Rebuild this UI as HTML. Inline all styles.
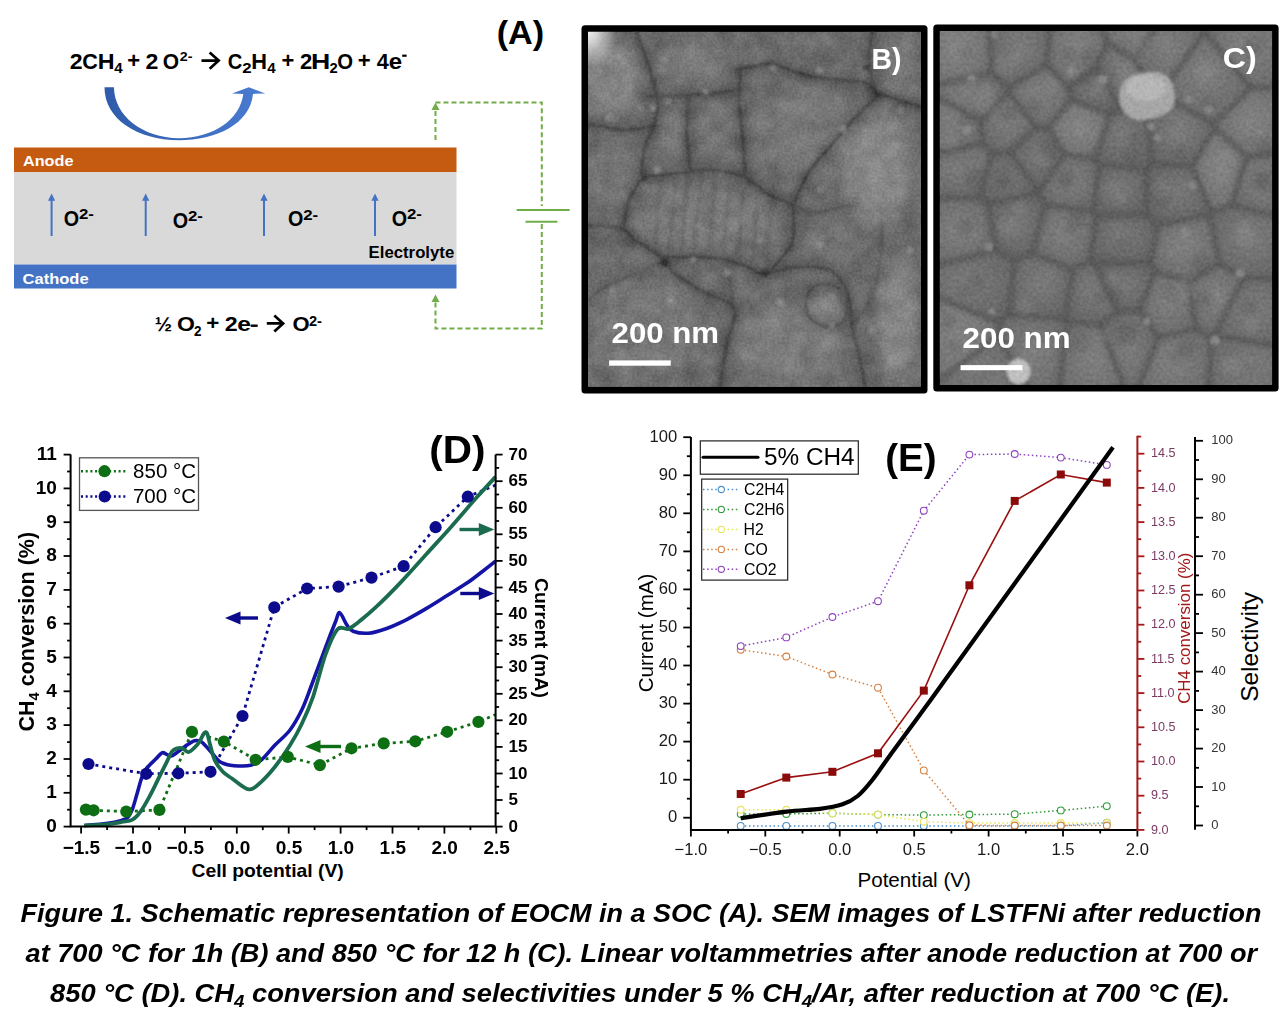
<!DOCTYPE html>
<html><head><meta charset="utf-8"><style>
html,body{margin:0;padding:0;background:#fff;}
body{width:1287px;height:1028px;overflow:hidden;}
svg{display:block;}
text{font-family:"Liberation Sans", sans-serif;}
.b{font-weight:bold;}
.r{font-weight:normal;}
.bi{font-weight:bold;font-style:italic;}
</style></head><body>
<svg width="1287" height="1028" viewBox="0 0 1287 1028" fill="#000">
<rect width="1287" height="1028" fill="#fff"/>
<rect x="14" y="147.5" width="442.5" height="24.5" fill="#C55A11"/>
<rect x="14" y="172" width="442.5" height="92.5" fill="#D9D9D9"/>
<rect x="14" y="264.5" width="442.5" height="24" fill="#4472C4"/>
<text transform="translate(22.89,166.1) scale(1.0507,1)" class="b" font-size="15.5" fill="#fff" >Anode</text>
<text transform="translate(22.62,283.8) scale(1.0652,1)" class="b" font-size="15.5" fill="#fff" >Cathode</text>
<text transform="translate(368.58,258.2) scale(1.0474,1)" class="b" font-size="16" fill="#000" >Electrolyte</text>
<line x1="51.6" y1="236" x2="51.6" y2="199" stroke="#4472C4" stroke-width="2"/>
<polygon points="48.0,200.8 51.6,193.4 55.2,200.8" fill="#4472C4"/>
<line x1="145.7" y1="236" x2="145.7" y2="199" stroke="#4472C4" stroke-width="2"/>
<polygon points="142.1,200.8 145.7,193.4 149.29999999999998,200.8" fill="#4472C4"/>
<line x1="264.0" y1="236" x2="264.0" y2="199" stroke="#4472C4" stroke-width="2"/>
<polygon points="260.4,200.8 264.0,193.4 267.6,200.8" fill="#4472C4"/>
<line x1="375.0" y1="236" x2="375.0" y2="199" stroke="#4472C4" stroke-width="2"/>
<polygon points="371.4,200.8 375.0,193.4 378.6,200.8" fill="#4472C4"/>
<text transform="translate(63.79,225.8) scale(0.8962,1)" class="b" font-size="22" fill="#000" >O</text>
<text transform="translate(78.92,219.2) scale(1.0852,1)" class="b" font-size="15.5" fill="#000" >2-</text>
<text transform="translate(172.79,227.60000000000002) scale(0.8962,1)" class="b" font-size="22" fill="#000" >O</text>
<text transform="translate(187.92,221.0) scale(1.0852,1)" class="b" font-size="15.5" fill="#000" >2-</text>
<text transform="translate(288.09,226.3) scale(0.8962,1)" class="b" font-size="22" fill="#000" >O</text>
<text transform="translate(303.22,219.7) scale(1.0852,1)" class="b" font-size="15.5" fill="#000" >2-</text>
<text transform="translate(391.79,225.8) scale(0.8962,1)" class="b" font-size="22" fill="#000" >O</text>
<text transform="translate(406.92,219.2) scale(1.0852,1)" class="b" font-size="15.5" fill="#000" >2-</text>
<text transform="translate(69.80,68.7) scale(1.0480,1)" class="b" font-size="22" fill="#000" >2</text>
<text transform="translate(82.32,68.7) scale(0.9803,1)" class="b" font-size="22" fill="#000" >C</text>
<text transform="translate(97.74,68.7) scale(1.0593,1)" class="b" font-size="22" fill="#000" >H</text>
<text transform="translate(114.27,72.8) scale(0.9819,1)" class="b" font-size="15.4" fill="#000" >4</text>
<text transform="translate(127.17,67.5) scale(1.0061,1)" class="b" font-size="22" fill="#000" >+</text>
<text transform="translate(145.50,68.7) scale(1.0480,1)" class="b" font-size="22" fill="#000" >2</text>
<text transform="translate(162.64,68.7) scale(0.9551,1)" class="b" font-size="22" fill="#000" >O</text>
<text transform="translate(179.71,61.2) scale(1.1127,1)" class="b" font-size="12.8" fill="#000" >2-</text>
<text transform="translate(227.67,68.7) scale(0.9177,1)" class="b" font-size="22" fill="#000" >C</text>
<text transform="translate(242.22,72.8) scale(1.0925,1)" class="b" font-size="15.4" fill="#000" >2</text>
<text transform="translate(251.34,68.7) scale(0.9897,1)" class="b" font-size="22" fill="#000" >H</text>
<text transform="translate(267.17,72.8) scale(0.9819,1)" class="b" font-size="15.4" fill="#000" >4</text>
<text transform="translate(281.38,67.5) scale(0.9971,1)" class="b" font-size="22" fill="#000" >+</text>
<text transform="translate(299.94,68.7) scale(1.0008,1)" class="b" font-size="22" fill="#000" >2</text>
<text transform="translate(311.01,68.7) scale(1.2139,1)" class="b" font-size="22" fill="#000" >H</text>
<text transform="translate(329.49,72.8) scale(0.9576,1)" class="b" font-size="15.4" fill="#000" >2</text>
<text transform="translate(337.27,68.7) scale(0.9224,1)" class="b" font-size="22" fill="#000" >O</text>
<text transform="translate(357.87,67.5) scale(1.0061,1)" class="b" font-size="22" fill="#000" >+</text>
<text transform="translate(376.67,68.7) scale(0.9844,1)" class="b" font-size="22" fill="#000" >4</text>
<text transform="translate(388.66,68.7) scale(1.0919,1)" class="b" font-size="22" fill="#000" >e</text>
<rect x="402.2" y="54.6" width="4.4" height="2.2" fill="#000"/>
<path d="M201.5,60.6 H218.70000000000002 M209.65,52.400000000000006 L218.70000000000002,60.6 L209.65,68.8" stroke="#000" stroke-width="2.7" fill="none" stroke-linecap="butt" stroke-linejoin="miter" stroke-miterlimit="10"/>
<text transform="translate(154.65,331.3) scale(0.9894,1)" class="b" font-size="21" fill="#000" >½</text>
<text transform="translate(177.06,331.3) scale(1.0965,1)" class="b" font-size="21" fill="#000" >O</text>
<text transform="translate(194.03,335.7) scale(0.9311,1)" class="b" font-size="14.5" fill="#000" >2</text>
<text transform="translate(206.36,330.1) scale(1.0636,1)" class="b" font-size="21" fill="#000" >+</text>
<text transform="translate(224.69,331.3) scale(1.1078,1)" class="b" font-size="21" fill="#000" >2</text>
<text transform="translate(237.14,331.3) scale(1.1734,1)" class="b" font-size="21" fill="#000" >e</text>
<rect x="250.7" y="324.5" width="7" height="2.4" fill="#000"/>
<path d="M266.8,323.4 H283.1 M274.3,315.4 L283.1,323.4 L274.3,331.4" stroke="#000" stroke-width="2.7" fill="none" stroke-linecap="butt" stroke-linejoin="miter" stroke-miterlimit="10"/>
<text transform="translate(292.50,331.3) scale(1.0486,1)" class="b" font-size="21" fill="#000" >O</text>
<text transform="translate(308.89,326.2) scale(1.0077,1)" class="b" font-size="14.5" fill="#000" >2-</text>
<text transform="translate(496.70,43.7) scale(1.0066,1)" class="b" font-size="34" fill="#000" >(A)</text>
<defs><linearGradient id="ga" x1="0" x2="1" y1="0" y2="0"><stop offset="0" stop-color="#2F5BAA"/><stop offset="1" stop-color="#4A7CD2"/></linearGradient></defs>
<path d="M104.5,87.3 L113.9,87.3 C114.5,116 142,137.6 179,138.3 C213,137.6 240,120 243.3,93.9 L232,93.5 L248.8,87.3 L265.3,93.5 L253,93.9 C250,124 216,140.2 179,140.2 C137,140.2 104.5,119 104.5,87.3 Z" fill="url(#ga)"/>
<path d="M435.5,140 V106 M435.5,102.6 H541.8 V206 M541.8,224 V328.6 H435.5 V297" stroke="#70AD47" stroke-width="2" stroke-dasharray="5,3" fill="none"/>
<polygon points="431.5,110 435.5,102.5 439.5,110" fill="#70AD47"/>
<polygon points="431.5,302 435.5,294.6 439.5,302" fill="#70AD47"/>
<line x1="516.6" y1="210" x2="569.7" y2="210" stroke="#70AD47" stroke-width="2"/>
<line x1="525.5" y1="221.7" x2="557.4" y2="221.7" stroke="#70AD47" stroke-width="2"/>
<defs><clipPath id="clip1"><rect x="588.0" y="31.7" width="333" height="355.2"/></clipPath></defs>
<rect x="581.5" y="25.2" width="346" height="368.2" rx="3.5" fill="#000"/>
<g clip-path="url(#clip1)">
<defs><filter id="fb1" color-interpolation-filters="sRGB" x="-20%" y="-20%" width="140%" height="140%"><feGaussianBlur stdDeviation="7"/></filter><filter id="fb2" color-interpolation-filters="sRGB" x="-20%" y="-20%" width="140%" height="140%"><feGaussianBlur stdDeviation="4"/></filter><filter id="fb3" color-interpolation-filters="sRGB" x="-20%" y="-20%" width="140%" height="140%"><feGaussianBlur stdDeviation="1.0"/></filter><filter id="fb4" color-interpolation-filters="sRGB" x="-50%" y="-50%" width="200%" height="200%"><feGaussianBlur stdDeviation="1.4"/></filter><filter id="fb2s" color-interpolation-filters="sRGB" x="-20%" y="-20%" width="140%" height="140%"><feGaussianBlur stdDeviation="1.8"/></filter><filter id="noise1b" color-interpolation-filters="sRGB" x="0" y="0" width="100%" height="100%"><feTurbulence type="fractalNoise" baseFrequency="0.06" numOctaves="2" seed="11"/><feColorMatrix type="matrix" values="1 0 0 0 0  1 0 0 0 0  1 0 0 0 0  0 0 0 0 1"/></filter><filter id="noise1" color-interpolation-filters="sRGB" x="0" y="0" width="100%" height="100%"><feTurbulence type="fractalNoise" baseFrequency="0.4" numOctaves="2" seed="3"/><feColorMatrix type="matrix" values="1 0 0 0 0  1 0 0 0 0  1 0 0 0 0  0 0 0 0 1"/></filter></defs>
<rect x="588.0" y="31.7" width="333" height="355.2" fill="rgb(100,100,100)"/>
<g filter="url(#fb1)">
<ellipse cx="612" cy="78" rx="28" ry="38" fill="rgb(138,138,138)" opacity="0.9"/>
<ellipse cx="612" cy="178" rx="24" ry="36" fill="rgb(118,118,118)" opacity="0.8"/>
<ellipse cx="668" cy="135" rx="14" ry="30" fill="rgb(118,118,118)" opacity="0.8"/>
<ellipse cx="715" cy="133" rx="20" ry="32" fill="rgb(114,114,114)" opacity="0.8"/>
<ellipse cx="695" cy="62" rx="36" ry="22" fill="rgb(126,126,126)" opacity="0.8"/>
<ellipse cx="805" cy="130" rx="48" ry="45" fill="rgb(122,122,122)" opacity="0.8"/>
<ellipse cx="898" cy="62" rx="16" ry="26" fill="rgb(128,128,128)" opacity="0.8"/>
<ellipse cx="878" cy="170" rx="34" ry="55" fill="rgb(142,142,142)" opacity="0.9"/>
<ellipse cx="705" cy="220" rx="70" ry="32" fill="rgb(124,124,124)" opacity="0.85"/>
<ellipse cx="830" cy="240" rx="26" ry="22" fill="rgb(116,116,116)" opacity="0.8"/>
<ellipse cx="645" cy="330" rx="55" ry="50" fill="rgb(120,120,120)" opacity="0.8"/>
<ellipse cx="700" cy="282" rx="22" ry="14" fill="rgb(110,110,110)" opacity="0.7"/>
<ellipse cx="790" cy="345" rx="55" ry="40" fill="rgb(128,128,128)" opacity="0.8"/>
<ellipse cx="827" cy="305" rx="17" ry="17" fill="rgb(132,132,132)" opacity="0.8"/>
<ellipse cx="897" cy="320" rx="20" ry="60" fill="rgb(140,140,140)" opacity="0.9"/>
</g>
<g filter="url(#fb2)" fill="none" stroke="rgb(45,45,45)" stroke-linecap="round" stroke-linejoin="round">
<path d="M636.6,31.0 C637.2,32.8 638.0,36.2 640.0,42.0 C642.0,47.8 645.9,56.0 648.8,65.7 C651.7,75.4 656.5,90.6 657.4,100.4 C658.3,110.2 656.0,117.3 654.0,124.8 C652.0,132.3 647.3,138.1 645.3,145.6 C643.3,153.1 642.1,164.7 641.8,169.9 C641.5,175.1 643.3,175.7 643.6,176.8" stroke-width="10" opacity="0.50"/>
<path d="M588.0,124.8 C590.8,125.2 599.2,126.1 605.0,127.0 C610.8,127.9 614.5,130.1 622.7,130.0 C630.9,129.9 648.8,127.1 654.0,126.5" stroke-width="10" opacity="0.45"/>
<path d="M688.7,97.0 C688.4,103.4 686.7,123.0 687.0,135.2 C687.3,147.3 689.8,164.1 690.4,169.9" stroke-width="10" opacity="0.40"/>
<path d="M647.0,97.0 C649.2,96.8 653.0,96.3 660.0,96.0 C667.0,95.7 679.5,95.7 688.7,95.2 C697.9,94.7 706.3,93.9 715.0,93.0 C723.7,92.1 736.5,90.5 740.8,90.0" stroke-width="10" opacity="0.40"/>
<path d="M740.8,69.2 C740.5,74.4 738.7,89.4 739.0,100.4 C739.3,111.4 741.3,122.5 742.5,135.2 C743.7,147.9 744.5,168.7 746.0,176.8 C747.5,184.9 750.3,182.6 751.2,183.8" stroke-width="10" opacity="0.45"/>
<path d="M737.3,69.2 C740.2,68.7 749.2,66.9 755.0,66.0 C760.8,65.1 766.2,63.3 772.0,64.0 C777.8,64.7 783.6,68.0 790.0,70.0 C796.4,72.0 801.9,74.4 810.2,76.1 C818.5,77.8 830.7,78.8 840.0,80.0 C849.3,81.2 859.8,80.8 865.8,83.0 C871.8,85.2 874.5,91.8 876.2,93.5" stroke-width="10" opacity="0.50"/>
<path d="M872.7,31.0 C872.1,34.2 869.9,44.2 869.3,50.0 C868.7,55.8 868.1,58.5 869.3,65.7 C870.4,73.0 875.1,88.9 876.2,93.5" stroke-width="10" opacity="0.40"/>
<path d="M876.2,93.5 C880.2,94.7 892.9,98.1 900.5,100.4 C908.1,102.7 918.4,106.2 922.0,107.4" stroke-width="10" opacity="0.50"/>
<path d="M876.2,97.0 C872.2,101.0 859.4,113.2 851.9,121.3 C844.4,129.4 838.0,137.5 831.0,145.6 C824.0,153.7 816.0,161.2 810.2,169.9 C804.4,178.6 799.2,191.9 796.3,197.7 C793.4,203.5 793.5,203.4 792.9,204.6" stroke-width="10" opacity="0.50"/>
<path d="M643.6,176.8 C646.3,176.5 654.8,175.6 660.0,175.0 C665.2,174.4 666.5,174.2 674.8,173.4 C683.0,172.6 697.9,169.3 709.5,169.9 C721.1,170.5 734.4,172.8 744.3,176.8 C754.1,180.9 760.5,189.6 768.6,194.2 C776.7,198.8 788.9,202.9 792.9,204.6" stroke-width="10" opacity="0.45"/>
<path d="M643.6,176.8 C641.3,180.3 632.9,189.6 629.7,197.7 C626.5,205.8 623.9,218.5 624.5,225.4 C625.1,232.3 631.7,237.0 633.1,239.3" stroke-width="10" opacity="0.45"/>
<path d="M633.1,239.3 C635.6,240.8 642.8,245.1 648.0,248.0 C653.2,250.9 655.9,255.2 664.4,256.7 C672.9,258.1 688.7,256.1 699.1,256.7 C709.5,257.3 719.2,258.6 726.9,260.2 C734.5,261.8 738.6,263.7 745.0,266.0 C751.4,268.3 758.9,275.7 765.1,274.1 C771.3,272.6 777.8,262.5 782.4,256.7 C787.0,250.9 791.1,248.0 792.9,239.3 C794.6,230.6 792.9,210.4 792.9,204.6" stroke-width="10" opacity="0.50"/>
<path d="M588.0,225.4 C590.8,225.5 599.2,225.4 605.0,226.0 C610.8,226.6 618.0,226.7 622.7,228.9 C627.4,231.1 631.4,237.6 633.1,239.3" stroke-width="10" opacity="0.40"/>
<path d="M664.4,260.2 C666.1,262.5 668.4,268.9 674.8,274.1 C681.2,279.3 692.8,285.6 702.6,291.4 C712.4,297.2 729.8,300.1 733.8,308.8 C737.8,317.5 729.2,330.3 726.9,343.5 C724.6,356.7 721.1,380.6 719.9,388.0" stroke-width="10" opacity="0.45"/>
<path d="M726.9,260.2 L733.8,308.8" stroke-width="10" opacity="0.25"/>
<path d="M765.1,274.1 C770.3,272.9 785.3,267.7 796.3,267.1 C807.3,266.5 822.3,266.0 831.0,270.6 C839.7,275.2 844.9,285.6 848.4,294.9 C851.9,304.1 850.3,316.9 851.9,326.1 C853.5,335.3 855.7,339.7 858.0,350.0 C860.3,360.3 864.5,381.7 865.8,388.0" stroke-width="10" opacity="0.45"/>
<path d="M848.0,300.0 C847.5,303.0 847.2,313.7 845.0,318.0 C842.8,322.3 839.2,324.8 835.0,326.0 C830.8,327.2 824.5,326.8 820.0,325.0 C815.5,323.2 810.3,319.2 808.0,315.0 C805.7,310.8 805.3,304.5 806.0,300.0 C806.7,295.5 808.8,290.7 812.0,288.0 C815.2,285.3 820.3,284.0 825.0,284.0 C829.7,284.0 837.5,287.3 840.0,288.0" stroke-width="10" opacity="0.30"/>
<path d="M792.9,204.6 C795.8,205.8 803.8,211.1 810.0,212.0 C816.2,212.9 823.3,211.2 830.0,210.0 C836.7,208.8 846.7,205.8 850.0,205.0" stroke-width="10" opacity="0.20"/>
<path d="M851.9,326.1 C854.9,321.8 865.3,311.0 870.0,300.0 C874.7,289.0 878.0,273.3 880.0,260.0 C882.0,246.7 881.7,226.7 882.0,220.0" stroke-width="10" opacity="0.17"/>
<path d="M588.0,300.0 C590.0,298.3 594.7,293.3 600.0,290.0 C605.3,286.7 613.3,283.0 620.0,280.0 C626.7,277.0 632.6,275.3 640.0,272.0 C647.4,268.7 660.3,262.2 664.4,260.2" stroke-width="10" opacity="0.15"/>
</g>
<g filter="url(#fb3)" fill="none" stroke="rgb(38,38,38)" stroke-linecap="round" stroke-linejoin="round">
<path d="M636.6,31.0 C637.2,32.8 638.0,36.2 640.0,42.0 C642.0,47.8 645.9,56.0 648.8,65.7 C651.7,75.4 656.5,90.6 657.4,100.4 C658.3,110.2 656.0,117.3 654.0,124.8 C652.0,132.3 647.3,138.1 645.3,145.6 C643.3,153.1 642.1,164.7 641.8,169.9 C641.5,175.1 643.3,175.7 643.6,176.8" stroke-width="2.3" opacity="0.90"/>
<path d="M588.0,124.8 C590.8,125.2 599.2,126.1 605.0,127.0 C610.8,127.9 614.5,130.1 622.7,130.0 C630.9,129.9 648.8,127.1 654.0,126.5" stroke-width="2.3" opacity="0.81"/>
<path d="M688.7,97.0 C688.4,103.4 686.7,123.0 687.0,135.2 C687.3,147.3 689.8,164.1 690.4,169.9" stroke-width="2.3" opacity="0.72"/>
<path d="M647.0,97.0 C649.2,96.8 653.0,96.3 660.0,96.0 C667.0,95.7 679.5,95.7 688.7,95.2 C697.9,94.7 706.3,93.9 715.0,93.0 C723.7,92.1 736.5,90.5 740.8,90.0" stroke-width="2.3" opacity="0.72"/>
<path d="M740.8,69.2 C740.5,74.4 738.7,89.4 739.0,100.4 C739.3,111.4 741.3,122.5 742.5,135.2 C743.7,147.9 744.5,168.7 746.0,176.8 C747.5,184.9 750.3,182.6 751.2,183.8" stroke-width="2.3" opacity="0.81"/>
<path d="M737.3,69.2 C740.2,68.7 749.2,66.9 755.0,66.0 C760.8,65.1 766.2,63.3 772.0,64.0 C777.8,64.7 783.6,68.0 790.0,70.0 C796.4,72.0 801.9,74.4 810.2,76.1 C818.5,77.8 830.7,78.8 840.0,80.0 C849.3,81.2 859.8,80.8 865.8,83.0 C871.8,85.2 874.5,91.8 876.2,93.5" stroke-width="2.3" opacity="0.90"/>
<path d="M872.7,31.0 C872.1,34.2 869.9,44.2 869.3,50.0 C868.7,55.8 868.1,58.5 869.3,65.7 C870.4,73.0 875.1,88.9 876.2,93.5" stroke-width="2.3" opacity="0.72"/>
<path d="M876.2,93.5 C880.2,94.7 892.9,98.1 900.5,100.4 C908.1,102.7 918.4,106.2 922.0,107.4" stroke-width="2.3" opacity="0.90"/>
<path d="M876.2,97.0 C872.2,101.0 859.4,113.2 851.9,121.3 C844.4,129.4 838.0,137.5 831.0,145.6 C824.0,153.7 816.0,161.2 810.2,169.9 C804.4,178.6 799.2,191.9 796.3,197.7 C793.4,203.5 793.5,203.4 792.9,204.6" stroke-width="2.3" opacity="0.90"/>
<path d="M643.6,176.8 C646.3,176.5 654.8,175.6 660.0,175.0 C665.2,174.4 666.5,174.2 674.8,173.4 C683.0,172.6 697.9,169.3 709.5,169.9 C721.1,170.5 734.4,172.8 744.3,176.8 C754.1,180.9 760.5,189.6 768.6,194.2 C776.7,198.8 788.9,202.9 792.9,204.6" stroke-width="2.3" opacity="0.81"/>
<path d="M643.6,176.8 C641.3,180.3 632.9,189.6 629.7,197.7 C626.5,205.8 623.9,218.5 624.5,225.4 C625.1,232.3 631.7,237.0 633.1,239.3" stroke-width="2.3" opacity="0.81"/>
<path d="M633.1,239.3 C635.6,240.8 642.8,245.1 648.0,248.0 C653.2,250.9 655.9,255.2 664.4,256.7 C672.9,258.1 688.7,256.1 699.1,256.7 C709.5,257.3 719.2,258.6 726.9,260.2 C734.5,261.8 738.6,263.7 745.0,266.0 C751.4,268.3 758.9,275.7 765.1,274.1 C771.3,272.6 777.8,262.5 782.4,256.7 C787.0,250.9 791.1,248.0 792.9,239.3 C794.6,230.6 792.9,210.4 792.9,204.6" stroke-width="2.3" opacity="0.90"/>
<path d="M588.0,225.4 C590.8,225.5 599.2,225.4 605.0,226.0 C610.8,226.6 618.0,226.7 622.7,228.9 C627.4,231.1 631.4,237.6 633.1,239.3" stroke-width="2.3" opacity="0.72"/>
<path d="M664.4,260.2 C666.1,262.5 668.4,268.9 674.8,274.1 C681.2,279.3 692.8,285.6 702.6,291.4 C712.4,297.2 729.8,300.1 733.8,308.8 C737.8,317.5 729.2,330.3 726.9,343.5 C724.6,356.7 721.1,380.6 719.9,388.0" stroke-width="2.3" opacity="0.81"/>
<path d="M726.9,260.2 L733.8,308.8" stroke-width="2.3" opacity="0.45"/>
<path d="M765.1,274.1 C770.3,272.9 785.3,267.7 796.3,267.1 C807.3,266.5 822.3,266.0 831.0,270.6 C839.7,275.2 844.9,285.6 848.4,294.9 C851.9,304.1 850.3,316.9 851.9,326.1 C853.5,335.3 855.7,339.7 858.0,350.0 C860.3,360.3 864.5,381.7 865.8,388.0" stroke-width="2.3" opacity="0.81"/>
<path d="M848.0,300.0 C847.5,303.0 847.2,313.7 845.0,318.0 C842.8,322.3 839.2,324.8 835.0,326.0 C830.8,327.2 824.5,326.8 820.0,325.0 C815.5,323.2 810.3,319.2 808.0,315.0 C805.7,310.8 805.3,304.5 806.0,300.0 C806.7,295.5 808.8,290.7 812.0,288.0 C815.2,285.3 820.3,284.0 825.0,284.0 C829.7,284.0 837.5,287.3 840.0,288.0" stroke-width="2.3" opacity="0.54"/>
<path d="M792.9,204.6 C795.8,205.8 803.8,211.1 810.0,212.0 C816.2,212.9 823.3,211.2 830.0,210.0 C836.7,208.8 846.7,205.8 850.0,205.0" stroke-width="2.3" opacity="0.36"/>
<path d="M851.9,326.1 C854.9,321.8 865.3,311.0 870.0,300.0 C874.7,289.0 878.0,273.3 880.0,260.0 C882.0,246.7 881.7,226.7 882.0,220.0" stroke-width="2.3" opacity="0.32"/>
<path d="M588.0,300.0 C590.0,298.3 594.7,293.3 600.0,290.0 C605.3,286.7 613.3,283.0 620.0,280.0 C626.7,277.0 632.6,275.3 640.0,272.0 C647.4,268.7 660.3,262.2 664.4,260.2" stroke-width="2.3" opacity="0.27"/>
</g>
<g filter="url(#fb4)" fill="rgb(25,25,25)">
<circle cx="664.5" cy="262" r="4.5"/>
<circle cx="764.5" cy="273" r="4"/>
<circle cx="878" cy="94" r="2.5"/>
<circle cx="644" cy="178" r="2.5"/>
<circle cx="865.8" cy="67.8" r="2.5"/>
</g>
<filter id="fbc" color-interpolation-filters="sRGB" x="-100%" y="-100%" width="300%" height="300%"><feGaussianBlur stdDeviation="5"/></filter>
<clipPath id="clipD"><path d="M643.6,176.8 L674.8,173.4 L709.5,169.9 L744.3,176.8 L768.6,194.2 L792.9,204.6 L792.9,239.3 L782.4,256.7 L765.1,274.1 L726.9,260.2 L699.1,256.7 L664.4,256.7 L633.1,239.3 L624.5,225.4 L629.7,197.7 Z"/></clipPath>
<g clip-path="url(#clipD)"><g filter="url(#fb2s)" stroke="rgb(60,60,60)" stroke-width="3.5" opacity="0.3">
<line x1="653" y1="265" x2="661" y2="172"/>
<line x1="668" y1="265" x2="676" y2="172"/>
<line x1="680" y1="265" x2="688" y2="172"/>
<line x1="693" y1="265" x2="701" y2="172"/>
<line x1="708" y1="265" x2="716" y2="172"/>
<line x1="722" y1="265" x2="730" y2="172"/>
<line x1="737" y1="265" x2="745" y2="172"/>
<line x1="752" y1="265" x2="760" y2="172"/>
<line x1="766" y1="265" x2="774" y2="172"/>
</g></g>
<g filter="url(#fb4)" fill="rgb(150,150,150)">
<circle cx="665" cy="59.5" r="3.4" opacity="0.7"/>
<circle cx="620" cy="56" r="3.4" opacity="0.7"/>
<circle cx="629" cy="88" r="3.4" opacity="0.7"/>
<circle cx="653" cy="108" r="3.4" opacity="0.7"/>
<circle cx="668" cy="102" r="3.4" opacity="0.7"/>
<circle cx="706" cy="92" r="3.4" opacity="0.7"/>
<circle cx="773" cy="68" r="3.4" opacity="0.7"/>
<circle cx="820" cy="70" r="3.4" opacity="0.7"/>
<circle cx="843" cy="129" r="3.4" opacity="0.7"/>
<circle cx="880" cy="165" r="3.4" opacity="0.7"/>
<circle cx="897" cy="145" r="3.4" opacity="0.7"/>
<circle cx="865" cy="130" r="3.4" opacity="0.7"/>
<circle cx="857" cy="152" r="3.4" opacity="0.7"/>
<circle cx="900" cy="110" r="3.4" opacity="0.7"/>
<circle cx="608" cy="117" r="3.4" opacity="0.7"/>
<circle cx="657" cy="170" r="3.4" opacity="0.7"/>
<circle cx="640" cy="107" r="3.4" opacity="0.7"/>
<circle cx="699" cy="226" r="3.4" opacity="0.7"/>
<circle cx="693" cy="260" r="3.4" opacity="0.7"/>
<circle cx="728" cy="273" r="3.4" opacity="0.7"/>
<circle cx="832" cy="296" r="3.4" opacity="0.7"/>
<circle cx="832" cy="326" r="3.4" opacity="0.7"/>
<circle cx="910" cy="250" r="3.4" opacity="0.7"/>
<circle cx="890" cy="360" r="3.4" opacity="0.7"/>
<circle cx="872" cy="330" r="3.4" opacity="0.7"/>
<circle cx="780" cy="302" r="3.4" opacity="0.7"/>
<circle cx="640" cy="330" r="3.4" opacity="0.7"/>
<circle cx="670" cy="300" r="3.4" opacity="0.7"/>
<circle cx="612" cy="290" r="3.4" opacity="0.7"/>
<circle cx="760" cy="240" r="3.4" opacity="0.7"/>
<circle cx="820" cy="245" r="3.4" opacity="0.7"/>
<circle cx="600" cy="72" r="3.4" opacity="0.7"/>
<circle cx="850" cy="175" r="3.4" opacity="0.7"/>
<circle cx="820" cy="190" r="3.4" opacity="0.7"/>
</g>
<rect x="588.0" y="31.7" width="333" height="355.2" filter="url(#noise1)" opacity="0.16"/>
<rect x="588.0" y="31.7" width="333" height="355.2" filter="url(#noise1b)" opacity="0.14"/>
<radialGradient id="glowB" cx="0.5" cy="0.5" r="0.5"><stop offset="0" stop-color="#fff" stop-opacity="1"/><stop offset="0.35" stop-color="#fff" stop-opacity="0.75"/><stop offset="1" stop-color="#fff" stop-opacity="0"/></radialGradient>
<ellipse cx="588" cy="33" rx="28" ry="34" fill="url(#glowB)" opacity="0.9"/>
</g>
<text transform="translate(871.60,68.7) scale(0.9774,1)" class="b" font-size="29" fill="#fff" >B)</text>
<text transform="translate(611.52,342.5) scale(1.0479,1)" class="b" font-size="29.8" fill="#fff" >200 nm</text>
<rect x="609.1" y="360.4" width="61.6" height="5.3" fill="#fff"/>
<defs><clipPath id="clip2"><rect x="939.8" y="30.9" width="332.3" height="354"/></clipPath></defs>
<rect x="933.3" y="24.4" width="345.3" height="367" rx="3.5" fill="#000"/>
<g clip-path="url(#clip2)">
<defs><radialGradient id="cg2" cx="0.5" cy="0.45" r="0.62"><stop offset="0" stop-color="#fff" stop-opacity="0.16"/><stop offset="1" stop-color="#fff" stop-opacity="0"/></radialGradient><filter id="fc1" color-interpolation-filters="sRGB" x="-30%" y="-30%" width="160%" height="160%"><feGaussianBlur stdDeviation="2.4"/></filter><filter id="fc2" color-interpolation-filters="sRGB" x="-50%" y="-50%" width="200%" height="200%"><feGaussianBlur stdDeviation="1.4"/></filter><filter id="noise2" color-interpolation-filters="sRGB" x="0" y="0" width="100%" height="100%"><feTurbulence type="fractalNoise" baseFrequency="0.3" numOctaves="2" seed="7"/><feColorMatrix type="matrix" values="1 0 0 0 0  1 0 0 0 0  1 0 0 0 0  0 0 0 0 1"/></filter></defs>
<rect x="939.8" y="30.9" width="332.3" height="354" fill="rgb(80,80,80)"/>
<g filter="url(#fc1)">
<path d="M923.4,13.1 L923.3,13.1 L923.1,13.1 L923.0,13.2 L922.9,13.2 L922.7,13.3 L922.6,13.3 L922.5,13.4 L922.4,13.5 L922.3,13.6 L922.2,13.7 L922.2,13.8 L922.1,14.0 L922.1,14.1 L922.0,14.2 L922.0,14.4 L922.0,14.5 L922.0,83.9 L922.0,84.0 L922.0,84.2 L922.1,84.3 L922.1,84.5 L922.2,84.6 L922.2,84.7 L922.3,84.8 L922.4,84.9 L922.5,85.0 L922.6,85.1 L922.8,85.2 L922.9,85.2 L923.0,85.3 L923.2,85.3 L923.3,85.3 L923.4,85.3 L923.6,85.3 L923.7,85.3 L987.8,70.9 L987.9,70.8 L988.0,70.8 L988.1,70.7 L988.3,70.6 L988.4,70.6 L988.5,70.5 L988.6,70.3 L988.6,70.2 L988.7,70.1 L988.8,70.0 L988.8,69.9 L988.8,69.7 L988.8,69.6 L988.8,69.4 L986.6,14.4 L986.6,14.3 L986.6,14.2 L986.5,14.0 L986.5,13.9 L986.4,13.8 L986.3,13.7 L986.3,13.6 L986.2,13.5 L986.1,13.4 L986.0,13.3 L985.8,13.3 L985.7,13.2 L985.6,13.2 L985.5,13.1 L985.3,13.1 L985.2,13.1 L923.4,13.1 Z" fill="rgb(110,110,110)"/>
<path d="M923.4,13.1 L923.3,13.1 L923.1,13.1 L923.0,13.2 L922.9,13.2 L922.7,13.3 L922.6,13.3 L922.5,13.4 L922.4,13.5 L922.3,13.6 L922.2,13.7 L922.2,13.8 L922.1,14.0 L922.1,14.1 L922.0,14.2 L922.0,14.4 L922.0,14.5 L922.0,83.9 L922.0,84.0 L922.0,84.2 L922.1,84.3 L922.1,84.5 L922.2,84.6 L922.2,84.7 L922.3,84.8 L922.4,84.9 L922.5,85.0 L922.6,85.1 L922.8,85.2 L922.9,85.2 L923.0,85.3 L923.2,85.3 L923.3,85.3 L923.4,85.3 L923.6,85.3 L923.7,85.3 L987.8,70.9 L987.9,70.8 L988.0,70.8 L988.1,70.7 L988.3,70.6 L988.4,70.6 L988.5,70.5 L988.6,70.3 L988.6,70.2 L988.7,70.1 L988.8,70.0 L988.8,69.9 L988.8,69.7 L988.8,69.6 L988.8,69.4 L986.6,14.4 L986.6,14.3 L986.6,14.2 L986.5,14.0 L986.5,13.9 L986.4,13.8 L986.3,13.7 L986.3,13.6 L986.2,13.5 L986.1,13.4 L986.0,13.3 L985.8,13.3 L985.7,13.2 L985.6,13.2 L985.5,13.1 L985.3,13.1 L985.2,13.1 L923.4,13.1 Z" fill="url(#cg2)"/>
<path d="M993.3,70.8 L993.3,70.9 L993.3,71.1 L993.4,71.2 L993.4,71.3 L993.5,71.4 L993.6,71.6 L993.6,71.7 L993.7,71.8 L1007.5,84.9 L1007.6,85.0 L1007.7,85.0 L1007.9,85.1 L1008.0,85.2 L1008.1,85.2 L1008.3,85.2 L1008.4,85.3 L1008.5,85.3 L1008.7,85.2 L1008.8,85.2 L1009.0,85.2 L1009.1,85.1 L1009.2,85.0 L1044.2,63.4 L1044.4,63.3 L1044.5,63.2 L1044.6,63.1 L1044.7,63.0 L1044.7,62.8 L1044.8,62.7 L1044.8,62.6 L1044.9,62.4 L1044.9,62.3 L1049.3,14.6 L1049.3,14.5 L1049.3,14.4 L1049.3,14.2 L1049.2,14.1 L1049.2,14.0 L1049.1,13.8 L1049.1,13.7 L1049.0,13.6 L1048.9,13.5 L1048.8,13.4 L1048.7,13.3 L1048.6,13.3 L1048.4,13.2 L1048.3,13.2 L1048.2,13.1 L1048.0,13.1 L1047.9,13.1 L992.4,13.1 L992.3,13.1 L992.1,13.1 L992.0,13.2 L991.9,13.2 L991.7,13.3 L991.6,13.3 L991.5,13.4 L991.4,13.5 L991.3,13.6 L991.2,13.8 L991.2,13.9 L991.1,14.0 L991.1,14.1 L991.0,14.3 L991.0,14.4 L991.0,14.6 L993.3,70.8 Z" fill="rgb(99,99,99)"/>
<path d="M993.3,70.8 L993.3,70.9 L993.3,71.1 L993.4,71.2 L993.4,71.3 L993.5,71.4 L993.6,71.6 L993.6,71.7 L993.7,71.8 L1007.5,84.9 L1007.6,85.0 L1007.7,85.0 L1007.9,85.1 L1008.0,85.2 L1008.1,85.2 L1008.3,85.2 L1008.4,85.3 L1008.5,85.3 L1008.7,85.2 L1008.8,85.2 L1009.0,85.2 L1009.1,85.1 L1009.2,85.0 L1044.2,63.4 L1044.4,63.3 L1044.5,63.2 L1044.6,63.1 L1044.7,63.0 L1044.7,62.8 L1044.8,62.7 L1044.8,62.6 L1044.9,62.4 L1044.9,62.3 L1049.3,14.6 L1049.3,14.5 L1049.3,14.4 L1049.3,14.2 L1049.2,14.1 L1049.2,14.0 L1049.1,13.8 L1049.1,13.7 L1049.0,13.6 L1048.9,13.5 L1048.8,13.4 L1048.7,13.3 L1048.6,13.3 L1048.4,13.2 L1048.3,13.2 L1048.2,13.1 L1048.0,13.1 L1047.9,13.1 L992.4,13.1 L992.3,13.1 L992.1,13.1 L992.0,13.2 L991.9,13.2 L991.7,13.3 L991.6,13.3 L991.5,13.4 L991.4,13.5 L991.3,13.6 L991.2,13.8 L991.2,13.9 L991.1,14.0 L991.1,14.1 L991.0,14.3 L991.0,14.4 L991.0,14.6 L993.3,70.8 Z" fill="url(#cg2)"/>
<path d="M1055.1,13.1 L1055.0,13.1 L1054.9,13.1 L1054.7,13.2 L1054.6,13.2 L1054.5,13.3 L1054.4,13.3 L1054.2,13.4 L1054.1,13.5 L1054.0,13.6 L1054.0,13.7 L1053.9,13.8 L1053.8,14.0 L1053.8,14.1 L1053.8,14.2 L1053.7,14.4 L1049.3,62.9 L1049.3,63.0 L1049.3,63.2 L1049.3,63.3 L1049.3,63.4 L1049.3,63.5 L1049.4,63.7 L1049.5,63.8 L1049.5,63.9 L1049.6,64.0 L1067.7,83.6 L1067.8,83.7 L1067.9,83.8 L1068.0,83.8 L1068.2,83.9 L1068.3,83.9 L1068.4,84.0 L1068.5,84.0 L1068.7,84.0 L1068.8,84.0 L1069.0,84.0 L1069.1,84.0 L1069.2,83.9 L1069.3,83.9 L1069.5,83.8 L1069.6,83.8 L1094.6,65.3 L1094.7,65.2 L1094.8,65.1 L1094.9,64.9 L1095.0,64.8 L1095.0,64.7 L1104.7,42.5 L1104.8,42.4 L1104.8,42.3 L1104.9,42.1 L1104.9,42.0 L1104.9,41.8 L1104.8,41.7 L1104.8,41.5 L1104.7,41.4 L1092.8,13.9 L1092.8,13.8 L1092.7,13.7 L1092.6,13.6 L1092.5,13.5 L1092.4,13.4 L1092.3,13.3 L1092.2,13.3 L1092.1,13.2 L1092.0,13.2 L1091.8,13.1 L1091.7,13.1 L1091.6,13.1 L1055.1,13.1 Z" fill="rgb(106,106,106)"/>
<path d="M1055.1,13.1 L1055.0,13.1 L1054.9,13.1 L1054.7,13.2 L1054.6,13.2 L1054.5,13.3 L1054.4,13.3 L1054.2,13.4 L1054.1,13.5 L1054.0,13.6 L1054.0,13.7 L1053.9,13.8 L1053.8,14.0 L1053.8,14.1 L1053.8,14.2 L1053.7,14.4 L1049.3,62.9 L1049.3,63.0 L1049.3,63.2 L1049.3,63.3 L1049.3,63.4 L1049.3,63.5 L1049.4,63.7 L1049.5,63.8 L1049.5,63.9 L1049.6,64.0 L1067.7,83.6 L1067.8,83.7 L1067.9,83.8 L1068.0,83.8 L1068.2,83.9 L1068.3,83.9 L1068.4,84.0 L1068.5,84.0 L1068.7,84.0 L1068.8,84.0 L1069.0,84.0 L1069.1,84.0 L1069.2,83.9 L1069.3,83.9 L1069.5,83.8 L1069.6,83.8 L1094.6,65.3 L1094.7,65.2 L1094.8,65.1 L1094.9,64.9 L1095.0,64.8 L1095.0,64.7 L1104.7,42.5 L1104.8,42.4 L1104.8,42.3 L1104.9,42.1 L1104.9,42.0 L1104.9,41.8 L1104.8,41.7 L1104.8,41.5 L1104.7,41.4 L1092.8,13.9 L1092.8,13.8 L1092.7,13.7 L1092.6,13.6 L1092.5,13.5 L1092.4,13.4 L1092.3,13.3 L1092.2,13.3 L1092.1,13.2 L1092.0,13.2 L1091.8,13.1 L1091.7,13.1 L1091.6,13.1 L1055.1,13.1 Z" fill="url(#cg2)"/>
<path d="M1005.8,89.9 L1005.8,89.8 L1005.8,89.6 L1005.7,89.5 L1005.7,89.4 L1005.6,89.2 L1005.5,89.1 L1005.5,89.0 L1005.4,88.9 L991.0,75.3 L990.9,75.2 L990.8,75.1 L990.7,75.0 L990.6,75.0 L990.5,74.9 L990.3,74.9 L990.2,74.9 L990.0,74.9 L989.9,74.9 L989.8,74.9 L931.2,88.1 L931.1,88.1 L930.9,88.2 L930.8,88.2 L930.7,88.3 L930.6,88.4 L930.5,88.5 L930.4,88.6 L930.3,88.7 L930.3,88.8 L930.2,88.9 L930.2,89.1 L930.1,89.2 L930.1,89.3 L930.1,89.5 L930.1,89.6 L930.1,89.7 L930.2,89.9 L930.2,90.0 L930.3,90.1 L930.3,90.2 L930.4,90.3 L930.5,90.4 L930.6,90.5 L930.7,90.6 L930.8,90.7 L979.6,118.1 L979.7,118.2 L979.9,118.2 L980.0,118.3 L980.1,118.3 L980.3,118.3 L980.4,118.3 L980.5,118.3 L980.7,118.3 L980.8,118.2 L980.9,118.2 L981.0,118.1 L981.1,118.0 L981.2,118.0 L981.3,117.9 L1005.4,91.2 L1005.5,91.1 L1005.6,90.9 L1005.7,90.8 L1005.7,90.7 L1005.8,90.5 L1005.8,90.4 L1005.8,90.2 L1005.8,89.9 Z" fill="rgb(101,101,101)"/>
<path d="M1005.8,89.9 L1005.8,89.8 L1005.8,89.6 L1005.7,89.5 L1005.7,89.4 L1005.6,89.2 L1005.5,89.1 L1005.5,89.0 L1005.4,88.9 L991.0,75.3 L990.9,75.2 L990.8,75.1 L990.7,75.0 L990.6,75.0 L990.5,74.9 L990.3,74.9 L990.2,74.9 L990.0,74.9 L989.9,74.9 L989.8,74.9 L931.2,88.1 L931.1,88.1 L930.9,88.2 L930.8,88.2 L930.7,88.3 L930.6,88.4 L930.5,88.5 L930.4,88.6 L930.3,88.7 L930.3,88.8 L930.2,88.9 L930.2,89.1 L930.1,89.2 L930.1,89.3 L930.1,89.5 L930.1,89.6 L930.1,89.7 L930.2,89.9 L930.2,90.0 L930.3,90.1 L930.3,90.2 L930.4,90.3 L930.5,90.4 L930.6,90.5 L930.7,90.6 L930.8,90.7 L979.6,118.1 L979.7,118.2 L979.9,118.2 L980.0,118.3 L980.1,118.3 L980.3,118.3 L980.4,118.3 L980.5,118.3 L980.7,118.3 L980.8,118.2 L980.9,118.2 L981.0,118.1 L981.1,118.0 L981.2,118.0 L981.3,117.9 L1005.4,91.2 L1005.5,91.1 L1005.6,90.9 L1005.7,90.8 L1005.7,90.7 L1005.8,90.5 L1005.8,90.4 L1005.8,90.2 L1005.8,89.9 Z" fill="url(#cg2)"/>
<path d="M1010.9,89.2 L1010.8,89.3 L1010.7,89.4 L1010.6,89.5 L1010.5,89.6 L1010.4,89.7 L1010.3,89.8 L1010.3,89.9 L1010.2,90.1 L1010.2,90.2 L1010.2,90.3 L1010.2,90.5 L1010.2,90.6 L1010.3,90.8 L1010.3,90.9 L1010.4,91.0 L1010.4,91.1 L1010.5,91.3 L1036.9,124.2 L1037.0,124.3 L1037.1,124.4 L1037.2,124.5 L1037.3,124.6 L1037.5,124.6 L1037.6,124.7 L1037.7,124.7 L1037.9,124.7 L1046.6,125.5 L1046.8,125.5 L1046.9,125.5 L1047.0,125.4 L1047.2,125.4 L1047.3,125.4 L1047.4,125.3 L1047.5,125.2 L1047.6,125.2 L1047.7,125.1 L1047.8,125.0 L1068.4,99.9 L1068.5,99.8 L1068.5,99.7 L1068.6,99.6 L1068.6,99.4 L1068.7,99.3 L1068.7,99.2 L1068.7,99.0 L1068.7,98.9 L1068.7,98.7 L1066.4,88.9 L1066.3,88.7 L1066.3,88.6 L1066.2,88.5 L1066.1,88.3 L1066.0,88.2 L1047.3,68.0 L1047.2,67.9 L1047.1,67.8 L1047.0,67.7 L1046.9,67.6 L1046.7,67.6 L1046.6,67.6 L1046.5,67.5 L1046.3,67.5 L1046.2,67.5 L1046.1,67.5 L1045.9,67.6 L1045.8,67.6 L1045.7,67.7 L1045.6,67.7 L1010.9,89.2 Z" fill="rgb(103,103,103)"/>
<path d="M1010.9,89.2 L1010.8,89.3 L1010.7,89.4 L1010.6,89.5 L1010.5,89.6 L1010.4,89.7 L1010.3,89.8 L1010.3,89.9 L1010.2,90.1 L1010.2,90.2 L1010.2,90.3 L1010.2,90.5 L1010.2,90.6 L1010.3,90.8 L1010.3,90.9 L1010.4,91.0 L1010.4,91.1 L1010.5,91.3 L1036.9,124.2 L1037.0,124.3 L1037.1,124.4 L1037.2,124.5 L1037.3,124.6 L1037.5,124.6 L1037.6,124.7 L1037.7,124.7 L1037.9,124.7 L1046.6,125.5 L1046.8,125.5 L1046.9,125.5 L1047.0,125.4 L1047.2,125.4 L1047.3,125.4 L1047.4,125.3 L1047.5,125.2 L1047.6,125.2 L1047.7,125.1 L1047.8,125.0 L1068.4,99.9 L1068.5,99.8 L1068.5,99.7 L1068.6,99.6 L1068.6,99.4 L1068.7,99.3 L1068.7,99.2 L1068.7,99.0 L1068.7,98.9 L1068.7,98.7 L1066.4,88.9 L1066.3,88.7 L1066.3,88.6 L1066.2,88.5 L1066.1,88.3 L1066.0,88.2 L1047.3,68.0 L1047.2,67.9 L1047.1,67.8 L1047.0,67.7 L1046.9,67.6 L1046.7,67.6 L1046.6,67.6 L1046.5,67.5 L1046.3,67.5 L1046.2,67.5 L1046.1,67.5 L1045.9,67.6 L1045.8,67.6 L1045.7,67.7 L1045.6,67.7 L1010.9,89.2 Z" fill="url(#cg2)"/>
<path d="M1117.7,108.9 L1117.9,108.8 L1118.0,108.8 L1118.1,108.7 L1118.2,108.6 L1118.3,108.5 L1118.4,108.4 L1118.4,108.2 L1118.5,108.1 L1118.5,108.0 L1118.6,107.8 L1118.6,107.7 L1118.6,107.6 L1118.6,107.4 L1118.5,107.3 L1118.5,107.1 L1118.4,107.0 L1118.4,106.9 L1096.8,71.0 L1096.8,70.9 L1096.7,70.8 L1096.6,70.7 L1096.5,70.6 L1096.3,70.5 L1096.2,70.4 L1096.1,70.4 L1096.0,70.4 L1095.8,70.3 L1095.7,70.3 L1095.6,70.3 L1095.4,70.3 L1095.3,70.4 L1095.2,70.4 L1095.0,70.4 L1094.9,70.5 L1094.8,70.6 L1071.5,87.8 L1071.4,87.9 L1071.3,88.0 L1071.2,88.1 L1071.1,88.2 L1071.1,88.3 L1071.0,88.4 L1071.0,88.6 L1070.9,88.7 L1070.9,88.8 L1070.9,89.0 L1070.9,89.1 L1071.0,89.2 L1072.9,97.6 L1072.9,97.7 L1073.0,97.9 L1073.1,98.0 L1073.1,98.1 L1073.2,98.2 L1073.3,98.3 L1073.4,98.4 L1073.5,98.5 L1073.6,98.5 L1073.8,98.6 L1109.5,112.1 L1109.6,112.1 L1109.8,112.2 L1109.9,112.2 L1110.1,112.2 L1110.2,112.2 L1110.3,112.1 L1110.5,112.1 L1110.6,112.1 L1117.7,108.9 Z" fill="rgb(93,93,93)"/>
<path d="M1117.7,108.9 L1117.9,108.8 L1118.0,108.8 L1118.1,108.7 L1118.2,108.6 L1118.3,108.5 L1118.4,108.4 L1118.4,108.2 L1118.5,108.1 L1118.5,108.0 L1118.6,107.8 L1118.6,107.7 L1118.6,107.6 L1118.6,107.4 L1118.5,107.3 L1118.5,107.1 L1118.4,107.0 L1118.4,106.9 L1096.8,71.0 L1096.8,70.9 L1096.7,70.8 L1096.6,70.7 L1096.5,70.6 L1096.3,70.5 L1096.2,70.4 L1096.1,70.4 L1096.0,70.4 L1095.8,70.3 L1095.7,70.3 L1095.6,70.3 L1095.4,70.3 L1095.3,70.4 L1095.2,70.4 L1095.0,70.4 L1094.9,70.5 L1094.8,70.6 L1071.5,87.8 L1071.4,87.9 L1071.3,88.0 L1071.2,88.1 L1071.1,88.2 L1071.1,88.3 L1071.0,88.4 L1071.0,88.6 L1070.9,88.7 L1070.9,88.8 L1070.9,89.0 L1070.9,89.1 L1071.0,89.2 L1072.9,97.6 L1072.9,97.7 L1073.0,97.9 L1073.1,98.0 L1073.1,98.1 L1073.2,98.2 L1073.3,98.3 L1073.4,98.4 L1073.5,98.5 L1073.6,98.5 L1073.8,98.6 L1109.5,112.1 L1109.6,112.1 L1109.8,112.2 L1109.9,112.2 L1110.1,112.2 L1110.2,112.2 L1110.3,112.1 L1110.5,112.1 L1110.6,112.1 L1117.7,108.9 Z" fill="url(#cg2)"/>
<path d="M924.1,91.9 L924.0,91.9 L923.8,91.8 L923.7,91.8 L923.6,91.8 L923.4,91.8 L923.3,91.8 L923.1,91.8 L923.0,91.8 L922.9,91.9 L922.8,91.9 L922.6,92.0 L922.5,92.1 L922.4,92.2 L922.3,92.3 L922.2,92.4 L922.2,92.5 L922.1,92.6 L922.1,92.8 L922.0,92.9 L922.0,93.0 L922.0,93.2 L922.0,153.6 L922.0,153.7 L922.0,153.9 L922.1,154.0 L922.1,154.1 L922.2,154.3 L922.2,154.4 L922.3,154.5 L922.4,154.6 L922.5,154.7 L922.6,154.8 L922.8,154.8 L922.9,154.9 L923.0,154.9 L923.2,155.0 L923.3,155.0 L923.4,155.0 L923.6,155.0 L923.7,155.0 L979.3,142.1 L979.5,142.1 L979.6,142.0 L979.7,142.0 L979.8,141.9 L979.9,141.8 L980.0,141.7 L980.1,141.6 L980.2,141.5 L980.2,141.4 L980.3,141.3 L980.3,141.2 L980.4,141.0 L980.4,140.9 L980.4,140.8 L980.4,140.7 L979.0,123.6 L979.0,123.4 L979.0,123.3 L978.9,123.2 L978.9,123.0 L978.8,122.9 L978.7,122.8 L978.6,122.7 L978.5,122.6 L978.4,122.5 L978.3,122.4 L924.1,91.9 Z" fill="rgb(102,102,102)"/>
<path d="M924.1,91.9 L924.0,91.9 L923.8,91.8 L923.7,91.8 L923.6,91.8 L923.4,91.8 L923.3,91.8 L923.1,91.8 L923.0,91.8 L922.9,91.9 L922.8,91.9 L922.6,92.0 L922.5,92.1 L922.4,92.2 L922.3,92.3 L922.2,92.4 L922.2,92.5 L922.1,92.6 L922.1,92.8 L922.0,92.9 L922.0,93.0 L922.0,93.2 L922.0,153.6 L922.0,153.7 L922.0,153.9 L922.1,154.0 L922.1,154.1 L922.2,154.3 L922.2,154.4 L922.3,154.5 L922.4,154.6 L922.5,154.7 L922.6,154.8 L922.8,154.8 L922.9,154.9 L923.0,154.9 L923.2,155.0 L923.3,155.0 L923.4,155.0 L923.6,155.0 L923.7,155.0 L979.3,142.1 L979.5,142.1 L979.6,142.0 L979.7,142.0 L979.8,141.9 L979.9,141.8 L980.0,141.7 L980.1,141.6 L980.2,141.5 L980.2,141.4 L980.3,141.3 L980.3,141.2 L980.4,141.0 L980.4,140.9 L980.4,140.8 L980.4,140.7 L979.0,123.6 L979.0,123.4 L979.0,123.3 L978.9,123.2 L978.9,123.0 L978.8,122.9 L978.7,122.8 L978.6,122.7 L978.5,122.6 L978.4,122.5 L978.3,122.4 L924.1,91.9 Z" fill="url(#cg2)"/>
<path d="M1008.9,96.3 L1008.8,96.2 L1008.7,96.1 L1008.6,96.0 L1008.5,96.0 L1008.4,95.9 L1008.3,95.9 L1008.1,95.8 L1008.0,95.8 L1007.9,95.8 L1007.7,95.8 L1007.6,95.8 L1007.5,95.8 L1007.3,95.9 L1007.2,95.9 L1007.1,96.0 L1007.0,96.1 L1006.9,96.1 L1006.8,96.2 L983.7,121.8 L983.6,121.9 L983.6,122.0 L983.5,122.1 L983.4,122.3 L983.4,122.4 L983.4,122.6 L983.4,122.7 L983.4,122.8 L984.9,142.0 L984.9,142.1 L985.0,142.3 L985.0,142.4 L985.1,142.5 L985.1,142.6 L985.2,142.7 L985.3,142.8 L985.4,142.9 L992.9,149.9 L993.0,150.0 L993.1,150.1 L993.2,150.1 L993.4,150.2 L993.5,150.2 L993.6,150.3 L993.7,150.3 L993.9,150.3 L1007.3,150.3 L1007.4,150.3 L1007.6,150.3 L1007.7,150.2 L1007.8,150.2 L1007.9,150.1 L1008.1,150.1 L1008.2,150.0 L1008.3,149.9 L1032.2,127.5 L1032.3,127.4 L1032.4,127.3 L1032.5,127.1 L1032.5,127.0 L1032.6,126.9 L1032.6,126.8 L1032.6,126.6 L1032.7,126.5 L1032.6,126.3 L1032.6,126.2 L1032.6,126.1 L1032.6,125.9 L1032.5,125.8 L1032.4,125.7 L1032.3,125.6 L1008.9,96.3 Z" fill="rgb(102,102,102)"/>
<path d="M1008.9,96.3 L1008.8,96.2 L1008.7,96.1 L1008.6,96.0 L1008.5,96.0 L1008.4,95.9 L1008.3,95.9 L1008.1,95.8 L1008.0,95.8 L1007.9,95.8 L1007.7,95.8 L1007.6,95.8 L1007.5,95.8 L1007.3,95.9 L1007.2,95.9 L1007.1,96.0 L1007.0,96.1 L1006.9,96.1 L1006.8,96.2 L983.7,121.8 L983.6,121.9 L983.6,122.0 L983.5,122.1 L983.4,122.3 L983.4,122.4 L983.4,122.6 L983.4,122.7 L983.4,122.8 L984.9,142.0 L984.9,142.1 L985.0,142.3 L985.0,142.4 L985.1,142.5 L985.1,142.6 L985.2,142.7 L985.3,142.8 L985.4,142.9 L992.9,149.9 L993.0,150.0 L993.1,150.1 L993.2,150.1 L993.4,150.2 L993.5,150.2 L993.6,150.3 L993.7,150.3 L993.9,150.3 L1007.3,150.3 L1007.4,150.3 L1007.6,150.3 L1007.7,150.2 L1007.8,150.2 L1007.9,150.1 L1008.1,150.1 L1008.2,150.0 L1008.3,149.9 L1032.2,127.5 L1032.3,127.4 L1032.4,127.3 L1032.5,127.1 L1032.5,127.0 L1032.6,126.9 L1032.6,126.8 L1032.6,126.6 L1032.7,126.5 L1032.6,126.3 L1032.6,126.2 L1032.6,126.1 L1032.6,125.9 L1032.5,125.8 L1032.4,125.7 L1032.3,125.6 L1008.9,96.3 Z" fill="url(#cg2)"/>
<path d="M1066.3,152.0 L1066.4,152.1 L1066.5,152.2 L1066.6,152.3 L1066.7,152.3 L1066.8,152.4 L1066.9,152.5 L1067.0,152.5 L1067.2,152.6 L1067.3,152.6 L1091.7,155.7 L1091.8,155.8 L1091.9,155.8 L1092.1,155.7 L1092.2,155.7 L1092.3,155.7 L1092.5,155.6 L1092.6,155.6 L1092.7,155.5 L1092.8,155.4 L1092.9,155.3 L1093.0,155.2 L1093.1,155.1 L1093.1,155.0 L1093.2,154.8 L1106.8,117.3 L1106.9,117.1 L1106.9,117.0 L1106.9,116.9 L1106.9,116.7 L1106.9,116.6 L1106.9,116.5 L1106.8,116.3 L1106.8,116.2 L1106.7,116.1 L1106.7,116.0 L1106.6,115.9 L1106.5,115.8 L1106.4,115.7 L1106.3,115.6 L1106.1,115.5 L1106.0,115.5 L1072.8,102.9 L1072.7,102.9 L1072.6,102.9 L1072.4,102.8 L1072.3,102.8 L1072.2,102.9 L1072.0,102.9 L1071.9,102.9 L1071.8,103.0 L1071.7,103.0 L1071.6,103.1 L1071.4,103.2 L1071.3,103.3 L1071.3,103.4 L1051.7,127.2 L1051.6,127.3 L1051.5,127.4 L1051.5,127.5 L1051.4,127.7 L1051.4,127.8 L1051.4,127.9 L1051.4,128.1 L1051.4,128.2 L1051.4,128.3 L1051.4,128.5 L1051.5,128.6 L1051.5,128.7 L1051.6,128.8 L1066.3,152.0 Z" fill="rgb(111,111,111)"/>
<path d="M1066.3,152.0 L1066.4,152.1 L1066.5,152.2 L1066.6,152.3 L1066.7,152.3 L1066.8,152.4 L1066.9,152.5 L1067.0,152.5 L1067.2,152.6 L1067.3,152.6 L1091.7,155.7 L1091.8,155.8 L1091.9,155.8 L1092.1,155.7 L1092.2,155.7 L1092.3,155.7 L1092.5,155.6 L1092.6,155.6 L1092.7,155.5 L1092.8,155.4 L1092.9,155.3 L1093.0,155.2 L1093.1,155.1 L1093.1,155.0 L1093.2,154.8 L1106.8,117.3 L1106.9,117.1 L1106.9,117.0 L1106.9,116.9 L1106.9,116.7 L1106.9,116.6 L1106.9,116.5 L1106.8,116.3 L1106.8,116.2 L1106.7,116.1 L1106.7,116.0 L1106.6,115.9 L1106.5,115.8 L1106.4,115.7 L1106.3,115.6 L1106.1,115.5 L1106.0,115.5 L1072.8,102.9 L1072.7,102.9 L1072.6,102.9 L1072.4,102.8 L1072.3,102.8 L1072.2,102.9 L1072.0,102.9 L1071.9,102.9 L1071.8,103.0 L1071.7,103.0 L1071.6,103.1 L1071.4,103.2 L1071.3,103.3 L1071.3,103.4 L1051.7,127.2 L1051.6,127.3 L1051.5,127.4 L1051.5,127.5 L1051.4,127.7 L1051.4,127.8 L1051.4,127.9 L1051.4,128.1 L1051.4,128.2 L1051.4,128.3 L1051.4,128.5 L1051.5,128.6 L1051.5,128.7 L1051.6,128.8 L1066.3,152.0 Z" fill="url(#cg2)"/>
<path d="M1037.6,129.1 L1037.4,129.1 L1037.3,129.1 L1037.2,129.2 L1037.0,129.2 L1036.9,129.2 L1036.8,129.3 L1036.7,129.3 L1036.6,129.4 L1036.5,129.5 L1012.6,151.9 L1012.5,152.0 L1012.4,152.1 L1012.4,152.2 L1012.3,152.3 L1012.2,152.4 L1012.2,152.6 L1012.2,152.7 L1012.2,152.9 L1012.2,153.0 L1012.2,153.1 L1012.2,153.3 L1012.3,153.4 L1012.3,153.5 L1012.4,153.6 L1012.5,153.7 L1037.8,186.8 L1037.9,186.9 L1038.0,187.0 L1038.1,187.1 L1038.2,187.1 L1038.3,187.2 L1038.5,187.3 L1038.6,187.3 L1038.7,187.3 L1038.9,187.3 L1039.0,187.3 L1039.1,187.3 L1039.3,187.3 L1039.4,187.2 L1039.5,187.2 L1039.7,187.1 L1039.8,187.0 L1039.9,186.9 L1040.0,186.8 L1040.0,186.7 L1062.2,155.3 L1062.2,155.1 L1062.3,155.0 L1062.4,154.9 L1062.4,154.8 L1062.4,154.6 L1062.4,154.5 L1062.4,154.4 L1062.4,154.2 L1062.4,154.1 L1062.3,153.9 L1062.3,153.8 L1062.2,153.7 L1047.4,130.5 L1047.4,130.4 L1047.3,130.3 L1047.2,130.2 L1047.0,130.1 L1046.9,130.0 L1046.8,130.0 L1046.7,129.9 L1046.5,129.9 L1046.4,129.9 L1037.6,129.1 Z" fill="rgb(93,93,93)"/>
<path d="M1037.6,129.1 L1037.4,129.1 L1037.3,129.1 L1037.2,129.2 L1037.0,129.2 L1036.9,129.2 L1036.8,129.3 L1036.7,129.3 L1036.6,129.4 L1036.5,129.5 L1012.6,151.9 L1012.5,152.0 L1012.4,152.1 L1012.4,152.2 L1012.3,152.3 L1012.2,152.4 L1012.2,152.6 L1012.2,152.7 L1012.2,152.9 L1012.2,153.0 L1012.2,153.1 L1012.2,153.3 L1012.3,153.4 L1012.3,153.5 L1012.4,153.6 L1012.5,153.7 L1037.8,186.8 L1037.9,186.9 L1038.0,187.0 L1038.1,187.1 L1038.2,187.1 L1038.3,187.2 L1038.5,187.3 L1038.6,187.3 L1038.7,187.3 L1038.9,187.3 L1039.0,187.3 L1039.1,187.3 L1039.3,187.3 L1039.4,187.2 L1039.5,187.2 L1039.7,187.1 L1039.8,187.0 L1039.9,186.9 L1040.0,186.8 L1040.0,186.7 L1062.2,155.3 L1062.2,155.1 L1062.3,155.0 L1062.4,154.9 L1062.4,154.8 L1062.4,154.6 L1062.4,154.5 L1062.4,154.4 L1062.4,154.2 L1062.4,154.1 L1062.3,153.9 L1062.3,153.8 L1062.2,153.7 L1047.4,130.5 L1047.4,130.4 L1047.3,130.3 L1047.2,130.2 L1047.0,130.1 L1046.9,130.0 L1046.8,130.0 L1046.7,129.9 L1046.5,129.9 L1046.4,129.9 L1037.6,129.1 Z" fill="url(#cg2)"/>
<path d="M922.0,195.1 L922.0,195.3 L922.0,195.4 L922.1,195.5 L922.1,195.7 L922.2,195.8 L922.2,195.9 L922.3,196.0 L922.4,196.1 L922.5,196.2 L922.6,196.3 L922.8,196.4 L922.9,196.4 L923.0,196.5 L923.1,196.5 L923.3,196.5 L923.4,196.5 L976.2,195.6 L976.3,195.6 L976.5,195.6 L976.6,195.6 L976.7,195.5 L976.8,195.5 L977.0,195.4 L977.1,195.3 L977.2,195.2 L977.3,195.1 L977.3,195.0 L977.4,194.9 L977.5,194.8 L977.5,194.6 L989.7,154.0 L989.7,153.9 L989.8,153.7 L989.8,153.6 L989.7,153.5 L989.7,153.3 L989.7,153.2 L989.6,153.0 L989.6,152.9 L989.5,152.8 L989.4,152.7 L989.3,152.6 L982.8,146.5 L982.6,146.4 L982.5,146.3 L982.4,146.3 L982.3,146.2 L982.2,146.2 L982.0,146.1 L981.9,146.1 L981.8,146.1 L981.6,146.1 L981.5,146.1 L923.1,159.6 L923.0,159.7 L922.8,159.7 L922.7,159.8 L922.6,159.8 L922.5,159.9 L922.4,160.0 L922.3,160.1 L922.2,160.2 L922.2,160.3 L922.1,160.5 L922.1,160.6 L922.0,160.7 L922.0,160.9 L922.0,161.0 L922.0,195.1 Z" fill="rgb(99,99,99)"/>
<path d="M922.0,195.1 L922.0,195.3 L922.0,195.4 L922.1,195.5 L922.1,195.7 L922.2,195.8 L922.2,195.9 L922.3,196.0 L922.4,196.1 L922.5,196.2 L922.6,196.3 L922.8,196.4 L922.9,196.4 L923.0,196.5 L923.1,196.5 L923.3,196.5 L923.4,196.5 L976.2,195.6 L976.3,195.6 L976.5,195.6 L976.6,195.6 L976.7,195.5 L976.8,195.5 L977.0,195.4 L977.1,195.3 L977.2,195.2 L977.3,195.1 L977.3,195.0 L977.4,194.9 L977.5,194.8 L977.5,194.6 L989.7,154.0 L989.7,153.9 L989.8,153.7 L989.8,153.6 L989.7,153.5 L989.7,153.3 L989.7,153.2 L989.6,153.0 L989.6,152.9 L989.5,152.8 L989.4,152.7 L989.3,152.6 L982.8,146.5 L982.6,146.4 L982.5,146.3 L982.4,146.3 L982.3,146.2 L982.2,146.2 L982.0,146.1 L981.9,146.1 L981.8,146.1 L981.6,146.1 L981.5,146.1 L923.1,159.6 L923.0,159.7 L922.8,159.7 L922.7,159.8 L922.6,159.8 L922.5,159.9 L922.4,160.0 L922.3,160.1 L922.2,160.2 L922.2,160.3 L922.1,160.5 L922.1,160.6 L922.0,160.7 L922.0,160.9 L922.0,161.0 L922.0,195.1 Z" fill="url(#cg2)"/>
<path d="M1008.1,155.2 L1008.0,155.1 L1007.9,155.0 L1007.8,155.0 L1007.6,154.9 L1007.5,154.8 L1007.4,154.8 L1007.2,154.7 L1007.1,154.7 L1007.0,154.7 L995.1,154.7 L995.0,154.7 L994.9,154.7 L994.7,154.8 L994.6,154.8 L994.5,154.9 L994.3,154.9 L994.2,155.0 L994.1,155.1 L994.0,155.2 L994.0,155.3 L993.9,155.4 L993.8,155.6 L993.8,155.7 L981.7,196.1 L981.6,196.3 L981.6,196.4 L981.6,196.5 L981.6,196.7 L981.6,196.8 L981.7,196.9 L981.7,197.1 L981.8,197.2 L981.8,197.3 L981.9,197.4 L982.0,197.5 L982.1,197.6 L987.5,202.0 L987.6,202.1 L987.8,202.1 L987.9,202.2 L988.0,202.3 L988.2,202.3 L988.3,202.3 L988.4,202.3 L988.6,202.3 L988.7,202.3 L1033.7,191.9 L1033.8,191.9 L1033.9,191.8 L1034.1,191.7 L1034.2,191.7 L1034.3,191.6 L1034.4,191.5 L1034.5,191.4 L1034.6,191.3 L1034.6,191.1 L1034.7,191.0 L1034.7,190.9 L1034.7,190.7 L1034.8,190.6 L1034.8,190.5 L1034.7,190.3 L1034.7,190.2 L1034.7,190.0 L1034.6,189.9 L1034.5,189.8 L1034.5,189.7 L1008.1,155.2 Z" fill="rgb(94,94,94)"/>
<path d="M1008.1,155.2 L1008.0,155.1 L1007.9,155.0 L1007.8,155.0 L1007.6,154.9 L1007.5,154.8 L1007.4,154.8 L1007.2,154.7 L1007.1,154.7 L1007.0,154.7 L995.1,154.7 L995.0,154.7 L994.9,154.7 L994.7,154.8 L994.6,154.8 L994.5,154.9 L994.3,154.9 L994.2,155.0 L994.1,155.1 L994.0,155.2 L994.0,155.3 L993.9,155.4 L993.8,155.6 L993.8,155.7 L981.7,196.1 L981.6,196.3 L981.6,196.4 L981.6,196.5 L981.6,196.7 L981.6,196.8 L981.7,196.9 L981.7,197.1 L981.8,197.2 L981.8,197.3 L981.9,197.4 L982.0,197.5 L982.1,197.6 L987.5,202.0 L987.6,202.1 L987.8,202.1 L987.9,202.2 L988.0,202.3 L988.2,202.3 L988.3,202.3 L988.4,202.3 L988.6,202.3 L988.7,202.3 L1033.7,191.9 L1033.8,191.9 L1033.9,191.8 L1034.1,191.7 L1034.2,191.7 L1034.3,191.6 L1034.4,191.5 L1034.5,191.4 L1034.6,191.3 L1034.6,191.1 L1034.7,191.0 L1034.7,190.9 L1034.7,190.7 L1034.8,190.6 L1034.8,190.5 L1034.7,190.3 L1034.7,190.2 L1034.7,190.0 L1034.6,189.9 L1034.5,189.8 L1034.5,189.7 L1008.1,155.2 Z" fill="url(#cg2)"/>
<path d="M1041.9,191.8 L1041.8,191.9 L1041.7,192.0 L1041.7,192.2 L1041.7,192.3 L1041.6,192.4 L1041.6,192.6 L1041.6,192.7 L1041.6,192.8 L1041.7,193.0 L1041.7,193.1 L1041.8,193.2 L1041.8,193.3 L1047.1,201.8 L1047.1,201.9 L1047.2,202.0 L1047.3,202.1 L1047.4,202.2 L1047.5,202.2 L1047.7,202.3 L1047.8,202.4 L1047.9,202.4 L1048.0,202.4 L1089.9,209.1 L1090.0,209.1 L1090.2,209.1 L1090.3,209.1 L1090.4,209.1 L1090.6,209.0 L1090.7,209.0 L1090.8,208.9 L1090.9,208.9 L1091.0,208.8 L1091.1,208.7 L1091.2,208.6 L1091.3,208.4 L1091.4,208.3 L1091.4,208.2 L1091.5,208.0 L1091.5,207.9 L1096.8,166.1 L1096.8,166.0 L1096.8,165.8 L1096.8,165.7 L1096.8,165.6 L1096.7,165.4 L1096.7,165.3 L1096.6,165.2 L1096.6,165.1 L1093.4,160.8 L1093.3,160.7 L1093.2,160.6 L1093.1,160.5 L1093.0,160.5 L1092.9,160.4 L1092.7,160.4 L1092.6,160.3 L1092.5,160.3 L1067.2,157.0 L1067.1,157.0 L1067.0,157.0 L1066.8,157.0 L1066.7,157.1 L1066.5,157.1 L1066.4,157.2 L1066.3,157.2 L1066.2,157.3 L1066.1,157.4 L1066.0,157.5 L1065.9,157.6 L1041.9,191.8 Z" fill="rgb(102,102,102)"/>
<path d="M1041.9,191.8 L1041.8,191.9 L1041.7,192.0 L1041.7,192.2 L1041.7,192.3 L1041.6,192.4 L1041.6,192.6 L1041.6,192.7 L1041.6,192.8 L1041.7,193.0 L1041.7,193.1 L1041.8,193.2 L1041.8,193.3 L1047.1,201.8 L1047.1,201.9 L1047.2,202.0 L1047.3,202.1 L1047.4,202.2 L1047.5,202.2 L1047.7,202.3 L1047.8,202.4 L1047.9,202.4 L1048.0,202.4 L1089.9,209.1 L1090.0,209.1 L1090.2,209.1 L1090.3,209.1 L1090.4,209.1 L1090.6,209.0 L1090.7,209.0 L1090.8,208.9 L1090.9,208.9 L1091.0,208.8 L1091.1,208.7 L1091.2,208.6 L1091.3,208.4 L1091.4,208.3 L1091.4,208.2 L1091.5,208.0 L1091.5,207.9 L1096.8,166.1 L1096.8,166.0 L1096.8,165.8 L1096.8,165.7 L1096.8,165.6 L1096.7,165.4 L1096.7,165.3 L1096.6,165.2 L1096.6,165.1 L1093.4,160.8 L1093.3,160.7 L1093.2,160.6 L1093.1,160.5 L1093.0,160.5 L1092.9,160.4 L1092.7,160.4 L1092.6,160.3 L1092.5,160.3 L1067.2,157.0 L1067.1,157.0 L1067.0,157.0 L1066.8,157.0 L1066.7,157.1 L1066.5,157.1 L1066.4,157.2 L1066.3,157.2 L1066.2,157.3 L1066.1,157.4 L1066.0,157.5 L1065.9,157.6 L1041.9,191.8 Z" fill="url(#cg2)"/>
<path d="M1145.6,103.0 L1145.7,103.0 L1145.9,103.0 L1146.0,102.9 L1146.1,102.8 L1146.2,102.8 L1146.3,102.7 L1154.0,95.3 L1154.1,95.2 L1154.2,95.0 L1154.2,94.9 L1154.3,94.8 L1154.3,94.7 L1154.4,94.5 L1154.4,94.4 L1154.4,94.2 L1154.4,94.1 L1154.4,94.0 L1154.3,93.8 L1154.3,93.7 L1154.2,93.6 L1154.2,93.5 L1132.4,62.3 L1132.3,62.2 L1132.2,62.1 L1132.2,62.0 L1132.1,61.9 L1109.7,46.3 L1109.6,46.2 L1109.5,46.2 L1109.4,46.1 L1109.2,46.1 L1109.1,46.1 L1109.0,46.0 L1108.8,46.0 L1108.7,46.1 L1108.5,46.1 L1108.4,46.1 L1108.3,46.2 L1108.2,46.3 L1108.1,46.3 L1108.0,46.4 L1107.9,46.5 L1107.8,46.6 L1107.7,46.8 L1107.6,46.9 L1099.4,65.6 L1099.4,65.8 L1099.4,65.9 L1099.3,66.0 L1099.3,66.2 L1099.3,66.3 L1099.3,66.4 L1099.4,66.6 L1099.4,66.7 L1099.5,66.8 L1099.5,66.9 L1123.0,106.0 L1123.0,106.1 L1123.1,106.2 L1123.2,106.3 L1123.3,106.4 L1123.5,106.5 L1123.6,106.6 L1123.7,106.6 L1123.9,106.7 L1124.0,106.7 L1124.1,106.7 L1124.3,106.7 L1124.4,106.7 L1145.6,103.0 Z" fill="rgb(104,104,104)"/>
<path d="M1145.6,103.0 L1145.7,103.0 L1145.9,103.0 L1146.0,102.9 L1146.1,102.8 L1146.2,102.8 L1146.3,102.7 L1154.0,95.3 L1154.1,95.2 L1154.2,95.0 L1154.2,94.9 L1154.3,94.8 L1154.3,94.7 L1154.4,94.5 L1154.4,94.4 L1154.4,94.2 L1154.4,94.1 L1154.4,94.0 L1154.3,93.8 L1154.3,93.7 L1154.2,93.6 L1154.2,93.5 L1132.4,62.3 L1132.3,62.2 L1132.2,62.1 L1132.2,62.0 L1132.1,61.9 L1109.7,46.3 L1109.6,46.2 L1109.5,46.2 L1109.4,46.1 L1109.2,46.1 L1109.1,46.1 L1109.0,46.0 L1108.8,46.0 L1108.7,46.1 L1108.5,46.1 L1108.4,46.1 L1108.3,46.2 L1108.2,46.3 L1108.1,46.3 L1108.0,46.4 L1107.9,46.5 L1107.8,46.6 L1107.7,46.8 L1107.6,46.9 L1099.4,65.6 L1099.4,65.8 L1099.4,65.9 L1099.3,66.0 L1099.3,66.2 L1099.3,66.3 L1099.3,66.4 L1099.4,66.6 L1099.4,66.7 L1099.5,66.8 L1099.5,66.9 L1123.0,106.0 L1123.0,106.1 L1123.1,106.2 L1123.2,106.3 L1123.3,106.4 L1123.5,106.5 L1123.6,106.6 L1123.7,106.6 L1123.9,106.7 L1124.0,106.7 L1124.1,106.7 L1124.3,106.7 L1124.4,106.7 L1145.6,103.0 Z" fill="url(#cg2)"/>
<path d="M1206.3,36.3 L1206.2,36.2 L1206.1,36.1 L1206.0,36.0 L1205.8,35.9 L1205.7,35.9 L1205.6,35.8 L1205.5,35.8 L1205.3,35.8 L1205.2,35.8 L1205.1,35.8 L1204.9,35.8 L1204.8,35.8 L1204.7,35.9 L1204.5,35.9 L1204.4,36.0 L1204.3,36.1 L1204.2,36.1 L1204.1,36.2 L1204.0,36.3 L1164.0,92.2 L1163.9,92.3 L1163.8,92.5 L1163.8,92.6 L1163.7,92.7 L1163.7,92.9 L1163.7,93.0 L1163.7,93.2 L1163.7,93.3 L1163.8,93.4 L1163.8,93.6 L1163.9,93.7 L1163.9,93.8 L1164.0,93.9 L1164.1,94.0 L1164.2,94.1 L1164.3,94.2 L1164.4,94.3 L1212.7,120.9 L1212.8,121.0 L1213.0,121.0 L1213.1,121.1 L1213.2,121.1 L1213.4,121.1 L1213.5,121.1 L1213.6,121.1 L1213.8,121.0 L1213.9,121.0 L1214.0,120.9 L1214.2,120.9 L1214.3,120.8 L1214.4,120.7 L1247.0,88.7 L1247.1,88.6 L1247.2,88.5 L1247.3,88.4 L1247.3,88.3 L1247.4,88.1 L1247.4,88.0 L1247.4,87.9 L1247.4,87.7 L1247.4,87.6 L1247.4,87.5 L1247.4,87.3 L1247.3,87.2 L1247.3,87.1 L1247.2,86.9 L1247.1,86.8 L1206.3,36.3 Z" fill="rgb(102,102,102)"/>
<path d="M1206.3,36.3 L1206.2,36.2 L1206.1,36.1 L1206.0,36.0 L1205.8,35.9 L1205.7,35.9 L1205.6,35.8 L1205.5,35.8 L1205.3,35.8 L1205.2,35.8 L1205.1,35.8 L1204.9,35.8 L1204.8,35.8 L1204.7,35.9 L1204.5,35.9 L1204.4,36.0 L1204.3,36.1 L1204.2,36.1 L1204.1,36.2 L1204.0,36.3 L1164.0,92.2 L1163.9,92.3 L1163.8,92.5 L1163.8,92.6 L1163.7,92.7 L1163.7,92.9 L1163.7,93.0 L1163.7,93.2 L1163.7,93.3 L1163.8,93.4 L1163.8,93.6 L1163.9,93.7 L1163.9,93.8 L1164.0,93.9 L1164.1,94.0 L1164.2,94.1 L1164.3,94.2 L1164.4,94.3 L1212.7,120.9 L1212.8,121.0 L1213.0,121.0 L1213.1,121.1 L1213.2,121.1 L1213.4,121.1 L1213.5,121.1 L1213.6,121.1 L1213.8,121.0 L1213.9,121.0 L1214.0,120.9 L1214.2,120.9 L1214.3,120.8 L1214.4,120.7 L1247.0,88.7 L1247.1,88.6 L1247.2,88.5 L1247.3,88.4 L1247.3,88.3 L1247.4,88.1 L1247.4,88.0 L1247.4,87.9 L1247.4,87.7 L1247.4,87.6 L1247.4,87.5 L1247.4,87.3 L1247.3,87.2 L1247.3,87.1 L1247.2,86.9 L1247.1,86.8 L1206.3,36.3 Z" fill="url(#cg2)"/>
<path d="M1137.0,59.7 L1137.0,59.8 L1136.9,59.9 L1136.9,60.0 L1136.8,60.2 L1136.8,60.3 L1136.8,60.5 L1136.8,60.6 L1136.8,60.7 L1136.9,60.9 L1136.9,61.0 L1137.0,61.1 L1137.1,61.2 L1157.5,90.5 L1157.6,90.6 L1157.7,90.7 L1157.8,90.8 L1157.9,90.9 L1158.0,91.0 L1158.1,91.0 L1158.3,91.1 L1158.4,91.1 L1158.5,91.1 L1158.7,91.1 L1158.8,91.1 L1159.0,91.1 L1159.1,91.0 L1159.2,91.0 L1159.4,90.9 L1159.5,90.8 L1159.6,90.8 L1159.7,90.6 L1159.8,90.5 L1202.5,30.9 L1202.6,30.8 L1202.7,30.6 L1202.7,30.5 L1202.8,30.4 L1202.8,30.2 L1202.8,30.1 L1202.8,14.5 L1202.8,14.4 L1202.8,14.2 L1202.7,14.1 L1202.7,14.0 L1202.6,13.8 L1202.6,13.7 L1202.5,13.6 L1202.4,13.5 L1202.3,13.4 L1202.2,13.3 L1202.1,13.3 L1201.9,13.2 L1201.8,13.2 L1201.7,13.1 L1201.5,13.1 L1201.4,13.1 L1168.8,13.1 L1168.7,13.1 L1168.6,13.1 L1168.4,13.2 L1168.3,13.2 L1168.2,13.3 L1168.0,13.3 L1167.9,13.4 L1167.8,13.5 L1167.7,13.6 L1167.7,13.7 L1137.0,59.7 Z" fill="rgb(101,101,101)"/>
<path d="M1137.0,59.7 L1137.0,59.8 L1136.9,59.9 L1136.9,60.0 L1136.8,60.2 L1136.8,60.3 L1136.8,60.5 L1136.8,60.6 L1136.8,60.7 L1136.9,60.9 L1136.9,61.0 L1137.0,61.1 L1137.1,61.2 L1157.5,90.5 L1157.6,90.6 L1157.7,90.7 L1157.8,90.8 L1157.9,90.9 L1158.0,91.0 L1158.1,91.0 L1158.3,91.1 L1158.4,91.1 L1158.5,91.1 L1158.7,91.1 L1158.8,91.1 L1159.0,91.1 L1159.1,91.0 L1159.2,91.0 L1159.4,90.9 L1159.5,90.8 L1159.6,90.8 L1159.7,90.6 L1159.8,90.5 L1202.5,30.9 L1202.6,30.8 L1202.7,30.6 L1202.7,30.5 L1202.8,30.4 L1202.8,30.2 L1202.8,30.1 L1202.8,14.5 L1202.8,14.4 L1202.8,14.2 L1202.7,14.1 L1202.7,14.0 L1202.6,13.8 L1202.6,13.7 L1202.5,13.6 L1202.4,13.5 L1202.3,13.4 L1202.2,13.3 L1202.1,13.3 L1201.9,13.2 L1201.8,13.2 L1201.7,13.1 L1201.5,13.1 L1201.4,13.1 L1168.8,13.1 L1168.7,13.1 L1168.6,13.1 L1168.4,13.2 L1168.3,13.2 L1168.2,13.3 L1168.0,13.3 L1167.9,13.4 L1167.8,13.5 L1167.7,13.6 L1167.7,13.7 L1137.0,59.7 Z" fill="url(#cg2)"/>
<path d="M1216.8,124.5 L1216.7,124.6 L1216.6,124.7 L1216.6,124.8 L1216.5,124.9 L1216.5,125.1 L1216.4,125.2 L1216.4,125.3 L1216.4,125.5 L1216.4,125.6 L1216.5,126.5 L1216.5,126.6 L1216.6,126.8 L1216.6,126.9 L1216.7,127.0 L1216.8,127.1 L1216.9,127.2 L1217.0,127.3 L1246.8,153.9 L1246.9,154.0 L1247.0,154.1 L1247.1,154.2 L1247.3,154.2 L1247.4,154.3 L1247.6,154.3 L1247.7,154.3 L1247.8,154.3 L1288.6,150.1 L1288.8,150.1 L1288.9,150.1 L1289.0,150.0 L1289.2,150.0 L1289.3,149.9 L1289.4,149.8 L1289.5,149.7 L1289.6,149.6 L1289.7,149.5 L1289.7,149.4 L1289.8,149.3 L1289.8,149.1 L1289.9,149.0 L1289.9,148.9 L1289.9,148.7 L1289.9,91.6 L1289.9,91.5 L1289.9,91.3 L1289.8,91.2 L1289.8,91.1 L1289.7,90.9 L1289.7,90.8 L1289.6,90.7 L1289.5,90.6 L1289.4,90.5 L1289.3,90.4 L1289.2,90.4 L1289.0,90.3 L1288.9,90.3 L1288.8,90.2 L1288.6,90.2 L1288.5,90.2 L1252.4,90.2 L1252.2,90.2 L1252.1,90.2 L1252.0,90.3 L1251.8,90.3 L1251.7,90.4 L1251.6,90.4 L1251.5,90.5 L1251.4,90.6 L1216.8,124.5 Z" fill="rgb(107,107,107)"/>
<path d="M1216.8,124.5 L1216.7,124.6 L1216.6,124.7 L1216.6,124.8 L1216.5,124.9 L1216.5,125.1 L1216.4,125.2 L1216.4,125.3 L1216.4,125.5 L1216.4,125.6 L1216.5,126.5 L1216.5,126.6 L1216.6,126.8 L1216.6,126.9 L1216.7,127.0 L1216.8,127.1 L1216.9,127.2 L1217.0,127.3 L1246.8,153.9 L1246.9,154.0 L1247.0,154.1 L1247.1,154.2 L1247.3,154.2 L1247.4,154.3 L1247.6,154.3 L1247.7,154.3 L1247.8,154.3 L1288.6,150.1 L1288.8,150.1 L1288.9,150.1 L1289.0,150.0 L1289.2,150.0 L1289.3,149.9 L1289.4,149.8 L1289.5,149.7 L1289.6,149.6 L1289.7,149.5 L1289.7,149.4 L1289.8,149.3 L1289.8,149.1 L1289.9,149.0 L1289.9,148.9 L1289.9,148.7 L1289.9,91.6 L1289.9,91.5 L1289.9,91.3 L1289.8,91.2 L1289.8,91.1 L1289.7,90.9 L1289.7,90.8 L1289.6,90.7 L1289.5,90.6 L1289.4,90.5 L1289.3,90.4 L1289.2,90.4 L1289.0,90.3 L1288.9,90.3 L1288.8,90.2 L1288.6,90.2 L1288.5,90.2 L1252.4,90.2 L1252.2,90.2 L1252.1,90.2 L1252.0,90.3 L1251.8,90.3 L1251.7,90.4 L1251.6,90.4 L1251.5,90.5 L1251.4,90.6 L1216.8,124.5 Z" fill="url(#cg2)"/>
<path d="M1153.5,160.3 L1153.6,160.4 L1153.6,160.5 L1153.6,160.7 L1153.7,160.8 L1153.7,160.9 L1153.8,161.0 L1153.9,161.1 L1154.0,161.2 L1154.1,161.3 L1154.2,161.4 L1154.3,161.4 L1154.5,161.5 L1154.6,161.5 L1154.7,161.6 L1154.8,161.6 L1190.1,163.8 L1190.3,163.8 L1190.4,163.8 L1190.5,163.7 L1190.7,163.7 L1190.8,163.6 L1190.9,163.6 L1191.0,163.5 L1191.1,163.4 L1191.2,163.3 L1191.3,163.2 L1191.4,163.1 L1212.0,128.0 L1212.0,127.9 L1212.1,127.8 L1212.1,127.7 L1212.2,127.5 L1212.2,127.4 L1212.2,127.3 L1212.2,127.2 L1212.0,126.2 L1212.0,126.1 L1212.0,126.0 L1211.9,125.8 L1211.9,125.7 L1211.8,125.6 L1211.7,125.5 L1211.6,125.4 L1211.6,125.3 L1211.4,125.2 L1211.3,125.2 L1160.0,96.9 L1159.9,96.8 L1159.8,96.8 L1159.7,96.7 L1159.5,96.7 L1159.4,96.7 L1159.3,96.7 L1159.1,96.7 L1159.0,96.8 L1158.9,96.8 L1158.7,96.9 L1158.6,96.9 L1158.5,97.0 L1158.4,97.1 L1149.8,105.4 L1149.7,105.5 L1149.6,105.6 L1149.6,105.7 L1149.5,105.9 L1149.5,106.0 L1149.4,106.1 L1149.4,106.3 L1149.4,106.4 L1149.4,106.5 L1153.5,160.3 Z" fill="rgb(98,98,98)"/>
<path d="M1153.5,160.3 L1153.6,160.4 L1153.6,160.5 L1153.6,160.7 L1153.7,160.8 L1153.7,160.9 L1153.8,161.0 L1153.9,161.1 L1154.0,161.2 L1154.1,161.3 L1154.2,161.4 L1154.3,161.4 L1154.5,161.5 L1154.6,161.5 L1154.7,161.6 L1154.8,161.6 L1190.1,163.8 L1190.3,163.8 L1190.4,163.8 L1190.5,163.7 L1190.7,163.7 L1190.8,163.6 L1190.9,163.6 L1191.0,163.5 L1191.1,163.4 L1191.2,163.3 L1191.3,163.2 L1191.4,163.1 L1212.0,128.0 L1212.0,127.9 L1212.1,127.8 L1212.1,127.7 L1212.2,127.5 L1212.2,127.4 L1212.2,127.3 L1212.2,127.2 L1212.0,126.2 L1212.0,126.1 L1212.0,126.0 L1211.9,125.8 L1211.9,125.7 L1211.8,125.6 L1211.7,125.5 L1211.6,125.4 L1211.6,125.3 L1211.4,125.2 L1211.3,125.2 L1160.0,96.9 L1159.9,96.8 L1159.8,96.8 L1159.7,96.7 L1159.5,96.7 L1159.4,96.7 L1159.3,96.7 L1159.1,96.7 L1159.0,96.8 L1158.9,96.8 L1158.7,96.9 L1158.6,96.9 L1158.5,97.0 L1158.4,97.1 L1149.8,105.4 L1149.7,105.5 L1149.6,105.6 L1149.6,105.7 L1149.5,105.9 L1149.5,106.0 L1149.4,106.1 L1149.4,106.3 L1149.4,106.4 L1149.4,106.5 L1153.5,160.3 Z" fill="url(#cg2)"/>
<path d="M1228.7,203.7 L1228.8,203.7 L1228.9,203.6 L1229.0,203.5 L1229.2,203.5 L1229.3,203.4 L1229.3,203.3 L1229.4,203.2 L1229.5,203.0 L1229.6,202.9 L1229.6,202.8 L1243.7,158.2 L1243.7,158.1 L1243.7,157.9 L1243.8,157.8 L1243.7,157.7 L1243.7,157.5 L1243.7,157.4 L1243.7,157.3 L1243.6,157.1 L1243.5,157.0 L1243.5,156.9 L1243.4,156.8 L1243.3,156.7 L1216.3,132.7 L1216.2,132.6 L1216.1,132.5 L1216.0,132.4 L1215.8,132.4 L1215.7,132.3 L1215.6,132.3 L1215.4,132.3 L1215.3,132.3 L1215.2,132.3 L1215.0,132.3 L1214.9,132.4 L1214.8,132.4 L1214.7,132.5 L1214.5,132.6 L1214.4,132.7 L1214.3,132.8 L1214.2,132.9 L1214.2,133.0 L1195.0,165.7 L1194.9,165.8 L1194.9,165.9 L1194.9,166.0 L1194.8,166.1 L1194.8,166.3 L1194.8,166.4 L1194.8,166.5 L1194.8,166.7 L1194.9,166.8 L1194.9,166.9 L1212.3,207.5 L1212.4,207.7 L1212.5,207.8 L1212.6,207.9 L1212.6,208.0 L1212.8,208.1 L1212.9,208.2 L1213.0,208.2 L1213.1,208.3 L1213.2,208.3 L1213.4,208.4 L1213.5,208.4 L1213.6,208.4 L1213.8,208.4 L1213.9,208.4 L1214.0,208.3 L1228.7,203.7 Z" fill="rgb(110,110,110)"/>
<path d="M1228.7,203.7 L1228.8,203.7 L1228.9,203.6 L1229.0,203.5 L1229.2,203.5 L1229.3,203.4 L1229.3,203.3 L1229.4,203.2 L1229.5,203.0 L1229.6,202.9 L1229.6,202.8 L1243.7,158.2 L1243.7,158.1 L1243.7,157.9 L1243.8,157.8 L1243.7,157.7 L1243.7,157.5 L1243.7,157.4 L1243.7,157.3 L1243.6,157.1 L1243.5,157.0 L1243.5,156.9 L1243.4,156.8 L1243.3,156.7 L1216.3,132.7 L1216.2,132.6 L1216.1,132.5 L1216.0,132.4 L1215.8,132.4 L1215.7,132.3 L1215.6,132.3 L1215.4,132.3 L1215.3,132.3 L1215.2,132.3 L1215.0,132.3 L1214.9,132.4 L1214.8,132.4 L1214.7,132.5 L1214.5,132.6 L1214.4,132.7 L1214.3,132.8 L1214.2,132.9 L1214.2,133.0 L1195.0,165.7 L1194.9,165.8 L1194.9,165.9 L1194.9,166.0 L1194.8,166.1 L1194.8,166.3 L1194.8,166.4 L1194.8,166.5 L1194.8,166.7 L1194.9,166.8 L1194.9,166.9 L1212.3,207.5 L1212.4,207.7 L1212.5,207.8 L1212.6,207.9 L1212.6,208.0 L1212.8,208.1 L1212.9,208.2 L1213.0,208.2 L1213.1,208.3 L1213.2,208.3 L1213.4,208.4 L1213.5,208.4 L1213.6,208.4 L1213.8,208.4 L1213.9,208.4 L1214.0,208.3 L1228.7,203.7 Z" fill="url(#cg2)"/>
<path d="M1144.9,166.9 L1145.0,166.9 L1145.2,166.9 L1145.3,166.8 L1145.5,166.8 L1145.6,166.8 L1145.7,166.7 L1145.9,166.6 L1146.0,166.5 L1146.1,166.4 L1148.9,163.2 L1149.0,163.1 L1149.1,163.0 L1149.1,162.9 L1149.2,162.8 L1149.2,162.6 L1149.3,162.5 L1149.3,162.3 L1149.3,162.2 L1145.2,109.1 L1145.2,109.0 L1145.1,108.9 L1145.1,108.7 L1145.0,108.6 L1145.0,108.5 L1144.9,108.4 L1144.8,108.3 L1144.7,108.2 L1144.6,108.1 L1144.5,108.0 L1144.4,108.0 L1144.2,107.9 L1144.1,107.9 L1144.0,107.8 L1143.8,107.8 L1143.7,107.8 L1143.6,107.9 L1123.2,111.3 L1123.1,111.4 L1122.9,111.4 L1122.8,111.4 L1112.4,116.1 L1112.3,116.1 L1112.2,116.2 L1112.1,116.3 L1112.0,116.4 L1111.9,116.5 L1111.8,116.6 L1111.7,116.7 L1111.7,116.9 L1097.0,157.2 L1096.9,157.4 L1096.9,157.5 L1096.9,157.6 L1096.9,157.8 L1096.9,157.9 L1096.9,158.0 L1097.0,158.2 L1097.0,158.3 L1097.1,158.4 L1097.2,158.5 L1100.0,162.3 L1100.1,162.4 L1100.2,162.5 L1100.3,162.6 L1100.4,162.7 L1100.5,162.7 L1100.6,162.8 L1100.7,162.8 L1100.9,162.9 L1101.0,162.9 L1144.9,166.9 Z" fill="rgb(96,96,96)"/>
<path d="M1144.9,166.9 L1145.0,166.9 L1145.2,166.9 L1145.3,166.8 L1145.5,166.8 L1145.6,166.8 L1145.7,166.7 L1145.9,166.6 L1146.0,166.5 L1146.1,166.4 L1148.9,163.2 L1149.0,163.1 L1149.1,163.0 L1149.1,162.9 L1149.2,162.8 L1149.2,162.6 L1149.3,162.5 L1149.3,162.3 L1149.3,162.2 L1145.2,109.1 L1145.2,109.0 L1145.1,108.9 L1145.1,108.7 L1145.0,108.6 L1145.0,108.5 L1144.9,108.4 L1144.8,108.3 L1144.7,108.2 L1144.6,108.1 L1144.5,108.0 L1144.4,108.0 L1144.2,107.9 L1144.1,107.9 L1144.0,107.8 L1143.8,107.8 L1143.7,107.8 L1143.6,107.9 L1123.2,111.3 L1123.1,111.4 L1122.9,111.4 L1122.8,111.4 L1112.4,116.1 L1112.3,116.1 L1112.2,116.2 L1112.1,116.3 L1112.0,116.4 L1111.9,116.5 L1111.8,116.6 L1111.7,116.7 L1111.7,116.9 L1097.0,157.2 L1096.9,157.4 L1096.9,157.5 L1096.9,157.6 L1096.9,157.8 L1096.9,157.9 L1096.9,158.0 L1097.0,158.2 L1097.0,158.3 L1097.1,158.4 L1097.2,158.5 L1100.0,162.3 L1100.1,162.4 L1100.2,162.5 L1100.3,162.6 L1100.4,162.7 L1100.5,162.7 L1100.6,162.8 L1100.7,162.8 L1100.9,162.9 L1101.0,162.9 L1144.9,166.9 Z" fill="url(#cg2)"/>
<path d="M1207.5,212.7 L1207.6,212.7 L1207.8,212.6 L1207.9,212.6 L1208.0,212.5 L1208.1,212.4 L1208.2,212.3 L1208.3,212.2 L1208.6,211.8 L1208.7,211.6 L1208.8,211.5 L1208.8,211.4 L1208.9,211.2 L1208.9,211.1 L1208.9,211.0 L1208.9,210.8 L1208.9,210.7 L1208.8,210.5 L1208.8,210.4 L1191.0,169.0 L1191.0,168.9 L1190.9,168.8 L1190.8,168.7 L1190.7,168.5 L1190.6,168.5 L1190.5,168.4 L1190.4,168.3 L1190.2,168.3 L1190.1,168.2 L1190.0,168.2 L1189.8,168.2 L1153.2,165.9 L1153.0,165.9 L1152.9,165.9 L1152.8,165.9 L1152.6,165.9 L1152.5,166.0 L1152.4,166.1 L1152.3,166.1 L1152.2,166.2 L1152.1,166.3 L1149.1,169.7 L1149.0,169.8 L1148.9,169.9 L1148.8,170.0 L1148.8,170.2 L1148.7,170.3 L1148.7,170.5 L1148.7,170.6 L1148.7,213.0 L1148.7,213.1 L1148.7,213.3 L1148.8,213.4 L1148.8,213.5 L1148.9,213.7 L1148.9,213.8 L1149.0,213.9 L1149.1,214.0 L1158.0,222.9 L1158.1,223.0 L1158.2,223.1 L1158.3,223.1 L1158.5,223.2 L1158.6,223.3 L1158.7,223.3 L1158.9,223.3 L1159.0,223.3 L1159.2,223.3 L1159.3,223.3 L1207.5,212.7 Z" fill="rgb(95,95,95)"/>
<path d="M1207.5,212.7 L1207.6,212.7 L1207.8,212.6 L1207.9,212.6 L1208.0,212.5 L1208.1,212.4 L1208.2,212.3 L1208.3,212.2 L1208.6,211.8 L1208.7,211.6 L1208.8,211.5 L1208.8,211.4 L1208.9,211.2 L1208.9,211.1 L1208.9,211.0 L1208.9,210.8 L1208.9,210.7 L1208.8,210.5 L1208.8,210.4 L1191.0,169.0 L1191.0,168.9 L1190.9,168.8 L1190.8,168.7 L1190.7,168.5 L1190.6,168.5 L1190.5,168.4 L1190.4,168.3 L1190.2,168.3 L1190.1,168.2 L1190.0,168.2 L1189.8,168.2 L1153.2,165.9 L1153.0,165.9 L1152.9,165.9 L1152.8,165.9 L1152.6,165.9 L1152.5,166.0 L1152.4,166.1 L1152.3,166.1 L1152.2,166.2 L1152.1,166.3 L1149.1,169.7 L1149.0,169.8 L1148.9,169.9 L1148.8,170.0 L1148.8,170.2 L1148.7,170.3 L1148.7,170.5 L1148.7,170.6 L1148.7,213.0 L1148.7,213.1 L1148.7,213.3 L1148.8,213.4 L1148.8,213.5 L1148.9,213.7 L1148.9,213.8 L1149.0,213.9 L1149.1,214.0 L1158.0,222.9 L1158.1,223.0 L1158.2,223.1 L1158.3,223.1 L1158.5,223.2 L1158.6,223.3 L1158.7,223.3 L1158.9,223.3 L1159.0,223.3 L1159.2,223.3 L1159.3,223.3 L1207.5,212.7 Z" fill="url(#cg2)"/>
<path d="M1096.7,212.7 L1096.8,212.8 L1096.9,212.9 L1097.0,213.0 L1097.1,213.1 L1097.3,213.1 L1097.4,213.2 L1097.5,213.2 L1097.7,213.2 L1097.8,213.2 L1142.9,212.4 L1143.1,212.4 L1143.2,212.3 L1143.3,212.3 L1143.5,212.3 L1143.6,212.2 L1143.7,212.1 L1143.8,212.0 L1143.9,211.9 L1144.0,211.8 L1144.1,211.7 L1144.1,211.6 L1144.2,211.5 L1144.2,211.4 L1144.3,211.2 L1144.3,211.1 L1144.3,211.0 L1144.3,172.5 L1144.3,172.4 L1144.3,172.2 L1144.2,172.1 L1144.2,172.0 L1144.1,171.9 L1144.1,171.7 L1144.0,171.6 L1143.9,171.5 L1143.8,171.4 L1143.7,171.3 L1143.6,171.3 L1143.4,171.2 L1143.3,171.2 L1143.2,171.1 L1143.0,171.1 L1102.4,167.4 L1102.3,167.4 L1102.2,167.4 L1102.0,167.5 L1101.9,167.5 L1101.8,167.5 L1101.7,167.6 L1101.6,167.7 L1101.4,167.7 L1101.3,167.8 L1101.3,167.9 L1101.2,168.0 L1101.1,168.1 L1101.0,168.3 L1101.0,168.4 L1101.0,168.5 L1100.9,168.6 L1095.6,210.6 L1095.6,210.8 L1095.6,210.9 L1095.6,211.1 L1095.6,211.2 L1095.7,211.3 L1095.7,211.5 L1095.8,211.6 L1095.9,211.7 L1096.7,212.7 Z" fill="rgb(96,96,96)"/>
<path d="M1096.7,212.7 L1096.8,212.8 L1096.9,212.9 L1097.0,213.0 L1097.1,213.1 L1097.3,213.1 L1097.4,213.2 L1097.5,213.2 L1097.7,213.2 L1097.8,213.2 L1142.9,212.4 L1143.1,212.4 L1143.2,212.3 L1143.3,212.3 L1143.5,212.3 L1143.6,212.2 L1143.7,212.1 L1143.8,212.0 L1143.9,211.9 L1144.0,211.8 L1144.1,211.7 L1144.1,211.6 L1144.2,211.5 L1144.2,211.4 L1144.3,211.2 L1144.3,211.1 L1144.3,211.0 L1144.3,172.5 L1144.3,172.4 L1144.3,172.2 L1144.2,172.1 L1144.2,172.0 L1144.1,171.9 L1144.1,171.7 L1144.0,171.6 L1143.9,171.5 L1143.8,171.4 L1143.7,171.3 L1143.6,171.3 L1143.4,171.2 L1143.3,171.2 L1143.2,171.1 L1143.0,171.1 L1102.4,167.4 L1102.3,167.4 L1102.2,167.4 L1102.0,167.5 L1101.9,167.5 L1101.8,167.5 L1101.7,167.6 L1101.6,167.7 L1101.4,167.7 L1101.3,167.8 L1101.3,167.9 L1101.2,168.0 L1101.1,168.1 L1101.0,168.3 L1101.0,168.4 L1101.0,168.5 L1100.9,168.6 L1095.6,210.6 L1095.6,210.8 L1095.6,210.9 L1095.6,211.1 L1095.6,211.2 L1095.7,211.3 L1095.7,211.5 L1095.8,211.6 L1095.9,211.7 L1096.7,212.7 Z" fill="url(#cg2)"/>
<path d="M1288.2,217.0 L1288.3,217.0 L1288.4,217.0 L1288.6,217.0 L1288.7,217.0 L1288.9,217.0 L1289.0,217.0 L1289.1,216.9 L1289.2,216.8 L1289.4,216.7 L1289.5,216.7 L1289.6,216.6 L1289.7,216.4 L1289.7,216.3 L1289.8,216.2 L1289.8,216.1 L1289.9,215.9 L1289.9,215.8 L1289.9,215.6 L1289.9,156.0 L1289.9,155.8 L1289.9,155.7 L1289.8,155.5 L1289.8,155.4 L1289.7,155.3 L1289.7,155.2 L1289.6,155.1 L1289.5,155.0 L1289.4,154.9 L1289.3,154.8 L1289.2,154.7 L1289.0,154.7 L1288.9,154.6 L1288.8,154.6 L1288.6,154.6 L1288.5,154.6 L1288.4,154.6 L1249.1,158.6 L1248.9,158.6 L1248.8,158.6 L1248.7,158.7 L1248.5,158.7 L1248.4,158.8 L1248.3,158.9 L1248.2,159.0 L1248.1,159.1 L1248.0,159.2 L1248.0,159.3 L1247.9,159.4 L1247.9,159.5 L1234.4,202.2 L1234.4,202.4 L1234.3,202.5 L1234.3,202.6 L1234.3,202.8 L1234.3,202.9 L1234.4,203.0 L1234.4,203.2 L1234.5,203.3 L1234.5,203.4 L1234.6,203.5 L1234.7,203.6 L1234.8,203.7 L1234.9,203.8 L1235.0,203.9 L1235.1,203.9 L1235.3,204.0 L1235.4,204.0 L1288.2,217.0 Z" fill="rgb(101,101,101)"/>
<path d="M1288.2,217.0 L1288.3,217.0 L1288.4,217.0 L1288.6,217.0 L1288.7,217.0 L1288.9,217.0 L1289.0,217.0 L1289.1,216.9 L1289.2,216.8 L1289.4,216.7 L1289.5,216.7 L1289.6,216.6 L1289.7,216.4 L1289.7,216.3 L1289.8,216.2 L1289.8,216.1 L1289.9,215.9 L1289.9,215.8 L1289.9,215.6 L1289.9,156.0 L1289.9,155.8 L1289.9,155.7 L1289.8,155.5 L1289.8,155.4 L1289.7,155.3 L1289.7,155.2 L1289.6,155.1 L1289.5,155.0 L1289.4,154.9 L1289.3,154.8 L1289.2,154.7 L1289.0,154.7 L1288.9,154.6 L1288.8,154.6 L1288.6,154.6 L1288.5,154.6 L1288.4,154.6 L1249.1,158.6 L1248.9,158.6 L1248.8,158.6 L1248.7,158.7 L1248.5,158.7 L1248.4,158.8 L1248.3,158.9 L1248.2,159.0 L1248.1,159.1 L1248.0,159.2 L1248.0,159.3 L1247.9,159.4 L1247.9,159.5 L1234.4,202.2 L1234.4,202.4 L1234.3,202.5 L1234.3,202.6 L1234.3,202.8 L1234.3,202.9 L1234.4,203.0 L1234.4,203.2 L1234.5,203.3 L1234.5,203.4 L1234.6,203.5 L1234.7,203.6 L1234.8,203.7 L1234.9,203.8 L1235.0,203.9 L1235.1,203.9 L1235.3,204.0 L1235.4,204.0 L1288.2,217.0 Z" fill="url(#cg2)"/>
<path d="M922.0,264.7 L922.0,264.8 L922.0,264.9 L922.1,265.1 L922.1,265.2 L922.2,265.3 L922.2,265.4 L922.3,265.5 L922.4,265.6 L922.5,265.7 L922.6,265.8 L922.7,265.9 L922.8,265.9 L923.0,266.0 L923.1,266.0 L923.2,266.1 L923.3,266.1 L923.5,266.1 L923.6,266.0 L923.7,266.0 L992.1,248.6 L992.3,248.6 L992.4,248.5 L992.5,248.4 L992.6,248.4 L992.7,248.3 L992.8,248.2 L992.9,248.1 L993.0,247.9 L993.1,247.8 L993.1,247.7 L993.2,247.6 L993.2,247.4 L993.2,247.3 L993.2,247.1 L993.2,247.0 L985.6,206.5 L985.5,206.4 L985.5,206.2 L985.4,206.1 L985.4,206.0 L985.3,205.9 L985.2,205.8 L985.1,205.7 L978.5,200.3 L978.4,200.2 L978.3,200.2 L978.1,200.1 L978.0,200.1 L977.9,200.0 L977.7,200.0 L977.6,200.0 L923.4,200.9 L923.2,200.9 L923.1,200.9 L923.0,201.0 L922.8,201.0 L922.7,201.1 L922.6,201.2 L922.5,201.2 L922.4,201.3 L922.3,201.4 L922.2,201.5 L922.2,201.7 L922.1,201.8 L922.1,201.9 L922.0,202.0 L922.0,202.2 L922.0,202.3 L922.0,264.7 Z" fill="rgb(103,103,103)"/>
<path d="M922.0,264.7 L922.0,264.8 L922.0,264.9 L922.1,265.1 L922.1,265.2 L922.2,265.3 L922.2,265.4 L922.3,265.5 L922.4,265.6 L922.5,265.7 L922.6,265.8 L922.7,265.9 L922.8,265.9 L923.0,266.0 L923.1,266.0 L923.2,266.1 L923.3,266.1 L923.5,266.1 L923.6,266.0 L923.7,266.0 L992.1,248.6 L992.3,248.6 L992.4,248.5 L992.5,248.4 L992.6,248.4 L992.7,248.3 L992.8,248.2 L992.9,248.1 L993.0,247.9 L993.1,247.8 L993.1,247.7 L993.2,247.6 L993.2,247.4 L993.2,247.3 L993.2,247.1 L993.2,247.0 L985.6,206.5 L985.5,206.4 L985.5,206.2 L985.4,206.1 L985.4,206.0 L985.3,205.9 L985.2,205.8 L985.1,205.7 L978.5,200.3 L978.4,200.2 L978.3,200.2 L978.1,200.1 L978.0,200.1 L977.9,200.0 L977.7,200.0 L977.6,200.0 L923.4,200.9 L923.2,200.9 L923.1,200.9 L923.0,201.0 L922.8,201.0 L922.7,201.1 L922.6,201.2 L922.5,201.2 L922.4,201.3 L922.3,201.4 L922.2,201.5 L922.2,201.7 L922.1,201.8 L922.1,201.9 L922.0,202.0 L922.0,202.2 L922.0,202.3 L922.0,264.7 Z" fill="url(#cg2)"/>
<path d="M1038.5,196.3 L1038.4,196.2 L1038.3,196.1 L1038.2,196.0 L1038.1,195.9 L1038.0,195.8 L1037.9,195.7 L1037.8,195.7 L1037.6,195.7 L1037.5,195.6 L1037.4,195.6 L1037.2,195.6 L1037.1,195.6 L1037.0,195.6 L991.4,206.2 L991.2,206.2 L991.1,206.3 L991.0,206.3 L990.9,206.4 L990.8,206.5 L990.7,206.6 L990.6,206.7 L990.5,206.8 L990.4,206.9 L990.4,207.0 L990.3,207.1 L990.3,207.3 L990.3,207.4 L990.3,207.5 L990.3,207.7 L990.3,207.8 L997.8,247.8 L997.8,247.9 L997.9,248.1 L997.9,248.2 L998.0,248.3 L998.1,248.4 L998.2,248.5 L998.3,248.6 L998.4,248.7 L998.5,248.8 L1014.6,257.3 L1014.7,257.4 L1014.8,257.4 L1014.9,257.4 L1015.1,257.5 L1015.2,257.5 L1015.3,257.5 L1015.5,257.4 L1015.6,257.4 L1015.7,257.4 L1029.9,251.8 L1030.1,251.7 L1030.2,251.6 L1030.3,251.6 L1030.4,251.5 L1030.5,251.4 L1030.6,251.2 L1030.7,251.1 L1030.7,251.0 L1030.8,250.8 L1043.5,205.3 L1043.6,205.1 L1043.6,205.0 L1043.6,204.8 L1043.6,204.7 L1043.5,204.5 L1043.5,204.4 L1043.4,204.3 L1043.4,204.1 L1038.5,196.3 Z" fill="rgb(95,95,95)"/>
<path d="M1038.5,196.3 L1038.4,196.2 L1038.3,196.1 L1038.2,196.0 L1038.1,195.9 L1038.0,195.8 L1037.9,195.7 L1037.8,195.7 L1037.6,195.7 L1037.5,195.6 L1037.4,195.6 L1037.2,195.6 L1037.1,195.6 L1037.0,195.6 L991.4,206.2 L991.2,206.2 L991.1,206.3 L991.0,206.3 L990.9,206.4 L990.8,206.5 L990.7,206.6 L990.6,206.7 L990.5,206.8 L990.4,206.9 L990.4,207.0 L990.3,207.1 L990.3,207.3 L990.3,207.4 L990.3,207.5 L990.3,207.7 L990.3,207.8 L997.8,247.8 L997.8,247.9 L997.9,248.1 L997.9,248.2 L998.0,248.3 L998.1,248.4 L998.2,248.5 L998.3,248.6 L998.4,248.7 L998.5,248.8 L1014.6,257.3 L1014.7,257.4 L1014.8,257.4 L1014.9,257.4 L1015.1,257.5 L1015.2,257.5 L1015.3,257.5 L1015.5,257.4 L1015.6,257.4 L1015.7,257.4 L1029.9,251.8 L1030.1,251.7 L1030.2,251.6 L1030.3,251.6 L1030.4,251.5 L1030.5,251.4 L1030.6,251.2 L1030.7,251.1 L1030.7,251.0 L1030.8,250.8 L1043.5,205.3 L1043.6,205.1 L1043.6,205.0 L1043.6,204.8 L1043.6,204.7 L1043.5,204.5 L1043.5,204.4 L1043.4,204.3 L1043.4,204.1 L1038.5,196.3 Z" fill="url(#cg2)"/>
<path d="M1048.9,207.0 L1048.8,207.0 L1048.6,207.0 L1048.5,207.0 L1048.3,207.0 L1048.2,207.1 L1048.1,207.1 L1048.0,207.2 L1047.9,207.3 L1047.8,207.3 L1047.7,207.4 L1047.6,207.5 L1047.5,207.6 L1047.4,207.8 L1047.4,207.9 L1047.3,208.0 L1035.4,250.6 L1035.4,250.7 L1035.3,250.9 L1035.3,251.0 L1035.4,251.1 L1035.4,251.3 L1035.4,251.4 L1035.5,251.5 L1035.5,251.7 L1035.6,251.8 L1035.7,251.9 L1035.8,252.0 L1035.9,252.1 L1036.0,252.2 L1036.1,252.2 L1036.2,252.3 L1072.2,266.2 L1072.4,266.2 L1072.5,266.3 L1072.7,266.3 L1072.8,266.3 L1072.9,266.3 L1073.1,266.2 L1073.2,266.2 L1073.3,266.2 L1086.9,259.9 L1087.0,259.8 L1087.1,259.8 L1087.2,259.7 L1087.3,259.6 L1087.4,259.5 L1087.5,259.4 L1087.5,259.2 L1087.6,259.1 L1087.6,259.0 L1087.7,258.8 L1093.7,216.7 L1093.7,216.6 L1093.7,216.4 L1093.7,216.3 L1093.6,216.1 L1093.6,216.0 L1093.5,215.9 L1093.5,215.7 L1093.4,215.6 L1092.3,214.3 L1092.3,214.2 L1092.2,214.1 L1092.1,214.1 L1092.0,214.0 L1091.8,213.9 L1091.7,213.9 L1091.6,213.9 L1091.5,213.8 L1048.9,207.0 Z" fill="rgb(103,103,103)"/>
<path d="M1048.9,207.0 L1048.8,207.0 L1048.6,207.0 L1048.5,207.0 L1048.3,207.0 L1048.2,207.1 L1048.1,207.1 L1048.0,207.2 L1047.9,207.3 L1047.8,207.3 L1047.7,207.4 L1047.6,207.5 L1047.5,207.6 L1047.4,207.8 L1047.4,207.9 L1047.3,208.0 L1035.4,250.6 L1035.4,250.7 L1035.3,250.9 L1035.3,251.0 L1035.4,251.1 L1035.4,251.3 L1035.4,251.4 L1035.5,251.5 L1035.5,251.7 L1035.6,251.8 L1035.7,251.9 L1035.8,252.0 L1035.9,252.1 L1036.0,252.2 L1036.1,252.2 L1036.2,252.3 L1072.2,266.2 L1072.4,266.2 L1072.5,266.3 L1072.7,266.3 L1072.8,266.3 L1072.9,266.3 L1073.1,266.2 L1073.2,266.2 L1073.3,266.2 L1086.9,259.9 L1087.0,259.8 L1087.1,259.8 L1087.2,259.7 L1087.3,259.6 L1087.4,259.5 L1087.5,259.4 L1087.5,259.2 L1087.6,259.1 L1087.6,259.0 L1087.7,258.8 L1093.7,216.7 L1093.7,216.6 L1093.7,216.4 L1093.7,216.3 L1093.6,216.1 L1093.6,216.0 L1093.5,215.9 L1093.5,215.7 L1093.4,215.6 L1092.3,214.3 L1092.3,214.2 L1092.2,214.1 L1092.1,214.1 L1092.0,214.0 L1091.8,213.9 L1091.7,213.9 L1091.6,213.9 L1091.5,213.8 L1048.9,207.0 Z" fill="url(#cg2)"/>
<path d="M1006.4,313.4 L1006.5,313.3 L1006.6,313.2 L1006.7,313.0 L1006.7,312.9 L1006.8,312.8 L1006.8,312.6 L1006.8,312.5 L1012.5,262.2 L1012.5,262.1 L1012.5,261.9 L1012.5,261.8 L1012.5,261.7 L1012.4,261.5 L1012.4,261.4 L1012.3,261.3 L1012.2,261.2 L1012.1,261.1 L1012.0,261.0 L1011.9,260.9 L1011.8,260.8 L996.1,252.5 L996.0,252.5 L995.9,252.4 L995.8,252.4 L995.7,252.4 L995.5,252.3 L995.4,252.3 L995.3,252.4 L995.1,252.4 L923.1,270.7 L922.9,270.8 L922.8,270.8 L922.7,270.9 L922.5,271.0 L922.4,271.1 L922.3,271.2 L922.3,271.3 L922.2,271.4 L922.1,271.5 L922.1,271.7 L922.0,271.8 L922.0,272.0 L922.0,272.1 L922.0,287.3 L922.0,287.5 L922.0,287.6 L922.1,287.7 L922.1,287.9 L922.2,288.0 L922.2,288.1 L922.3,288.2 L922.4,288.3 L922.5,288.4 L922.6,288.5 L922.7,288.6 L922.9,288.6 L998.1,320.1 L998.2,320.1 L998.3,320.1 L998.4,320.2 L998.6,320.2 L998.7,320.2 L998.8,320.1 L999.0,320.1 L999.1,320.1 L999.2,320.0 L999.3,320.0 L999.4,319.9 L999.5,319.8 L1006.4,313.4 Z" fill="rgb(97,97,97)"/>
<path d="M1006.4,313.4 L1006.5,313.3 L1006.6,313.2 L1006.7,313.0 L1006.7,312.9 L1006.8,312.8 L1006.8,312.6 L1006.8,312.5 L1012.5,262.2 L1012.5,262.1 L1012.5,261.9 L1012.5,261.8 L1012.5,261.7 L1012.4,261.5 L1012.4,261.4 L1012.3,261.3 L1012.2,261.2 L1012.1,261.1 L1012.0,261.0 L1011.9,260.9 L1011.8,260.8 L996.1,252.5 L996.0,252.5 L995.9,252.4 L995.8,252.4 L995.7,252.4 L995.5,252.3 L995.4,252.3 L995.3,252.4 L995.1,252.4 L923.1,270.7 L922.9,270.8 L922.8,270.8 L922.7,270.9 L922.5,271.0 L922.4,271.1 L922.3,271.2 L922.3,271.3 L922.2,271.4 L922.1,271.5 L922.1,271.7 L922.0,271.8 L922.0,272.0 L922.0,272.1 L922.0,287.3 L922.0,287.5 L922.0,287.6 L922.1,287.7 L922.1,287.9 L922.2,288.0 L922.2,288.1 L922.3,288.2 L922.4,288.3 L922.5,288.4 L922.6,288.5 L922.7,288.6 L922.9,288.6 L998.1,320.1 L998.2,320.1 L998.3,320.1 L998.4,320.2 L998.6,320.2 L998.7,320.2 L998.8,320.1 L999.0,320.1 L999.1,320.1 L999.2,320.0 L999.3,320.0 L999.4,319.9 L999.5,319.8 L1006.4,313.4 Z" fill="url(#cg2)"/>
<path d="M1032.9,255.7 L1032.8,255.7 L1032.7,255.6 L1032.5,255.6 L1032.4,255.6 L1032.3,255.6 L1032.1,255.7 L1032.0,255.7 L1031.9,255.7 L1017.8,261.3 L1017.7,261.3 L1017.6,261.4 L1017.5,261.5 L1017.3,261.6 L1017.3,261.7 L1017.2,261.8 L1017.1,261.9 L1017.0,262.0 L1017.0,262.2 L1017.0,262.3 L1016.9,262.4 L1011.5,310.7 L1011.5,310.8 L1011.5,310.9 L1011.5,311.1 L1011.5,311.2 L1011.6,311.4 L1011.6,311.5 L1011.7,311.6 L1011.8,311.7 L1011.9,311.8 L1012.0,311.9 L1012.1,312.0 L1012.2,312.1 L1012.3,312.1 L1012.5,312.2 L1012.6,312.2 L1012.7,312.2 L1061.9,316.8 L1062.1,316.8 L1062.2,316.8 L1062.4,316.8 L1062.5,316.7 L1062.6,316.7 L1062.8,316.6 L1062.9,316.5 L1063.0,316.4 L1063.1,316.3 L1063.2,316.2 L1063.3,316.1 L1063.3,316.0 L1063.4,315.9 L1063.4,315.7 L1063.5,315.6 L1070.3,271.3 L1070.3,271.2 L1070.3,271.0 L1070.3,270.9 L1070.2,270.8 L1070.2,270.6 L1070.2,270.5 L1070.1,270.4 L1070.0,270.3 L1069.9,270.2 L1069.8,270.1 L1069.7,270.0 L1069.6,269.9 L1069.5,269.9 L1069.4,269.8 L1032.9,255.7 Z" fill="rgb(98,98,98)"/>
<path d="M1032.9,255.7 L1032.8,255.7 L1032.7,255.6 L1032.5,255.6 L1032.4,255.6 L1032.3,255.6 L1032.1,255.7 L1032.0,255.7 L1031.9,255.7 L1017.8,261.3 L1017.7,261.3 L1017.6,261.4 L1017.5,261.5 L1017.3,261.6 L1017.3,261.7 L1017.2,261.8 L1017.1,261.9 L1017.0,262.0 L1017.0,262.2 L1017.0,262.3 L1016.9,262.4 L1011.5,310.7 L1011.5,310.8 L1011.5,310.9 L1011.5,311.1 L1011.5,311.2 L1011.6,311.4 L1011.6,311.5 L1011.7,311.6 L1011.8,311.7 L1011.9,311.8 L1012.0,311.9 L1012.1,312.0 L1012.2,312.1 L1012.3,312.1 L1012.5,312.2 L1012.6,312.2 L1012.7,312.2 L1061.9,316.8 L1062.1,316.8 L1062.2,316.8 L1062.4,316.8 L1062.5,316.7 L1062.6,316.7 L1062.8,316.6 L1062.9,316.5 L1063.0,316.4 L1063.1,316.3 L1063.2,316.2 L1063.3,316.1 L1063.3,316.0 L1063.4,315.9 L1063.4,315.7 L1063.5,315.6 L1070.3,271.3 L1070.3,271.2 L1070.3,271.0 L1070.3,270.9 L1070.2,270.8 L1070.2,270.6 L1070.2,270.5 L1070.1,270.4 L1070.0,270.3 L1069.9,270.2 L1069.8,270.1 L1069.7,270.0 L1069.6,269.9 L1069.5,269.9 L1069.4,269.8 L1032.9,255.7 Z" fill="url(#cg2)"/>
<path d="M1090.1,263.8 L1090.0,263.7 L1089.9,263.7 L1089.8,263.7 L1089.6,263.7 L1089.5,263.7 L1089.4,263.7 L1089.2,263.7 L1089.1,263.7 L1089.0,263.8 L1075.6,270.0 L1075.4,270.0 L1075.3,270.1 L1075.2,270.2 L1075.1,270.3 L1075.0,270.4 L1074.9,270.5 L1074.9,270.6 L1074.8,270.8 L1074.8,270.9 L1074.8,271.0 L1067.5,318.0 L1067.5,318.2 L1067.5,318.3 L1067.5,318.5 L1067.6,318.6 L1067.6,318.8 L1067.7,318.9 L1067.7,319.0 L1067.8,319.1 L1068.5,320.0 L1068.6,320.1 L1068.7,320.2 L1068.8,320.3 L1069.0,320.4 L1069.1,320.4 L1069.2,320.5 L1069.4,320.5 L1069.5,320.5 L1098.7,322.7 L1098.8,322.7 L1099.0,322.7 L1099.1,322.7 L1099.2,322.7 L1099.4,322.6 L1099.5,322.5 L1099.6,322.5 L1114.4,311.8 L1114.5,311.7 L1114.6,311.6 L1114.7,311.5 L1114.7,311.3 L1114.8,311.2 L1114.9,311.1 L1114.9,311.0 L1114.9,310.8 L1114.9,310.7 L1114.9,310.5 L1114.9,310.4 L1114.9,310.3 L1114.8,310.1 L1114.8,310.0 L1092.4,265.1 L1092.3,265.0 L1092.2,264.9 L1092.1,264.8 L1092.0,264.7 L1091.9,264.6 L1091.8,264.5 L1091.7,264.5 L1090.1,263.8 Z" fill="rgb(97,97,97)"/>
<path d="M1090.1,263.8 L1090.0,263.7 L1089.9,263.7 L1089.8,263.7 L1089.6,263.7 L1089.5,263.7 L1089.4,263.7 L1089.2,263.7 L1089.1,263.7 L1089.0,263.8 L1075.6,270.0 L1075.4,270.0 L1075.3,270.1 L1075.2,270.2 L1075.1,270.3 L1075.0,270.4 L1074.9,270.5 L1074.9,270.6 L1074.8,270.8 L1074.8,270.9 L1074.8,271.0 L1067.5,318.0 L1067.5,318.2 L1067.5,318.3 L1067.5,318.5 L1067.6,318.6 L1067.6,318.8 L1067.7,318.9 L1067.7,319.0 L1067.8,319.1 L1068.5,320.0 L1068.6,320.1 L1068.7,320.2 L1068.8,320.3 L1069.0,320.4 L1069.1,320.4 L1069.2,320.5 L1069.4,320.5 L1069.5,320.5 L1098.7,322.7 L1098.8,322.7 L1099.0,322.7 L1099.1,322.7 L1099.2,322.7 L1099.4,322.6 L1099.5,322.5 L1099.6,322.5 L1114.4,311.8 L1114.5,311.7 L1114.6,311.6 L1114.7,311.5 L1114.7,311.3 L1114.8,311.2 L1114.9,311.1 L1114.9,311.0 L1114.9,310.8 L1114.9,310.7 L1114.9,310.5 L1114.9,310.4 L1114.9,310.3 L1114.8,310.1 L1114.8,310.0 L1092.4,265.1 L1092.3,265.0 L1092.2,264.9 L1092.1,264.8 L1092.0,264.7 L1091.9,264.6 L1091.8,264.5 L1091.7,264.5 L1090.1,263.8 Z" fill="url(#cg2)"/>
<path d="M997.0,325.4 L997.0,325.3 L997.0,325.1 L996.9,325.0 L996.9,324.9 L996.9,324.8 L996.8,324.6 L996.7,324.5 L996.6,324.4 L996.6,324.3 L996.5,324.2 L996.3,324.1 L996.2,324.1 L996.1,324.0 L923.9,293.8 L923.8,293.8 L923.7,293.8 L923.5,293.7 L923.4,293.7 L923.3,293.7 L923.1,293.8 L923.0,293.8 L922.9,293.8 L922.7,293.9 L922.6,294.0 L922.5,294.0 L922.4,294.1 L922.3,294.2 L922.2,294.3 L922.2,294.5 L922.1,294.6 L922.1,294.7 L922.0,294.9 L922.0,295.0 L922.0,295.1 L922.0,387.6 L922.0,387.7 L922.0,387.8 L922.1,388.0 L922.1,388.1 L922.2,388.2 L922.2,388.3 L922.3,388.4 L922.4,388.5 L922.5,388.6 L922.6,388.7 L922.7,388.8 L922.8,388.9 L923.0,388.9 L923.1,388.9 L923.2,389.0 L923.4,389.0 L923.5,389.0 L923.6,389.0 L923.8,388.9 L923.9,388.9 L924.0,388.8 L924.1,388.8 L924.2,388.7 L995.8,335.1 L995.9,335.0 L996.0,334.9 L996.0,334.8 L996.1,334.7 L996.2,334.5 L996.2,334.4 L996.3,334.3 L996.3,334.2 L996.3,334.0 L997.0,325.4 Z" fill="rgb(108,108,108)"/>
<path d="M997.0,325.4 L997.0,325.3 L997.0,325.1 L996.9,325.0 L996.9,324.9 L996.9,324.8 L996.8,324.6 L996.7,324.5 L996.6,324.4 L996.6,324.3 L996.5,324.2 L996.3,324.1 L996.2,324.1 L996.1,324.0 L923.9,293.8 L923.8,293.8 L923.7,293.8 L923.5,293.7 L923.4,293.7 L923.3,293.7 L923.1,293.8 L923.0,293.8 L922.9,293.8 L922.7,293.9 L922.6,294.0 L922.5,294.0 L922.4,294.1 L922.3,294.2 L922.2,294.3 L922.2,294.5 L922.1,294.6 L922.1,294.7 L922.0,294.9 L922.0,295.0 L922.0,295.1 L922.0,387.6 L922.0,387.7 L922.0,387.8 L922.1,388.0 L922.1,388.1 L922.2,388.2 L922.2,388.3 L922.3,388.4 L922.4,388.5 L922.5,388.6 L922.6,388.7 L922.7,388.8 L922.8,388.9 L923.0,388.9 L923.1,388.9 L923.2,389.0 L923.4,389.0 L923.5,389.0 L923.6,389.0 L923.8,388.9 L923.9,388.9 L924.0,388.8 L924.1,388.8 L924.2,388.7 L995.8,335.1 L995.9,335.0 L996.0,334.9 L996.0,334.8 L996.1,334.7 L996.2,334.5 L996.2,334.4 L996.3,334.3 L996.3,334.2 L996.3,334.0 L997.0,325.4 Z" fill="url(#cg2)"/>
<path d="M1053.8,402.7 L1053.9,402.7 L1054.0,402.7 L1054.2,402.6 L1054.3,402.6 L1054.4,402.5 L1054.5,402.5 L1054.6,402.4 L1054.7,402.3 L1054.8,402.2 L1054.9,402.1 L1055.0,402.0 L1055.0,401.9 L1055.1,401.7 L1055.1,401.6 L1055.2,401.5 L1065.4,323.8 L1065.4,323.7 L1065.4,323.6 L1065.4,323.4 L1065.4,323.3 L1065.3,323.1 L1065.3,323.0 L1065.2,322.9 L1065.1,322.8 L1064.4,321.8 L1064.3,321.7 L1064.2,321.6 L1064.0,321.6 L1063.9,321.5 L1063.8,321.4 L1063.7,321.4 L1063.5,321.3 L1063.4,321.3 L1010.3,316.4 L1010.2,316.4 L1010.0,316.4 L1009.9,316.4 L1009.8,316.5 L1009.6,316.5 L1009.5,316.6 L1009.4,316.6 L1009.3,316.7 L1009.2,316.8 L1001.9,323.6 L1001.8,323.7 L1001.7,323.8 L1001.6,323.9 L1001.6,324.0 L1001.5,324.2 L1001.5,324.3 L1001.5,324.4 L1001.4,324.5 L1000.7,334.9 L1000.7,335.0 L1000.7,335.2 L1000.7,335.3 L1000.7,335.5 L1000.8,335.6 L1000.8,335.7 L1038.4,402.0 L1038.4,402.1 L1038.5,402.2 L1038.6,402.3 L1038.7,402.4 L1038.8,402.5 L1038.9,402.5 L1039.1,402.6 L1039.2,402.6 L1039.3,402.7 L1039.4,402.7 L1039.6,402.7 L1053.8,402.7 Z" fill="rgb(102,102,102)"/>
<path d="M1053.8,402.7 L1053.9,402.7 L1054.0,402.7 L1054.2,402.6 L1054.3,402.6 L1054.4,402.5 L1054.5,402.5 L1054.6,402.4 L1054.7,402.3 L1054.8,402.2 L1054.9,402.1 L1055.0,402.0 L1055.0,401.9 L1055.1,401.7 L1055.1,401.6 L1055.2,401.5 L1065.4,323.8 L1065.4,323.7 L1065.4,323.6 L1065.4,323.4 L1065.4,323.3 L1065.3,323.1 L1065.3,323.0 L1065.2,322.9 L1065.1,322.8 L1064.4,321.8 L1064.3,321.7 L1064.2,321.6 L1064.0,321.6 L1063.9,321.5 L1063.8,321.4 L1063.7,321.4 L1063.5,321.3 L1063.4,321.3 L1010.3,316.4 L1010.2,316.4 L1010.0,316.4 L1009.9,316.4 L1009.8,316.5 L1009.6,316.5 L1009.5,316.6 L1009.4,316.6 L1009.3,316.7 L1009.2,316.8 L1001.9,323.6 L1001.8,323.7 L1001.7,323.8 L1001.6,323.9 L1001.6,324.0 L1001.5,324.2 L1001.5,324.3 L1001.5,324.4 L1001.4,324.5 L1000.7,334.9 L1000.7,335.0 L1000.7,335.2 L1000.7,335.3 L1000.7,335.5 L1000.8,335.6 L1000.8,335.7 L1038.4,402.0 L1038.4,402.1 L1038.5,402.2 L1038.6,402.3 L1038.7,402.4 L1038.8,402.5 L1038.9,402.5 L1039.1,402.6 L1039.2,402.6 L1039.3,402.7 L1039.4,402.7 L1039.6,402.7 L1053.8,402.7 Z" fill="url(#cg2)"/>
<path d="M1126.0,402.7 L1126.1,402.7 L1126.3,402.7 L1126.4,402.6 L1126.5,402.6 L1126.7,402.5 L1126.8,402.5 L1126.9,402.4 L1127.0,402.3 L1127.1,402.2 L1127.2,402.1 L1127.2,402.0 L1127.3,401.8 L1127.3,401.7 L1127.4,401.6 L1127.4,401.5 L1127.4,401.3 L1127.4,401.2 L1127.4,401.0 L1127.4,400.9 L1127.3,400.8 L1098.6,327.9 L1098.5,327.8 L1098.5,327.7 L1098.4,327.6 L1098.3,327.4 L1098.2,327.4 L1098.1,327.3 L1098.0,327.2 L1097.8,327.1 L1097.7,327.1 L1097.5,327.1 L1097.4,327.0 L1071.0,325.0 L1070.9,325.0 L1070.7,325.1 L1070.6,325.1 L1070.5,325.1 L1070.3,325.2 L1070.2,325.2 L1070.1,325.3 L1070.0,325.4 L1069.9,325.5 L1069.8,325.6 L1069.7,325.7 L1069.6,325.9 L1069.6,326.0 L1069.5,326.1 L1069.5,326.3 L1059.6,401.1 L1059.6,401.3 L1059.6,401.4 L1059.6,401.5 L1059.7,401.7 L1059.7,401.8 L1059.8,401.9 L1059.8,402.1 L1059.9,402.2 L1060.0,402.3 L1060.1,402.4 L1060.2,402.5 L1060.4,402.5 L1060.5,402.6 L1060.6,402.6 L1060.7,402.7 L1060.9,402.7 L1061.0,402.7 L1126.0,402.7 Z" fill="rgb(104,104,104)"/>
<path d="M1126.0,402.7 L1126.1,402.7 L1126.3,402.7 L1126.4,402.6 L1126.5,402.6 L1126.7,402.5 L1126.8,402.5 L1126.9,402.4 L1127.0,402.3 L1127.1,402.2 L1127.2,402.1 L1127.2,402.0 L1127.3,401.8 L1127.3,401.7 L1127.4,401.6 L1127.4,401.5 L1127.4,401.3 L1127.4,401.2 L1127.4,401.0 L1127.4,400.9 L1127.3,400.8 L1098.6,327.9 L1098.5,327.8 L1098.5,327.7 L1098.4,327.6 L1098.3,327.4 L1098.2,327.4 L1098.1,327.3 L1098.0,327.2 L1097.8,327.1 L1097.7,327.1 L1097.5,327.1 L1097.4,327.0 L1071.0,325.0 L1070.9,325.0 L1070.7,325.1 L1070.6,325.1 L1070.5,325.1 L1070.3,325.2 L1070.2,325.2 L1070.1,325.3 L1070.0,325.4 L1069.9,325.5 L1069.8,325.6 L1069.7,325.7 L1069.6,325.9 L1069.6,326.0 L1069.5,326.1 L1069.5,326.3 L1059.6,401.1 L1059.6,401.3 L1059.6,401.4 L1059.6,401.5 L1059.7,401.7 L1059.7,401.8 L1059.8,401.9 L1059.8,402.1 L1059.9,402.2 L1060.0,402.3 L1060.1,402.4 L1060.2,402.5 L1060.4,402.5 L1060.5,402.6 L1060.6,402.6 L1060.7,402.7 L1060.9,402.7 L1061.0,402.7 L1126.0,402.7 Z" fill="url(#cg2)"/>
<path d="M1031.3,402.7 L1031.4,402.7 L1031.6,402.7 L1031.7,402.6 L1031.8,402.6 L1032.0,402.5 L1032.1,402.5 L1032.2,402.4 L1032.3,402.3 L1032.4,402.2 L1032.5,402.1 L1032.5,401.9 L1032.6,401.8 L1032.7,401.7 L1032.7,401.6 L1032.7,401.4 L1032.7,401.3 L1032.7,401.1 L1032.7,401.0 L1032.6,400.9 L1032.6,400.7 L1032.5,400.6 L998.5,340.5 L998.4,340.4 L998.3,340.3 L998.2,340.2 L998.1,340.1 L998.0,340.0 L997.9,339.9 L997.8,339.9 L997.6,339.8 L997.5,339.8 L997.4,339.8 L997.2,339.8 L997.1,339.8 L996.9,339.8 L996.8,339.9 L996.7,339.9 L996.5,340.0 L996.4,340.1 L922.6,395.5 L922.4,395.5 L922.3,395.7 L922.3,395.8 L922.2,395.9 L922.1,396.0 L922.1,396.1 L922.0,396.3 L922.0,396.4 L922.0,396.6 L922.0,401.3 L922.0,401.4 L922.0,401.6 L922.1,401.7 L922.1,401.8 L922.2,402.0 L922.2,402.1 L922.3,402.2 L922.4,402.3 L922.5,402.4 L922.6,402.5 L922.7,402.5 L922.9,402.6 L923.0,402.6 L923.1,402.7 L923.3,402.7 L923.4,402.7 L1031.3,402.7 Z" fill="rgb(97,97,97)"/>
<path d="M1031.3,402.7 L1031.4,402.7 L1031.6,402.7 L1031.7,402.6 L1031.8,402.6 L1032.0,402.5 L1032.1,402.5 L1032.2,402.4 L1032.3,402.3 L1032.4,402.2 L1032.5,402.1 L1032.5,401.9 L1032.6,401.8 L1032.7,401.7 L1032.7,401.6 L1032.7,401.4 L1032.7,401.3 L1032.7,401.1 L1032.7,401.0 L1032.6,400.9 L1032.6,400.7 L1032.5,400.6 L998.5,340.5 L998.4,340.4 L998.3,340.3 L998.2,340.2 L998.1,340.1 L998.0,340.0 L997.9,339.9 L997.8,339.9 L997.6,339.8 L997.5,339.8 L997.4,339.8 L997.2,339.8 L997.1,339.8 L996.9,339.8 L996.8,339.9 L996.7,339.9 L996.5,340.0 L996.4,340.1 L922.6,395.5 L922.4,395.5 L922.3,395.7 L922.3,395.8 L922.2,395.9 L922.1,396.0 L922.1,396.1 L922.0,396.3 L922.0,396.4 L922.0,396.6 L922.0,401.3 L922.0,401.4 L922.0,401.6 L922.1,401.7 L922.1,401.8 L922.2,402.0 L922.2,402.1 L922.3,402.2 L922.4,402.3 L922.5,402.4 L922.6,402.5 L922.7,402.5 L922.9,402.6 L923.0,402.6 L923.1,402.7 L923.3,402.7 L923.4,402.7 L1031.3,402.7 Z" fill="url(#cg2)"/>
<path d="M1187.9,279.4 L1188.0,279.5 L1188.2,279.5 L1188.3,279.5 L1188.5,279.5 L1188.6,279.5 L1188.7,279.4 L1188.9,279.4 L1189.0,279.3 L1216.2,263.6 L1216.3,263.5 L1216.4,263.4 L1216.5,263.3 L1216.6,263.2 L1216.7,263.1 L1216.8,263.0 L1216.8,262.9 L1216.9,262.8 L1216.9,262.6 L1216.9,262.5 L1216.9,262.4 L1216.9,262.2 L1216.9,262.1 L1207.9,218.6 L1207.8,218.5 L1207.8,218.3 L1207.7,218.2 L1207.7,218.1 L1207.6,218.0 L1207.5,217.9 L1207.4,217.8 L1207.3,217.7 L1207.1,217.6 L1207.0,217.6 L1206.9,217.5 L1206.8,217.5 L1206.6,217.5 L1206.5,217.5 L1206.3,217.5 L1206.2,217.5 L1160.7,227.5 L1160.5,227.5 L1160.4,227.6 L1160.3,227.6 L1160.2,227.7 L1160.1,227.8 L1160.0,227.9 L1159.9,228.0 L1159.8,228.1 L1159.7,228.2 L1159.7,228.3 L1159.6,228.5 L1159.6,228.6 L1153.5,262.2 L1153.4,262.4 L1153.4,262.5 L1153.5,262.7 L1153.5,262.8 L1153.5,263.0 L1153.6,263.1 L1156.6,269.3 L1156.7,269.5 L1156.8,269.6 L1156.9,269.7 L1157.0,269.8 L1157.1,269.9 L1157.2,270.0 L1157.3,270.0 L1157.5,270.1 L1187.9,279.4 Z" fill="rgb(105,105,105)"/>
<path d="M1187.9,279.4 L1188.0,279.5 L1188.2,279.5 L1188.3,279.5 L1188.5,279.5 L1188.6,279.5 L1188.7,279.4 L1188.9,279.4 L1189.0,279.3 L1216.2,263.6 L1216.3,263.5 L1216.4,263.4 L1216.5,263.3 L1216.6,263.2 L1216.7,263.1 L1216.8,263.0 L1216.8,262.9 L1216.9,262.8 L1216.9,262.6 L1216.9,262.5 L1216.9,262.4 L1216.9,262.2 L1216.9,262.1 L1207.9,218.6 L1207.8,218.5 L1207.8,218.3 L1207.7,218.2 L1207.7,218.1 L1207.6,218.0 L1207.5,217.9 L1207.4,217.8 L1207.3,217.7 L1207.1,217.6 L1207.0,217.6 L1206.9,217.5 L1206.8,217.5 L1206.6,217.5 L1206.5,217.5 L1206.3,217.5 L1206.2,217.5 L1160.7,227.5 L1160.5,227.5 L1160.4,227.6 L1160.3,227.6 L1160.2,227.7 L1160.1,227.8 L1160.0,227.9 L1159.9,228.0 L1159.8,228.1 L1159.7,228.2 L1159.7,228.3 L1159.6,228.5 L1159.6,228.6 L1153.5,262.2 L1153.4,262.4 L1153.4,262.5 L1153.5,262.7 L1153.5,262.8 L1153.5,263.0 L1153.6,263.1 L1156.6,269.3 L1156.7,269.5 L1156.8,269.6 L1156.9,269.7 L1157.0,269.8 L1157.1,269.9 L1157.2,270.0 L1157.3,270.0 L1157.5,270.1 L1187.9,279.4 Z" fill="url(#cg2)"/>
<path d="M1244.4,275.6 L1244.5,275.7 L1244.7,275.7 L1244.8,275.8 L1244.9,275.8 L1245.1,275.8 L1288.5,275.8 L1288.6,275.8 L1288.8,275.8 L1288.9,275.7 L1289.0,275.7 L1289.2,275.6 L1289.3,275.6 L1289.4,275.5 L1289.5,275.4 L1289.6,275.3 L1289.7,275.2 L1289.7,275.1 L1289.8,274.9 L1289.8,274.8 L1289.9,274.7 L1289.9,274.5 L1289.9,274.4 L1289.9,223.1 L1289.9,222.9 L1289.9,222.8 L1289.8,222.7 L1289.8,222.5 L1289.7,222.4 L1289.7,222.3 L1289.6,222.2 L1289.5,222.1 L1289.4,222.0 L1289.3,221.9 L1289.2,221.8 L1289.1,221.8 L1289.0,221.7 L1288.8,221.7 L1231.6,207.6 L1231.5,207.6 L1231.3,207.6 L1231.2,207.6 L1231.1,207.6 L1231.0,207.6 L1230.8,207.6 L1213.4,213.1 L1213.3,213.2 L1213.2,213.2 L1213.1,213.3 L1212.9,213.4 L1212.9,213.5 L1212.8,213.6 L1212.7,213.7 L1212.0,214.6 L1211.9,214.7 L1211.9,214.8 L1211.8,215.0 L1211.8,215.1 L1211.7,215.3 L1211.7,215.4 L1211.7,215.6 L1211.8,215.7 L1221.4,262.1 L1221.4,262.3 L1221.5,262.4 L1221.5,262.5 L1221.6,262.6 L1221.7,262.7 L1221.8,262.8 L1221.8,262.9 L1222.0,263.0 L1222.1,263.1 L1244.4,275.6 Z" fill="rgb(99,99,99)"/>
<path d="M1244.4,275.6 L1244.5,275.7 L1244.7,275.7 L1244.8,275.8 L1244.9,275.8 L1245.1,275.8 L1288.5,275.8 L1288.6,275.8 L1288.8,275.8 L1288.9,275.7 L1289.0,275.7 L1289.2,275.6 L1289.3,275.6 L1289.4,275.5 L1289.5,275.4 L1289.6,275.3 L1289.7,275.2 L1289.7,275.1 L1289.8,274.9 L1289.8,274.8 L1289.9,274.7 L1289.9,274.5 L1289.9,274.4 L1289.9,223.1 L1289.9,222.9 L1289.9,222.8 L1289.8,222.7 L1289.8,222.5 L1289.7,222.4 L1289.7,222.3 L1289.6,222.2 L1289.5,222.1 L1289.4,222.0 L1289.3,221.9 L1289.2,221.8 L1289.1,221.8 L1289.0,221.7 L1288.8,221.7 L1231.6,207.6 L1231.5,207.6 L1231.3,207.6 L1231.2,207.6 L1231.1,207.6 L1231.0,207.6 L1230.8,207.6 L1213.4,213.1 L1213.3,213.2 L1213.2,213.2 L1213.1,213.3 L1212.9,213.4 L1212.9,213.5 L1212.8,213.6 L1212.7,213.7 L1212.0,214.6 L1211.9,214.7 L1211.9,214.8 L1211.8,215.0 L1211.8,215.1 L1211.7,215.3 L1211.7,215.4 L1211.7,215.6 L1211.8,215.7 L1221.4,262.1 L1221.4,262.3 L1221.5,262.4 L1221.5,262.5 L1221.6,262.6 L1221.7,262.7 L1221.8,262.8 L1221.8,262.9 L1222.0,263.0 L1222.1,263.1 L1244.4,275.6 Z" fill="url(#cg2)"/>
<path d="M1155.3,227.3 L1155.4,227.2 L1155.4,227.0 L1155.4,226.9 L1155.3,226.8 L1155.3,226.6 L1155.3,226.5 L1155.2,226.4 L1155.1,226.3 L1155.0,226.2 L1155.0,226.1 L1146.0,217.1 L1145.9,217.0 L1145.8,217.0 L1145.7,216.9 L1145.6,216.8 L1145.4,216.8 L1145.3,216.8 L1145.2,216.7 L1145.0,216.7 L1099.2,217.6 L1099.0,217.6 L1098.9,217.6 L1098.8,217.7 L1098.6,217.7 L1098.5,217.8 L1098.4,217.9 L1098.3,218.0 L1098.2,218.1 L1098.1,218.2 L1098.0,218.3 L1097.9,218.4 L1097.9,218.5 L1097.8,218.7 L1097.8,218.8 L1092.1,258.7 L1092.1,258.9 L1092.1,259.0 L1092.1,259.1 L1092.1,259.3 L1092.2,259.4 L1092.2,259.5 L1092.3,259.7 L1092.4,259.8 L1092.5,259.9 L1092.6,260.0 L1092.7,260.1 L1092.8,260.1 L1092.9,260.2 L1094.0,260.7 L1094.1,260.7 L1094.2,260.8 L1094.4,260.8 L1094.5,260.8 L1148.1,260.8 L1148.2,260.8 L1148.4,260.8 L1148.5,260.7 L1148.6,260.7 L1148.8,260.6 L1148.9,260.6 L1149.0,260.5 L1149.1,260.4 L1149.2,260.3 L1149.3,260.2 L1149.3,260.0 L1149.4,259.9 L1149.4,259.8 L1149.5,259.7 L1155.3,227.3 Z" fill="rgb(95,95,95)"/>
<path d="M1155.3,227.3 L1155.4,227.2 L1155.4,227.0 L1155.4,226.9 L1155.3,226.8 L1155.3,226.6 L1155.3,226.5 L1155.2,226.4 L1155.1,226.3 L1155.0,226.2 L1155.0,226.1 L1146.0,217.1 L1145.9,217.0 L1145.8,217.0 L1145.7,216.9 L1145.6,216.8 L1145.4,216.8 L1145.3,216.8 L1145.2,216.7 L1145.0,216.7 L1099.2,217.6 L1099.0,217.6 L1098.9,217.6 L1098.8,217.7 L1098.6,217.7 L1098.5,217.8 L1098.4,217.9 L1098.3,218.0 L1098.2,218.1 L1098.1,218.2 L1098.0,218.3 L1097.9,218.4 L1097.9,218.5 L1097.8,218.7 L1097.8,218.8 L1092.1,258.7 L1092.1,258.9 L1092.1,259.0 L1092.1,259.1 L1092.1,259.3 L1092.2,259.4 L1092.2,259.5 L1092.3,259.7 L1092.4,259.8 L1092.5,259.9 L1092.6,260.0 L1092.7,260.1 L1092.8,260.1 L1092.9,260.2 L1094.0,260.7 L1094.1,260.7 L1094.2,260.8 L1094.4,260.8 L1094.5,260.8 L1148.1,260.8 L1148.2,260.8 L1148.4,260.8 L1148.5,260.7 L1148.6,260.7 L1148.8,260.6 L1148.9,260.6 L1149.0,260.5 L1149.1,260.4 L1149.2,260.3 L1149.3,260.2 L1149.3,260.0 L1149.4,259.9 L1149.4,259.8 L1149.5,259.7 L1155.3,227.3 Z" fill="url(#cg2)"/>
<path d="M1142.6,309.5 L1142.5,309.7 L1142.5,309.8 L1142.5,309.9 L1142.5,310.1 L1142.5,310.2 L1142.5,310.3 L1142.5,310.5 L1142.6,310.6 L1142.6,310.7 L1142.7,310.9 L1159.1,334.2 L1159.2,334.3 L1159.3,334.4 L1159.4,334.5 L1159.5,334.5 L1159.6,334.6 L1159.7,334.7 L1159.8,334.7 L1160.0,334.7 L1160.1,334.7 L1160.2,334.8 L1160.4,334.7 L1160.5,334.7 L1192.8,327.9 L1192.9,327.9 L1193.1,327.8 L1193.2,327.8 L1193.3,327.7 L1193.4,327.6 L1193.5,327.5 L1193.6,327.4 L1193.7,327.3 L1193.8,327.2 L1193.8,327.1 L1193.9,327.0 L1193.9,326.9 L1193.9,326.7 L1193.9,326.6 L1193.9,326.5 L1193.9,326.3 L1186.9,284.6 L1186.9,284.4 L1186.9,284.3 L1186.8,284.2 L1186.7,284.0 L1186.7,283.9 L1186.6,283.8 L1186.5,283.7 L1186.4,283.6 L1186.2,283.6 L1186.1,283.5 L1186.0,283.4 L1157.8,274.8 L1157.7,274.8 L1157.6,274.7 L1157.4,274.7 L1157.3,274.7 L1157.2,274.8 L1157.0,274.8 L1156.9,274.8 L1156.8,274.9 L1156.6,275.0 L1156.5,275.1 L1156.4,275.1 L1156.3,275.2 L1156.3,275.4 L1156.2,275.5 L1156.1,275.6 L1142.6,309.5 Z" fill="rgb(104,104,104)"/>
<path d="M1142.6,309.5 L1142.5,309.7 L1142.5,309.8 L1142.5,309.9 L1142.5,310.1 L1142.5,310.2 L1142.5,310.3 L1142.5,310.5 L1142.6,310.6 L1142.6,310.7 L1142.7,310.9 L1159.1,334.2 L1159.2,334.3 L1159.3,334.4 L1159.4,334.5 L1159.5,334.5 L1159.6,334.6 L1159.7,334.7 L1159.8,334.7 L1160.0,334.7 L1160.1,334.7 L1160.2,334.8 L1160.4,334.7 L1160.5,334.7 L1192.8,327.9 L1192.9,327.9 L1193.1,327.8 L1193.2,327.8 L1193.3,327.7 L1193.4,327.6 L1193.5,327.5 L1193.6,327.4 L1193.7,327.3 L1193.8,327.2 L1193.8,327.1 L1193.9,327.0 L1193.9,326.9 L1193.9,326.7 L1193.9,326.6 L1193.9,326.5 L1193.9,326.3 L1186.9,284.6 L1186.9,284.4 L1186.9,284.3 L1186.8,284.2 L1186.7,284.0 L1186.7,283.9 L1186.6,283.8 L1186.5,283.7 L1186.4,283.6 L1186.2,283.6 L1186.1,283.5 L1186.0,283.4 L1157.8,274.8 L1157.7,274.8 L1157.6,274.7 L1157.4,274.7 L1157.3,274.7 L1157.2,274.8 L1157.0,274.8 L1156.9,274.8 L1156.8,274.9 L1156.6,275.0 L1156.5,275.1 L1156.4,275.1 L1156.3,275.2 L1156.3,275.4 L1156.2,275.5 L1156.1,275.6 L1142.6,309.5 Z" fill="url(#cg2)"/>
<path d="M1192.0,282.7 L1191.9,282.7 L1191.8,282.8 L1191.7,282.9 L1191.6,283.0 L1191.5,283.1 L1191.4,283.3 L1191.4,283.4 L1191.4,283.5 L1191.3,283.7 L1191.3,283.8 L1191.3,284.0 L1191.3,284.1 L1198.5,327.1 L1198.5,327.3 L1198.6,327.4 L1198.6,327.5 L1198.7,327.6 L1198.8,327.8 L1198.9,327.9 L1199.0,328.0 L1199.1,328.0 L1199.2,328.1 L1199.3,328.2 L1210.7,333.5 L1210.8,333.6 L1210.9,333.6 L1211.1,333.6 L1211.2,333.6 L1211.3,333.6 L1211.5,333.6 L1211.6,333.6 L1211.8,333.5 L1211.9,333.5 L1212.0,333.4 L1212.1,333.3 L1212.2,333.2 L1212.3,333.1 L1212.4,333.0 L1212.5,332.9 L1240.5,280.1 L1240.6,280.0 L1240.7,279.8 L1240.7,279.7 L1240.7,279.6 L1240.7,279.4 L1240.7,279.3 L1240.7,279.2 L1240.7,279.0 L1240.6,278.9 L1240.6,278.8 L1240.5,278.7 L1240.4,278.5 L1240.3,278.4 L1240.2,278.4 L1240.1,278.3 L1240.0,278.2 L1220.3,267.1 L1220.2,267.1 L1220.0,267.0 L1219.9,267.0 L1219.8,267.0 L1219.6,266.9 L1219.5,266.9 L1219.4,267.0 L1219.2,267.0 L1219.1,267.0 L1219.0,267.1 L1218.9,267.1 L1192.0,282.7 Z" fill="rgb(104,104,104)"/>
<path d="M1192.0,282.7 L1191.9,282.7 L1191.8,282.8 L1191.7,282.9 L1191.6,283.0 L1191.5,283.1 L1191.4,283.3 L1191.4,283.4 L1191.4,283.5 L1191.3,283.7 L1191.3,283.8 L1191.3,284.0 L1191.3,284.1 L1198.5,327.1 L1198.5,327.3 L1198.6,327.4 L1198.6,327.5 L1198.7,327.6 L1198.8,327.8 L1198.9,327.9 L1199.0,328.0 L1199.1,328.0 L1199.2,328.1 L1199.3,328.2 L1210.7,333.5 L1210.8,333.6 L1210.9,333.6 L1211.1,333.6 L1211.2,333.6 L1211.3,333.6 L1211.5,333.6 L1211.6,333.6 L1211.8,333.5 L1211.9,333.5 L1212.0,333.4 L1212.1,333.3 L1212.2,333.2 L1212.3,333.1 L1212.4,333.0 L1212.5,332.9 L1240.5,280.1 L1240.6,280.0 L1240.7,279.8 L1240.7,279.7 L1240.7,279.6 L1240.7,279.4 L1240.7,279.3 L1240.7,279.2 L1240.7,279.0 L1240.6,278.9 L1240.6,278.8 L1240.5,278.7 L1240.4,278.5 L1240.3,278.4 L1240.2,278.4 L1240.1,278.3 L1240.0,278.2 L1220.3,267.1 L1220.2,267.1 L1220.0,267.0 L1219.9,267.0 L1219.8,267.0 L1219.6,266.9 L1219.5,266.9 L1219.4,267.0 L1219.2,267.0 L1219.1,267.0 L1219.0,267.1 L1218.9,267.1 L1192.0,282.7 Z" fill="url(#cg2)"/>
<path d="M1246.3,280.2 L1246.2,280.2 L1246.0,280.2 L1245.9,280.3 L1245.8,280.3 L1245.6,280.4 L1245.5,280.4 L1245.4,280.5 L1245.3,280.6 L1245.2,280.7 L1245.1,280.8 L1245.1,280.9 L1217.8,332.2 L1217.8,332.3 L1217.7,332.4 L1217.7,332.6 L1217.7,332.7 L1217.7,332.9 L1217.7,333.0 L1217.7,333.1 L1217.7,333.3 L1217.8,333.4 L1217.9,333.5 L1217.9,333.7 L1218.0,333.8 L1218.1,333.9 L1218.2,334.0 L1218.3,334.0 L1218.5,334.1 L1218.6,334.2 L1218.7,334.2 L1218.9,334.2 L1288.3,345.3 L1288.4,345.4 L1288.5,345.4 L1288.7,345.3 L1288.8,345.3 L1288.9,345.3 L1289.1,345.2 L1289.2,345.2 L1289.3,345.1 L1289.4,345.0 L1289.5,344.9 L1289.6,344.8 L1289.7,344.7 L1289.7,344.6 L1289.8,344.5 L1289.8,344.4 L1289.9,344.2 L1289.9,344.1 L1289.9,344.0 L1289.9,281.6 L1289.9,281.5 L1289.9,281.3 L1289.8,281.2 L1289.8,281.1 L1289.7,280.9 L1289.7,280.8 L1289.6,280.7 L1289.5,280.6 L1289.4,280.5 L1289.3,280.4 L1289.2,280.4 L1289.0,280.3 L1288.9,280.3 L1288.8,280.2 L1288.6,280.2 L1288.5,280.2 L1246.3,280.2 Z" fill="rgb(99,99,99)"/>
<path d="M1246.3,280.2 L1246.2,280.2 L1246.0,280.2 L1245.9,280.3 L1245.8,280.3 L1245.6,280.4 L1245.5,280.4 L1245.4,280.5 L1245.3,280.6 L1245.2,280.7 L1245.1,280.8 L1245.1,280.9 L1217.8,332.2 L1217.8,332.3 L1217.7,332.4 L1217.7,332.6 L1217.7,332.7 L1217.7,332.9 L1217.7,333.0 L1217.7,333.1 L1217.7,333.3 L1217.8,333.4 L1217.9,333.5 L1217.9,333.7 L1218.0,333.8 L1218.1,333.9 L1218.2,334.0 L1218.3,334.0 L1218.5,334.1 L1218.6,334.2 L1218.7,334.2 L1218.9,334.2 L1288.3,345.3 L1288.4,345.4 L1288.5,345.4 L1288.7,345.3 L1288.8,345.3 L1288.9,345.3 L1289.1,345.2 L1289.2,345.2 L1289.3,345.1 L1289.4,345.0 L1289.5,344.9 L1289.6,344.8 L1289.7,344.7 L1289.7,344.6 L1289.8,344.5 L1289.8,344.4 L1289.9,344.2 L1289.9,344.1 L1289.9,344.0 L1289.9,281.6 L1289.9,281.5 L1289.9,281.3 L1289.8,281.2 L1289.8,281.1 L1289.7,280.9 L1289.7,280.8 L1289.6,280.7 L1289.5,280.6 L1289.4,280.5 L1289.3,280.4 L1289.2,280.4 L1289.0,280.3 L1288.9,280.3 L1288.8,280.2 L1288.6,280.2 L1288.5,280.2 L1246.3,280.2 Z" fill="url(#cg2)"/>
<path d="M1150.1,266.0 L1150.0,265.9 L1149.9,265.7 L1149.9,265.6 L1149.8,265.5 L1149.6,265.5 L1149.5,265.4 L1149.4,265.3 L1149.3,265.3 L1149.1,265.2 L1149.0,265.2 L1148.8,265.2 L1099.6,265.2 L1099.4,265.2 L1099.3,265.2 L1099.2,265.3 L1099.0,265.3 L1098.9,265.4 L1098.8,265.4 L1098.7,265.5 L1098.6,265.6 L1098.5,265.7 L1098.4,265.8 L1098.3,265.9 L1098.3,266.0 L1098.2,266.2 L1098.2,266.3 L1098.2,266.4 L1098.2,266.6 L1098.2,266.7 L1098.2,266.8 L1098.2,267.0 L1098.3,267.1 L1098.3,267.2 L1119.0,308.6 L1119.1,308.8 L1119.2,308.9 L1119.3,309.0 L1119.4,309.1 L1119.5,309.2 L1119.6,309.2 L1119.7,309.3 L1119.8,309.3 L1120.0,309.4 L1120.1,309.4 L1120.2,309.4 L1120.4,309.4 L1137.4,308.5 L1137.5,308.4 L1137.6,308.4 L1137.8,308.4 L1137.9,308.3 L1138.0,308.3 L1138.1,308.2 L1138.2,308.1 L1138.3,308.0 L1138.4,307.9 L1138.5,307.8 L1138.5,307.7 L1138.6,307.6 L1152.7,272.4 L1152.7,272.2 L1152.8,272.1 L1152.8,271.9 L1152.8,271.8 L1152.8,271.7 L1152.7,271.5 L1152.7,271.4 L1152.6,271.2 L1150.1,266.0 Z" fill="rgb(95,95,95)"/>
<path d="M1150.1,266.0 L1150.0,265.9 L1149.9,265.7 L1149.9,265.6 L1149.8,265.5 L1149.6,265.5 L1149.5,265.4 L1149.4,265.3 L1149.3,265.3 L1149.1,265.2 L1149.0,265.2 L1148.8,265.2 L1099.6,265.2 L1099.4,265.2 L1099.3,265.2 L1099.2,265.3 L1099.0,265.3 L1098.9,265.4 L1098.8,265.4 L1098.7,265.5 L1098.6,265.6 L1098.5,265.7 L1098.4,265.8 L1098.3,265.9 L1098.3,266.0 L1098.2,266.2 L1098.2,266.3 L1098.2,266.4 L1098.2,266.6 L1098.2,266.7 L1098.2,266.8 L1098.2,267.0 L1098.3,267.1 L1098.3,267.2 L1119.0,308.6 L1119.1,308.8 L1119.2,308.9 L1119.3,309.0 L1119.4,309.1 L1119.5,309.2 L1119.6,309.2 L1119.7,309.3 L1119.8,309.3 L1120.0,309.4 L1120.1,309.4 L1120.2,309.4 L1120.4,309.4 L1137.4,308.5 L1137.5,308.4 L1137.6,308.4 L1137.8,308.4 L1137.9,308.3 L1138.0,308.3 L1138.1,308.2 L1138.2,308.1 L1138.3,308.0 L1138.4,307.9 L1138.5,307.8 L1138.5,307.7 L1138.6,307.6 L1152.7,272.4 L1152.7,272.2 L1152.8,272.1 L1152.8,271.9 L1152.8,271.8 L1152.8,271.7 L1152.7,271.5 L1152.7,271.4 L1152.6,271.2 L1150.1,266.0 Z" fill="url(#cg2)"/>
<path d="M1119.3,313.9 L1119.2,313.9 L1119.0,313.9 L1118.9,314.0 L1118.8,314.0 L1118.7,314.1 L1118.6,314.1 L1103.4,325.2 L1103.3,325.2 L1103.2,325.3 L1103.1,325.5 L1103.0,325.6 L1102.9,325.7 L1102.9,325.8 L1102.8,326.0 L1102.8,326.1 L1102.8,326.2 L1102.8,326.4 L1102.8,326.5 L1102.8,326.7 L1102.9,326.8 L1130.0,395.6 L1130.0,395.7 L1130.1,395.8 L1130.2,395.9 L1130.3,396.0 L1130.4,396.1 L1130.5,396.2 L1130.6,396.3 L1130.7,396.3 L1130.9,396.4 L1131.0,396.4 L1131.1,396.4 L1131.3,396.5 L1131.4,396.5 L1131.6,396.4 L1131.7,396.4 L1131.8,396.4 L1131.9,396.3 L1132.1,396.2 L1132.2,396.1 L1132.3,396.0 L1132.4,395.9 L1132.5,395.8 L1132.5,395.7 L1132.6,395.6 L1155.9,338.4 L1155.9,338.2 L1155.9,338.1 L1156.0,337.9 L1156.0,337.8 L1156.0,337.7 L1155.9,337.5 L1155.9,337.4 L1155.8,337.3 L1155.8,337.1 L1155.7,337.0 L1139.1,313.4 L1139.1,313.3 L1139.0,313.2 L1138.8,313.1 L1138.7,313.0 L1138.6,313.0 L1138.5,312.9 L1138.3,312.9 L1138.2,312.8 L1138.1,312.8 L1137.9,312.8 L1119.3,313.9 Z" fill="rgb(99,99,99)"/>
<path d="M1119.3,313.9 L1119.2,313.9 L1119.0,313.9 L1118.9,314.0 L1118.8,314.0 L1118.7,314.1 L1118.6,314.1 L1103.4,325.2 L1103.3,325.2 L1103.2,325.3 L1103.1,325.5 L1103.0,325.6 L1102.9,325.7 L1102.9,325.8 L1102.8,326.0 L1102.8,326.1 L1102.8,326.2 L1102.8,326.4 L1102.8,326.5 L1102.8,326.7 L1102.9,326.8 L1130.0,395.6 L1130.0,395.7 L1130.1,395.8 L1130.2,395.9 L1130.3,396.0 L1130.4,396.1 L1130.5,396.2 L1130.6,396.3 L1130.7,396.3 L1130.9,396.4 L1131.0,396.4 L1131.1,396.4 L1131.3,396.5 L1131.4,396.5 L1131.6,396.4 L1131.7,396.4 L1131.8,396.4 L1131.9,396.3 L1132.1,396.2 L1132.2,396.1 L1132.3,396.0 L1132.4,395.9 L1132.5,395.8 L1132.5,395.7 L1132.6,395.6 L1155.9,338.4 L1155.9,338.2 L1155.9,338.1 L1156.0,337.9 L1156.0,337.8 L1156.0,337.7 L1155.9,337.5 L1155.9,337.4 L1155.8,337.3 L1155.8,337.1 L1155.7,337.0 L1139.1,313.4 L1139.1,313.3 L1139.0,313.2 L1138.8,313.1 L1138.7,313.0 L1138.6,313.0 L1138.5,312.9 L1138.3,312.9 L1138.2,312.8 L1138.1,312.8 L1137.9,312.8 L1119.3,313.9 Z" fill="url(#cg2)"/>
<path d="M1135.2,400.8 L1135.2,400.9 L1135.1,401.0 L1135.1,401.2 L1135.1,401.3 L1135.1,401.4 L1135.1,401.6 L1135.2,401.7 L1135.2,401.8 L1135.3,402.0 L1135.4,402.1 L1135.4,402.2 L1135.5,402.3 L1135.6,402.4 L1135.7,402.5 L1135.9,402.5 L1136.0,402.6 L1136.1,402.6 L1136.2,402.7 L1136.4,402.7 L1136.5,402.7 L1204.3,402.7 L1204.4,402.7 L1204.6,402.7 L1204.7,402.6 L1204.8,402.6 L1205.0,402.5 L1205.1,402.5 L1205.2,402.4 L1205.3,402.3 L1205.4,402.2 L1205.5,402.0 L1205.5,401.9 L1205.6,401.8 L1205.6,401.7 L1205.7,401.5 L1205.7,401.4 L1209.2,338.6 L1209.2,338.5 L1209.2,338.4 L1209.1,338.2 L1209.1,338.1 L1209.0,338.0 L1209.0,337.8 L1208.9,337.7 L1208.8,337.6 L1208.7,337.5 L1208.6,337.4 L1208.5,337.4 L1208.4,337.3 L1196.8,331.9 L1196.7,331.8 L1196.6,331.8 L1196.4,331.8 L1196.3,331.7 L1196.2,331.7 L1196.0,331.7 L1195.9,331.8 L1161.0,339.1 L1160.8,339.2 L1160.7,339.2 L1160.6,339.3 L1160.5,339.3 L1160.4,339.4 L1160.3,339.5 L1160.2,339.6 L1160.1,339.7 L1160.0,339.8 L1160.0,340.0 L1135.2,400.8 Z" fill="rgb(104,104,104)"/>
<path d="M1135.2,400.8 L1135.2,400.9 L1135.1,401.0 L1135.1,401.2 L1135.1,401.3 L1135.1,401.4 L1135.1,401.6 L1135.2,401.7 L1135.2,401.8 L1135.3,402.0 L1135.4,402.1 L1135.4,402.2 L1135.5,402.3 L1135.6,402.4 L1135.7,402.5 L1135.9,402.5 L1136.0,402.6 L1136.1,402.6 L1136.2,402.7 L1136.4,402.7 L1136.5,402.7 L1204.3,402.7 L1204.4,402.7 L1204.6,402.7 L1204.7,402.6 L1204.8,402.6 L1205.0,402.5 L1205.1,402.5 L1205.2,402.4 L1205.3,402.3 L1205.4,402.2 L1205.5,402.0 L1205.5,401.9 L1205.6,401.8 L1205.6,401.7 L1205.7,401.5 L1205.7,401.4 L1209.2,338.6 L1209.2,338.5 L1209.2,338.4 L1209.1,338.2 L1209.1,338.1 L1209.0,338.0 L1209.0,337.8 L1208.9,337.7 L1208.8,337.6 L1208.7,337.5 L1208.6,337.4 L1208.5,337.4 L1208.4,337.3 L1196.8,331.9 L1196.7,331.8 L1196.6,331.8 L1196.4,331.8 L1196.3,331.7 L1196.2,331.7 L1196.0,331.7 L1195.9,331.8 L1161.0,339.1 L1160.8,339.2 L1160.7,339.2 L1160.6,339.3 L1160.5,339.3 L1160.4,339.4 L1160.3,339.5 L1160.2,339.6 L1160.1,339.7 L1160.0,339.8 L1160.0,340.0 L1135.2,400.8 Z" fill="url(#cg2)"/>
<path d="M1215.2,338.1 L1215.0,338.1 L1214.9,338.1 L1214.7,338.1 L1214.6,338.1 L1214.5,338.2 L1214.4,338.2 L1214.2,338.3 L1214.1,338.3 L1214.0,338.4 L1213.9,338.5 L1213.8,338.6 L1213.7,338.7 L1213.7,338.9 L1213.6,339.0 L1213.6,339.1 L1213.6,339.3 L1213.5,339.4 L1210.1,401.2 L1210.1,401.4 L1210.1,401.5 L1210.1,401.6 L1210.2,401.7 L1210.2,401.9 L1210.3,402.0 L1210.4,402.1 L1210.4,402.2 L1210.5,402.3 L1210.6,402.4 L1210.7,402.5 L1210.9,402.5 L1211.0,402.6 L1211.1,402.6 L1211.2,402.7 L1211.4,402.7 L1211.5,402.7 L1288.5,402.7 L1288.6,402.7 L1288.8,402.7 L1288.9,402.6 L1289.0,402.6 L1289.2,402.5 L1289.3,402.5 L1289.4,402.4 L1289.5,402.3 L1289.6,402.2 L1289.7,402.1 L1289.7,402.0 L1289.8,401.8 L1289.8,401.7 L1289.9,401.6 L1289.9,401.4 L1289.9,401.3 L1289.9,351.2 L1289.9,351.1 L1289.9,351.0 L1289.8,350.8 L1289.8,350.7 L1289.7,350.6 L1289.7,350.4 L1289.6,350.3 L1289.5,350.2 L1289.4,350.1 L1289.2,350.1 L1289.1,350.0 L1289.0,349.9 L1288.9,349.9 L1288.7,349.9 L1215.2,338.1 Z" fill="rgb(100,100,100)"/>
<path d="M1215.2,338.1 L1215.0,338.1 L1214.9,338.1 L1214.7,338.1 L1214.6,338.1 L1214.5,338.2 L1214.4,338.2 L1214.2,338.3 L1214.1,338.3 L1214.0,338.4 L1213.9,338.5 L1213.8,338.6 L1213.7,338.7 L1213.7,338.9 L1213.6,339.0 L1213.6,339.1 L1213.6,339.3 L1213.5,339.4 L1210.1,401.2 L1210.1,401.4 L1210.1,401.5 L1210.1,401.6 L1210.2,401.7 L1210.2,401.9 L1210.3,402.0 L1210.4,402.1 L1210.4,402.2 L1210.5,402.3 L1210.6,402.4 L1210.7,402.5 L1210.9,402.5 L1211.0,402.6 L1211.1,402.6 L1211.2,402.7 L1211.4,402.7 L1211.5,402.7 L1288.5,402.7 L1288.6,402.7 L1288.8,402.7 L1288.9,402.6 L1289.0,402.6 L1289.2,402.5 L1289.3,402.5 L1289.4,402.4 L1289.5,402.3 L1289.6,402.2 L1289.7,402.1 L1289.7,402.0 L1289.8,401.8 L1289.8,401.7 L1289.9,401.6 L1289.9,401.4 L1289.9,401.3 L1289.9,351.2 L1289.9,351.1 L1289.9,351.0 L1289.8,350.8 L1289.8,350.7 L1289.7,350.6 L1289.7,350.4 L1289.6,350.3 L1289.5,350.2 L1289.4,350.1 L1289.2,350.1 L1289.1,350.0 L1289.0,349.9 L1288.9,349.9 L1288.7,349.9 L1215.2,338.1 Z" fill="url(#cg2)"/>
<path d="M1289.9,14.5 L1289.9,14.4 L1289.9,14.2 L1289.8,14.1 L1289.8,14.0 L1289.7,13.8 L1289.7,13.7 L1289.6,13.6 L1289.5,13.5 L1289.4,13.4 L1289.3,13.3 L1289.2,13.3 L1289.0,13.2 L1288.9,13.2 L1288.8,13.1 L1288.6,13.1 L1288.5,13.1 L1208.6,13.1 L1208.5,13.1 L1208.3,13.1 L1208.2,13.2 L1208.1,13.2 L1207.9,13.3 L1207.8,13.3 L1207.7,13.4 L1207.6,13.5 L1207.5,13.6 L1207.4,13.7 L1207.4,13.8 L1207.3,14.0 L1207.3,14.1 L1207.2,14.2 L1207.2,14.4 L1207.2,14.5 L1207.2,30.0 L1207.2,30.1 L1207.2,30.2 L1207.3,30.4 L1207.3,30.5 L1207.4,30.6 L1207.4,30.7 L1207.5,30.8 L1251.5,85.3 L1251.6,85.4 L1251.7,85.5 L1251.8,85.6 L1252.0,85.6 L1252.1,85.7 L1252.2,85.7 L1252.3,85.8 L1252.5,85.8 L1252.6,85.8 L1288.5,85.8 L1288.6,85.8 L1288.8,85.8 L1288.9,85.7 L1289.0,85.7 L1289.2,85.6 L1289.3,85.6 L1289.4,85.5 L1289.5,85.4 L1289.6,85.3 L1289.7,85.2 L1289.7,85.1 L1289.8,84.9 L1289.8,84.8 L1289.9,84.7 L1289.9,84.5 L1289.9,84.4 L1289.9,14.5 Z" fill="rgb(105,105,105)"/>
<path d="M1289.9,14.5 L1289.9,14.4 L1289.9,14.2 L1289.8,14.1 L1289.8,14.0 L1289.7,13.8 L1289.7,13.7 L1289.6,13.6 L1289.5,13.5 L1289.4,13.4 L1289.3,13.3 L1289.2,13.3 L1289.0,13.2 L1288.9,13.2 L1288.8,13.1 L1288.6,13.1 L1288.5,13.1 L1208.6,13.1 L1208.5,13.1 L1208.3,13.1 L1208.2,13.2 L1208.1,13.2 L1207.9,13.3 L1207.8,13.3 L1207.7,13.4 L1207.6,13.5 L1207.5,13.6 L1207.4,13.7 L1207.4,13.8 L1207.3,14.0 L1207.3,14.1 L1207.2,14.2 L1207.2,14.4 L1207.2,14.5 L1207.2,30.0 L1207.2,30.1 L1207.2,30.2 L1207.3,30.4 L1207.3,30.5 L1207.4,30.6 L1207.4,30.7 L1207.5,30.8 L1251.5,85.3 L1251.6,85.4 L1251.7,85.5 L1251.8,85.6 L1252.0,85.6 L1252.1,85.7 L1252.2,85.7 L1252.3,85.8 L1252.5,85.8 L1252.6,85.8 L1288.5,85.8 L1288.6,85.8 L1288.8,85.8 L1288.9,85.7 L1289.0,85.7 L1289.2,85.6 L1289.3,85.6 L1289.4,85.5 L1289.5,85.4 L1289.6,85.3 L1289.7,85.2 L1289.7,85.1 L1289.8,84.9 L1289.8,84.8 L1289.9,84.7 L1289.9,84.5 L1289.9,84.4 L1289.9,14.5 Z" fill="url(#cg2)"/>
<path d="M1099.4,13.1 L1099.3,13.1 L1099.1,13.1 L1099.0,13.2 L1098.9,13.2 L1098.7,13.3 L1098.6,13.3 L1098.5,13.4 L1098.4,13.5 L1098.3,13.6 L1098.2,13.7 L1098.2,13.9 L1098.1,14.0 L1098.1,14.1 L1098.0,14.2 L1098.0,14.4 L1098.0,14.5 L1098.0,14.7 L1098.0,14.8 L1098.1,14.9 L1098.1,15.1 L1109.0,40.2 L1109.1,40.3 L1109.1,40.4 L1109.2,40.5 L1109.3,40.6 L1109.4,40.7 L1109.5,40.8 L1132.1,56.6 L1132.2,56.6 L1132.3,56.7 L1132.5,56.8 L1132.6,56.8 L1132.7,56.8 L1132.9,56.8 L1133.0,56.8 L1133.1,56.8 L1133.3,56.8 L1133.4,56.7 L1133.5,56.7 L1133.7,56.6 L1133.8,56.5 L1133.9,56.4 L1134.0,56.3 L1134.1,56.2 L1161.3,15.3 L1161.4,15.2 L1161.5,15.0 L1161.5,14.9 L1161.5,14.8 L1161.6,14.6 L1161.6,14.5 L1161.6,14.4 L1161.5,14.2 L1161.5,14.1 L1161.5,14.0 L1161.4,13.8 L1161.3,13.7 L1161.3,13.6 L1161.2,13.5 L1161.1,13.4 L1161.0,13.3 L1160.8,13.3 L1160.7,13.2 L1160.6,13.2 L1160.4,13.1 L1160.3,13.1 L1160.2,13.1 L1099.4,13.1 Z" fill="rgb(101,101,101)"/>
<path d="M1099.4,13.1 L1099.3,13.1 L1099.1,13.1 L1099.0,13.2 L1098.9,13.2 L1098.7,13.3 L1098.6,13.3 L1098.5,13.4 L1098.4,13.5 L1098.3,13.6 L1098.2,13.7 L1098.2,13.9 L1098.1,14.0 L1098.1,14.1 L1098.0,14.2 L1098.0,14.4 L1098.0,14.5 L1098.0,14.7 L1098.0,14.8 L1098.1,14.9 L1098.1,15.1 L1109.0,40.2 L1109.1,40.3 L1109.1,40.4 L1109.2,40.5 L1109.3,40.6 L1109.4,40.7 L1109.5,40.8 L1132.1,56.6 L1132.2,56.6 L1132.3,56.7 L1132.5,56.8 L1132.6,56.8 L1132.7,56.8 L1132.9,56.8 L1133.0,56.8 L1133.1,56.8 L1133.3,56.8 L1133.4,56.7 L1133.5,56.7 L1133.7,56.6 L1133.8,56.5 L1133.9,56.4 L1134.0,56.3 L1134.1,56.2 L1161.3,15.3 L1161.4,15.2 L1161.5,15.0 L1161.5,14.9 L1161.5,14.8 L1161.6,14.6 L1161.6,14.5 L1161.6,14.4 L1161.5,14.2 L1161.5,14.1 L1161.5,14.0 L1161.4,13.8 L1161.3,13.7 L1161.3,13.6 L1161.2,13.5 L1161.1,13.4 L1161.0,13.3 L1160.8,13.3 L1160.7,13.2 L1160.6,13.2 L1160.4,13.1 L1160.3,13.1 L1160.2,13.1 L1099.4,13.1 Z" fill="url(#cg2)"/>
<circle cx="965.0" cy="53.7" r="6.7" fill="rgb(70,70,70)" opacity="0.25"/>
<circle cx="961.5" cy="56.1" r="9.0" fill="rgb(150,150,150)" opacity="0.17"/>
<circle cx="1016.7" cy="57.6" r="6.2" fill="rgb(150,150,150)" opacity="0.25"/>
<circle cx="1004.4" cy="64.8" r="10.8" fill="rgb(150,150,150)" opacity="0.25"/>
<circle cx="1069.7" cy="53.7" r="6.6" fill="rgb(70,70,70)" opacity="0.25"/>
<circle cx="1088.2" cy="57.7" r="9.7" fill="rgb(70,70,70)" opacity="0.25"/>
<circle cx="986.7" cy="90.5" r="7.1" fill="rgb(150,150,150)" opacity="0.25"/>
<circle cx="985.9" cy="103.0" r="10.6" fill="rgb(150,150,150)" opacity="0.25"/>
<circle cx="1034.4" cy="105.7" r="7.0" fill="rgb(70,70,70)" opacity="0.25"/>
<circle cx="1052.4" cy="84.5" r="7.9" fill="rgb(150,150,150)" opacity="0.25"/>
<circle cx="1089.8" cy="78.2" r="9.7" fill="rgb(70,70,70)" opacity="0.25"/>
<circle cx="1106.3" cy="73.1" r="9.8" fill="rgb(70,70,70)" opacity="0.17"/>
<circle cx="964.9" cy="120.7" r="6.0" fill="rgb(70,70,70)" opacity="0.25"/>
<circle cx="949.7" cy="140.7" r="8.5" fill="rgb(150,150,150)" opacity="0.25"/>
<circle cx="1007.1" cy="115.9" r="6.3" fill="rgb(70,70,70)" opacity="0.17"/>
<circle cx="1009.9" cy="112.8" r="8.9" fill="rgb(70,70,70)" opacity="0.17"/>
<circle cx="1095.0" cy="136.5" r="6.2" fill="rgb(150,150,150)" opacity="0.17"/>
<circle cx="1081.9" cy="132.6" r="6.7" fill="rgb(150,150,150)" opacity="0.17"/>
<circle cx="1042.6" cy="158.8" r="6.2" fill="rgb(150,150,150)" opacity="0.25"/>
<circle cx="1048.6" cy="150.7" r="9.1" fill="rgb(70,70,70)" opacity="0.25"/>
<circle cx="973.1" cy="177.7" r="8.6" fill="rgb(70,70,70)" opacity="0.25"/>
<circle cx="977.0" cy="157.1" r="10.4" fill="rgb(150,150,150)" opacity="0.17"/>
<circle cx="1004.6" cy="177.8" r="10.9" fill="rgb(70,70,70)" opacity="0.25"/>
<circle cx="1002.6" cy="182.4" r="6.0" fill="rgb(70,70,70)" opacity="0.25"/>
<circle cx="1064.4" cy="181.5" r="7.6" fill="rgb(70,70,70)" opacity="0.25"/>
<circle cx="1067.2" cy="177.4" r="8.6" fill="rgb(70,70,70)" opacity="0.25"/>
<circle cx="1101.6" cy="83.4" r="10.0" fill="rgb(150,150,150)" opacity="0.25"/>
<circle cx="1108.6" cy="83.3" r="8.8" fill="rgb(70,70,70)" opacity="0.25"/>
<circle cx="1205.2" cy="71.2" r="10.8" fill="rgb(150,150,150)" opacity="0.25"/>
<circle cx="1208.4" cy="103.1" r="8.8" fill="rgb(70,70,70)" opacity="0.17"/>
<circle cx="1161.0" cy="39.1" r="10.2" fill="rgb(150,150,150)" opacity="0.17"/>
<circle cx="1138.1" cy="52.9" r="10.0" fill="rgb(150,150,150)" opacity="0.17"/>
<circle cx="1264.8" cy="148.5" r="9.0" fill="rgb(70,70,70)" opacity="0.25"/>
<circle cx="1245.1" cy="129.2" r="9.9" fill="rgb(150,150,150)" opacity="0.17"/>
<circle cx="1180.0" cy="153.1" r="7.8" fill="rgb(70,70,70)" opacity="0.17"/>
<circle cx="1175.3" cy="135.2" r="10.8" fill="rgb(150,150,150)" opacity="0.17"/>
<circle cx="1227.9" cy="156.7" r="8.3" fill="rgb(150,150,150)" opacity="0.25"/>
<circle cx="1224.6" cy="175.9" r="9.3" fill="rgb(150,150,150)" opacity="0.17"/>
<circle cx="1130.5" cy="155.6" r="8.5" fill="rgb(70,70,70)" opacity="0.25"/>
<circle cx="1134.2" cy="138.8" r="6.6" fill="rgb(70,70,70)" opacity="0.25"/>
<circle cx="1161.5" cy="195.4" r="10.3" fill="rgb(70,70,70)" opacity="0.17"/>
<circle cx="1162.0" cy="188.0" r="8.8" fill="rgb(150,150,150)" opacity="0.25"/>
<circle cx="1110.0" cy="190.2" r="9.0" fill="rgb(150,150,150)" opacity="0.17"/>
<circle cx="1120.9" cy="199.6" r="6.1" fill="rgb(150,150,150)" opacity="0.25"/>
<circle cx="1260.7" cy="180.6" r="8.7" fill="rgb(70,70,70)" opacity="0.25"/>
<circle cx="1266.0" cy="181.8" r="10.8" fill="rgb(70,70,70)" opacity="0.25"/>
<circle cx="974.2" cy="234.2" r="6.5" fill="rgb(150,150,150)" opacity="0.25"/>
<circle cx="965.5" cy="227.7" r="9.2" fill="rgb(70,70,70)" opacity="0.25"/>
<circle cx="1020.0" cy="207.7" r="7.2" fill="rgb(150,150,150)" opacity="0.25"/>
<circle cx="1007.5" cy="226.8" r="9.6" fill="rgb(150,150,150)" opacity="0.25"/>
<circle cx="1076.3" cy="219.1" r="9.0" fill="rgb(70,70,70)" opacity="0.25"/>
<circle cx="1070.3" cy="230.2" r="6.3" fill="rgb(70,70,70)" opacity="0.17"/>
<circle cx="964.2" cy="291.6" r="6.4" fill="rgb(70,70,70)" opacity="0.25"/>
<circle cx="975.8" cy="282.0" r="8.7" fill="rgb(70,70,70)" opacity="0.25"/>
<circle cx="1050.7" cy="274.7" r="6.4" fill="rgb(150,150,150)" opacity="0.17"/>
<circle cx="1024.3" cy="306.3" r="9.0" fill="rgb(150,150,150)" opacity="0.25"/>
<circle cx="1105.7" cy="308.6" r="6.5" fill="rgb(150,150,150)" opacity="0.17"/>
<circle cx="1098.8" cy="296.4" r="6.6" fill="rgb(70,70,70)" opacity="0.17"/>
<circle cx="949.4" cy="322.8" r="6.4" fill="rgb(70,70,70)" opacity="0.25"/>
<circle cx="955.2" cy="346.2" r="8.3" fill="rgb(70,70,70)" opacity="0.17"/>
<circle cx="1033.3" cy="348.0" r="7.2" fill="rgb(150,150,150)" opacity="0.17"/>
<circle cx="1047.5" cy="349.5" r="6.1" fill="rgb(150,150,150)" opacity="0.17"/>
<circle cx="1103.4" cy="336.7" r="6.5" fill="rgb(150,150,150)" opacity="0.25"/>
<circle cx="1078.6" cy="343.5" r="10.3" fill="rgb(70,70,70)" opacity="0.17"/>
<circle cx="989.2" cy="376.9" r="6.7" fill="rgb(70,70,70)" opacity="0.25"/>
<circle cx="994.0" cy="381.6" r="9.9" fill="rgb(150,150,150)" opacity="0.25"/>
<circle cx="1200.8" cy="263.5" r="10.6" fill="rgb(70,70,70)" opacity="0.25"/>
<circle cx="1171.9" cy="251.3" r="8.1" fill="rgb(150,150,150)" opacity="0.17"/>
<circle cx="1244.8" cy="236.1" r="10.2" fill="rgb(150,150,150)" opacity="0.25"/>
<circle cx="1243.0" cy="227.5" r="7.5" fill="rgb(150,150,150)" opacity="0.25"/>
<circle cx="1123.9" cy="242.9" r="8.2" fill="rgb(70,70,70)" opacity="0.17"/>
<circle cx="1116.6" cy="228.6" r="6.5" fill="rgb(150,150,150)" opacity="0.17"/>
<circle cx="1172.2" cy="293.8" r="9.6" fill="rgb(70,70,70)" opacity="0.17"/>
<circle cx="1183.4" cy="290.1" r="10.9" fill="rgb(150,150,150)" opacity="0.25"/>
<circle cx="1204.9" cy="299.4" r="7.7" fill="rgb(70,70,70)" opacity="0.25"/>
<circle cx="1217.8" cy="295.3" r="7.1" fill="rgb(150,150,150)" opacity="0.17"/>
<circle cx="1250.8" cy="325.8" r="8.5" fill="rgb(150,150,150)" opacity="0.25"/>
<circle cx="1249.8" cy="307.2" r="8.7" fill="rgb(70,70,70)" opacity="0.25"/>
<circle cx="1114.4" cy="295.6" r="7.6" fill="rgb(70,70,70)" opacity="0.25"/>
<circle cx="1112.6" cy="277.6" r="6.5" fill="rgb(150,150,150)" opacity="0.25"/>
<circle cx="1127.9" cy="334.2" r="10.4" fill="rgb(70,70,70)" opacity="0.17"/>
<circle cx="1124.2" cy="332.9" r="10.7" fill="rgb(70,70,70)" opacity="0.17"/>
<circle cx="1175.1" cy="359.0" r="6.9" fill="rgb(70,70,70)" opacity="0.17"/>
<circle cx="1186.1" cy="349.2" r="9.4" fill="rgb(70,70,70)" opacity="0.25"/>
<circle cx="1229.9" cy="365.5" r="9.8" fill="rgb(150,150,150)" opacity="0.25"/>
<circle cx="1250.1" cy="370.6" r="7.4" fill="rgb(70,70,70)" opacity="0.17"/>
<circle cx="1255.4" cy="44.6" r="11.0" fill="rgb(70,70,70)" opacity="0.17"/>
<circle cx="1250.8" cy="49.5" r="7.7" fill="rgb(70,70,70)" opacity="0.25"/>
<circle cx="1140.9" cy="39.3" r="6.1" fill="rgb(70,70,70)" opacity="0.17"/>
<circle cx="1140.8" cy="39.5" r="9.8" fill="rgb(150,150,150)" opacity="0.25"/>
</g>
<g filter="url(#fc2)">
<circle cx="971.5" cy="78.3" r="4.2" fill="rgb(134,134,134)"/>
<circle cx="1071.3" cy="71.3" r="5.1" fill="rgb(134,134,134)"/>
<circle cx="1102" cy="80" r="5.1" fill="rgb(134,134,134)"/>
<circle cx="967.1" cy="130" r="5.1" fill="rgb(134,134,134)"/>
<circle cx="994" cy="34.5" r="3.4" fill="rgb(134,134,134)"/>
<circle cx="1188.8" cy="99.3" r="4.2" fill="rgb(134,134,134)"/>
<circle cx="1209" cy="109.8" r="4.2" fill="rgb(134,134,134)"/>
<circle cx="1151" cy="126.4" r="4.2" fill="rgb(134,134,134)"/>
<circle cx="1158" cy="137.8" r="3.8" fill="rgb(134,134,134)"/>
<circle cx="1259.7" cy="131.7" r="3.8" fill="rgb(134,134,134)"/>
<circle cx="1192.3" cy="185" r="4.2" fill="rgb(134,134,134)"/>
<circle cx="1104.8" cy="78.3" r="3.4" fill="rgb(134,134,134)"/>
<circle cx="1184.9" cy="233.5" r="5.5" fill="rgb(134,134,134)"/>
<circle cx="1240" cy="273.5" r="4.7" fill="rgb(134,134,134)"/>
<circle cx="1146.6" cy="321.6" r="3.8" fill="rgb(134,134,134)"/>
<circle cx="1215.1" cy="340.3" r="5.1" fill="rgb(134,134,134)"/>
<circle cx="989" cy="247" r="4.2" fill="rgb(134,134,134)"/>
<circle cx="992" cy="312" r="3.4" fill="rgb(134,134,134)"/>
<path d="M1120.5,88.8 C1122,80 1130,75 1141.5,73 C1150,71 1162,71 1167.8,76.5 C1173,81 1175,90 1174.8,100 C1174,108 1170,112 1162,115.5 C1154,118.5 1145,120.5 1138,120.3 C1130,119 1122,112 1119.6,103 C1119,97 1119.5,92 1120.5,88.8 Z" fill="rgb(172,172,172)"/>
<ellipse cx="1146" cy="88" rx="20" ry="13" fill="rgb(190,190,190)"/>
<ellipse cx="1018.6" cy="371.5" rx="12" ry="13" fill="rgb(200,200,200)"/>
</g>
<rect x="939.8" y="30.9" width="332.3" height="354" filter="url(#noise2)" opacity="0.12"/>
</g>
<text transform="translate(1222.68,67.9) scale(1.1162,1)" class="b" font-size="28.8" fill="#fff" >C)</text>
<text transform="translate(962.51,347.5) scale(1.0529,1)" class="b" font-size="29.8" fill="#fff" >200 nm</text>
<rect x="960.6" y="365.1" width="61.9" height="5.1" fill="#fff"/>
<polyline points="85.9,809.6 93.6,810.3 126.3,811.6 159.4,809.9 191.9,731.9 223.9,741.6 255.6,759.8 287.8,756.9 319.9,765.1 351.5,748.3 383.7,743.4 415.3,741.3 447.2,731.8 478.4,721.9 495.8,714.5" fill="none" stroke="#0E6E14" stroke-width="2.8" stroke-dasharray="3,4"/>
<polyline points="88.5,764.0 146.2,773.8 178.3,773.3 210.5,771.8 242.5,716.0 274.3,607.4 307.1,588.5 338.6,586.6 371.5,577.6 403.6,566.2 435.6,527.2 467.8,496.7 495.8,485.0" fill="none" stroke="#0B0B8C" stroke-width="2.8" stroke-dasharray="3,4"/>
<path d="M84.3,825.6 C87.9,825.2 99.9,824.4 106.1,823.5 C112.3,822.6 118.0,821.4 121.6,820.4 C125.2,819.4 126.0,819.2 127.8,817.3 C129.6,815.4 130.9,812.8 132.5,808.8 C134.1,804.8 135.6,798.4 137.2,793.2 C138.8,788.0 140.2,781.8 141.8,777.7 C143.4,773.6 144.2,771.5 146.5,768.4 C148.8,765.3 153.2,761.6 155.8,759.0 C158.4,756.4 160.2,753.6 162.0,752.8 C163.8,752.0 165.1,753.9 166.7,754.4 C168.2,754.9 169.5,756.3 171.3,755.9 C173.1,755.5 175.0,753.9 177.6,752.1 C180.2,750.3 184.1,747.0 186.9,745.1 C189.8,743.2 192.4,741.3 194.7,740.7 C197.0,740.1 199.2,740.9 200.9,741.6 C202.6,742.3 203.0,743.2 204.8,745.1 C206.6,747.0 209.4,750.1 211.8,752.8 C214.2,755.5 216.4,759.3 219.5,761.4 C222.6,763.5 227.0,764.5 230.4,765.3 C233.8,766.1 236.3,766.0 239.7,766.0 C243.1,766.0 247.0,766.3 250.6,765.3 C254.2,764.3 257.4,763.2 261.5,759.8 C265.6,756.4 270.2,750.1 275.0,745.1 C279.8,740.1 285.6,735.8 290.0,730.0 C294.4,724.2 298.2,717.3 301.6,710.3 C305.0,703.3 306.6,698.4 310.5,688.0 C314.4,677.6 321.2,659.0 325.3,648.0 C329.4,637.0 333.0,627.9 335.4,622.0 C337.8,616.1 337.8,612.2 339.7,612.7 C341.6,613.2 344.6,621.8 346.8,624.9 C349.0,628.0 349.5,629.8 353.1,631.2 C356.7,632.6 362.8,633.6 368.3,633.2 C373.8,632.8 379.7,630.9 386.0,628.7 C392.3,626.5 399.4,623.2 406.2,619.8 C412.9,616.4 419.8,612.4 426.5,608.4 C433.2,604.4 440.0,600.0 446.7,595.8 C453.4,591.6 461.0,587.1 466.9,583.1 C472.8,579.1 477.3,575.4 482.1,571.7 C486.9,568.0 493.3,562.9 495.5,561.1" fill="none" stroke="#1414A6" stroke-width="3.6" stroke-linejoin="round"/>
<path d="M84.3,825.6 C87.9,825.4 99.9,824.9 106.1,824.3 C112.3,823.7 117.2,822.8 121.6,822.0 C126.0,821.2 129.4,821.4 132.5,819.7 C135.6,818.0 137.5,815.8 140.3,811.9 C143.2,808.0 146.5,802.0 149.6,796.3 C152.7,790.6 156.1,783.4 158.9,777.7 C161.8,772.0 164.5,766.6 166.7,762.2 C168.9,757.8 170.3,753.6 172.1,751.3 C173.9,749.0 175.9,748.7 177.6,748.2 C179.3,747.7 180.4,747.6 182.2,748.2 C184.0,748.9 186.3,752.2 188.4,752.1 C190.5,752.0 192.9,749.1 194.7,747.4 C196.5,745.7 197.8,744.3 199.3,742.0 C200.9,739.7 202.7,734.8 204.0,733.4 C205.3,732.0 206.1,731.4 207.1,733.4 C208.1,735.4 208.9,740.6 210.2,745.1 C211.5,749.6 212.8,756.2 214.9,760.6 C217.0,765.0 219.8,768.5 222.6,771.5 C225.4,774.5 227.6,775.5 232.0,778.5 C236.4,781.5 244.1,788.9 249.0,789.4 C253.9,789.9 257.2,785.4 261.5,781.6 C265.8,777.8 270.2,772.8 275.0,766.8 C279.8,760.8 285.6,752.4 290.0,745.3 C294.4,738.2 297.7,732.5 301.6,724.3 C305.5,716.1 309.2,707.8 313.2,696.3 C317.1,684.8 321.3,666.4 325.3,655.2 C329.3,644.1 333.6,633.8 337.4,629.4 C341.2,625.0 344.5,630.1 348.0,628.9 C351.5,627.7 353.6,625.9 358.2,622.3 C362.8,618.7 368.7,613.9 375.9,607.2 C383.1,600.5 392.8,590.8 401.2,581.9 C409.6,573.0 418.1,563.3 426.5,554.0 C434.9,544.7 443.3,535.7 451.7,526.2 C460.1,516.7 469.7,505.3 477.0,497.1 C484.3,488.9 492.4,480.3 495.5,476.9" fill="none" stroke="#1B6B4E" stroke-width="3.8" stroke-linejoin="round"/>
<circle cx="85.9" cy="809.6" r="6.1" fill="#0E6E14"/>
<circle cx="93.6" cy="810.3" r="6.1" fill="#0E6E14"/>
<circle cx="126.3" cy="811.6" r="6.1" fill="#0E6E14"/>
<circle cx="159.4" cy="809.9" r="6.1" fill="#0E6E14"/>
<circle cx="191.9" cy="731.9" r="6.1" fill="#0E6E14"/>
<circle cx="223.9" cy="741.6" r="6.1" fill="#0E6E14"/>
<circle cx="255.6" cy="759.8" r="6.1" fill="#0E6E14"/>
<circle cx="287.8" cy="756.9" r="6.1" fill="#0E6E14"/>
<circle cx="319.9" cy="765.1" r="6.1" fill="#0E6E14"/>
<circle cx="351.5" cy="748.3" r="6.1" fill="#0E6E14"/>
<circle cx="383.7" cy="743.4" r="6.1" fill="#0E6E14"/>
<circle cx="415.3" cy="741.3" r="6.1" fill="#0E6E14"/>
<circle cx="447.2" cy="731.8" r="6.1" fill="#0E6E14"/>
<circle cx="478.4" cy="721.9" r="6.1" fill="#0E6E14"/>
<circle cx="88.5" cy="764" r="6.1" fill="#0B0B8C"/>
<circle cx="146.2" cy="773.8" r="6.1" fill="#0B0B8C"/>
<circle cx="178.3" cy="773.3" r="6.1" fill="#0B0B8C"/>
<circle cx="210.5" cy="771.8" r="6.1" fill="#0B0B8C"/>
<circle cx="242.5" cy="716" r="6.1" fill="#0B0B8C"/>
<circle cx="274.3" cy="607.4" r="6.1" fill="#0B0B8C"/>
<circle cx="307.1" cy="588.5" r="6.1" fill="#0B0B8C"/>
<circle cx="338.6" cy="586.6" r="6.1" fill="#0B0B8C"/>
<circle cx="371.5" cy="577.6" r="6.1" fill="#0B0B8C"/>
<circle cx="403.6" cy="566.2" r="6.1" fill="#0B0B8C"/>
<circle cx="435.6" cy="527.2" r="6.1" fill="#0B0B8C"/>
<circle cx="467.8" cy="496.7" r="6.1" fill="#0B0B8C"/>
<path d="M70.6,454.6 V826.6 H495.6 V454.6" fill="none" stroke="#000" stroke-width="2"/>
<line x1="63.599999999999994" y1="826.6" x2="70.6" y2="826.6" stroke="#000" stroke-width="1.8"/>
<text x="56.9" y="831.9" class="b" font-size="19" text-anchor="end">0</text>
<line x1="67.1" y1="809.7" x2="70.6" y2="809.7" stroke="#000" stroke-width="1.8"/>
<line x1="63.599999999999994" y1="792.8" x2="70.6" y2="792.8" stroke="#000" stroke-width="1.8"/>
<text x="56.9" y="798.1" class="b" font-size="19" text-anchor="end">1</text>
<line x1="67.1" y1="775.9" x2="70.6" y2="775.9" stroke="#000" stroke-width="1.8"/>
<line x1="63.599999999999994" y1="759.0" x2="70.6" y2="759.0" stroke="#000" stroke-width="1.8"/>
<text x="56.9" y="764.3" class="b" font-size="19" text-anchor="end">2</text>
<line x1="67.1" y1="742.1" x2="70.6" y2="742.1" stroke="#000" stroke-width="1.8"/>
<line x1="63.599999999999994" y1="725.1" x2="70.6" y2="725.1" stroke="#000" stroke-width="1.8"/>
<text x="56.9" y="730.4" class="b" font-size="19" text-anchor="end">3</text>
<line x1="67.1" y1="708.2" x2="70.6" y2="708.2" stroke="#000" stroke-width="1.8"/>
<line x1="63.599999999999994" y1="691.3" x2="70.6" y2="691.3" stroke="#000" stroke-width="1.8"/>
<text x="56.9" y="696.6" class="b" font-size="19" text-anchor="end">4</text>
<line x1="67.1" y1="674.4" x2="70.6" y2="674.4" stroke="#000" stroke-width="1.8"/>
<line x1="63.599999999999994" y1="657.5" x2="70.6" y2="657.5" stroke="#000" stroke-width="1.8"/>
<text x="56.9" y="662.8" class="b" font-size="19" text-anchor="end">5</text>
<line x1="67.1" y1="640.6" x2="70.6" y2="640.6" stroke="#000" stroke-width="1.8"/>
<line x1="63.599999999999994" y1="623.7" x2="70.6" y2="623.7" stroke="#000" stroke-width="1.8"/>
<text x="56.9" y="629.0" class="b" font-size="19" text-anchor="end">6</text>
<line x1="67.1" y1="606.8" x2="70.6" y2="606.8" stroke="#000" stroke-width="1.8"/>
<line x1="63.599999999999994" y1="589.9" x2="70.6" y2="589.9" stroke="#000" stroke-width="1.8"/>
<text x="56.9" y="595.2" class="b" font-size="19" text-anchor="end">7</text>
<line x1="67.1" y1="573.0" x2="70.6" y2="573.0" stroke="#000" stroke-width="1.8"/>
<line x1="63.599999999999994" y1="556.0" x2="70.6" y2="556.0" stroke="#000" stroke-width="1.8"/>
<text x="56.9" y="561.3" class="b" font-size="19" text-anchor="end">8</text>
<line x1="67.1" y1="539.1" x2="70.6" y2="539.1" stroke="#000" stroke-width="1.8"/>
<line x1="63.599999999999994" y1="522.2" x2="70.6" y2="522.2" stroke="#000" stroke-width="1.8"/>
<text x="56.9" y="527.5" class="b" font-size="19" text-anchor="end">9</text>
<line x1="67.1" y1="505.3" x2="70.6" y2="505.3" stroke="#000" stroke-width="1.8"/>
<line x1="63.599999999999994" y1="488.4" x2="70.6" y2="488.4" stroke="#000" stroke-width="1.8"/>
<text x="56.9" y="493.7" class="b" font-size="19" text-anchor="end">10</text>
<line x1="67.1" y1="471.5" x2="70.6" y2="471.5" stroke="#000" stroke-width="1.8"/>
<line x1="63.599999999999994" y1="454.6" x2="70.6" y2="454.6" stroke="#000" stroke-width="1.8"/>
<text x="56.9" y="459.9" class="b" font-size="19" text-anchor="end">11</text>
<line x1="495.6" y1="826.6" x2="502.6" y2="826.6" stroke="#000" stroke-width="1.8"/>
<text x="508.6" y="831.7" class="b" font-size="17">0</text>
<line x1="495.6" y1="813.3" x2="499.1" y2="813.3" stroke="#000" stroke-width="1.8"/>
<line x1="495.6" y1="800.0" x2="502.6" y2="800.0" stroke="#000" stroke-width="1.8"/>
<text x="508.6" y="805.1" class="b" font-size="17">5</text>
<line x1="495.6" y1="786.7" x2="499.1" y2="786.7" stroke="#000" stroke-width="1.8"/>
<line x1="495.6" y1="773.5" x2="502.6" y2="773.5" stroke="#000" stroke-width="1.8"/>
<text x="508.6" y="778.6" class="b" font-size="17">10</text>
<line x1="495.6" y1="760.2" x2="499.1" y2="760.2" stroke="#000" stroke-width="1.8"/>
<line x1="495.6" y1="746.9" x2="502.6" y2="746.9" stroke="#000" stroke-width="1.8"/>
<text x="508.6" y="752.0" class="b" font-size="17">15</text>
<line x1="495.6" y1="733.6" x2="499.1" y2="733.6" stroke="#000" stroke-width="1.8"/>
<line x1="495.6" y1="720.3" x2="502.6" y2="720.3" stroke="#000" stroke-width="1.8"/>
<text x="508.6" y="725.4" class="b" font-size="17">20</text>
<line x1="495.6" y1="707.0" x2="499.1" y2="707.0" stroke="#000" stroke-width="1.8"/>
<line x1="495.6" y1="693.8" x2="502.6" y2="693.8" stroke="#000" stroke-width="1.8"/>
<text x="508.6" y="698.9" class="b" font-size="17">25</text>
<line x1="495.6" y1="680.5" x2="499.1" y2="680.5" stroke="#000" stroke-width="1.8"/>
<line x1="495.6" y1="667.2" x2="502.6" y2="667.2" stroke="#000" stroke-width="1.8"/>
<text x="508.6" y="672.3" class="b" font-size="17">30</text>
<line x1="495.6" y1="653.9" x2="499.1" y2="653.9" stroke="#000" stroke-width="1.8"/>
<line x1="495.6" y1="640.6" x2="502.6" y2="640.6" stroke="#000" stroke-width="1.8"/>
<text x="508.6" y="645.7" class="b" font-size="17">35</text>
<line x1="495.6" y1="627.3" x2="499.1" y2="627.3" stroke="#000" stroke-width="1.8"/>
<line x1="495.6" y1="614.0" x2="502.6" y2="614.0" stroke="#000" stroke-width="1.8"/>
<text x="508.6" y="619.1" class="b" font-size="17">40</text>
<line x1="495.6" y1="600.8" x2="499.1" y2="600.8" stroke="#000" stroke-width="1.8"/>
<line x1="495.6" y1="587.5" x2="502.6" y2="587.5" stroke="#000" stroke-width="1.8"/>
<text x="508.6" y="592.6" class="b" font-size="17">45</text>
<line x1="495.6" y1="574.2" x2="499.1" y2="574.2" stroke="#000" stroke-width="1.8"/>
<line x1="495.6" y1="560.9" x2="502.6" y2="560.9" stroke="#000" stroke-width="1.8"/>
<text x="508.6" y="566.0" class="b" font-size="17">50</text>
<line x1="495.6" y1="547.6" x2="499.1" y2="547.6" stroke="#000" stroke-width="1.8"/>
<line x1="495.6" y1="534.3" x2="502.6" y2="534.3" stroke="#000" stroke-width="1.8"/>
<text x="508.6" y="539.4" class="b" font-size="17">55</text>
<line x1="495.6" y1="521.0" x2="499.1" y2="521.0" stroke="#000" stroke-width="1.8"/>
<line x1="495.6" y1="507.8" x2="502.6" y2="507.8" stroke="#000" stroke-width="1.8"/>
<text x="508.6" y="512.9" class="b" font-size="17">60</text>
<line x1="495.6" y1="494.5" x2="499.1" y2="494.5" stroke="#000" stroke-width="1.8"/>
<line x1="495.6" y1="481.2" x2="502.6" y2="481.2" stroke="#000" stroke-width="1.8"/>
<text x="508.6" y="486.3" class="b" font-size="17">65</text>
<line x1="495.6" y1="467.9" x2="499.1" y2="467.9" stroke="#000" stroke-width="1.8"/>
<line x1="495.6" y1="454.6" x2="502.6" y2="454.6" stroke="#000" stroke-width="1.8"/>
<text x="508.6" y="459.7" class="b" font-size="17">70</text>
<line x1="81.1" y1="826.6" x2="81.1" y2="833.6" stroke="#000" stroke-width="1.8"/>
<text x="81.4" y="853.8" class="b" font-size="19" text-anchor="middle">−1.5</text>
<line x1="107.1" y1="826.6" x2="107.1" y2="830.1" stroke="#000" stroke-width="1.8"/>
<line x1="133.0" y1="826.6" x2="133.0" y2="833.6" stroke="#000" stroke-width="1.8"/>
<text x="133.3" y="853.8" class="b" font-size="19" text-anchor="middle">−1.0</text>
<line x1="159.0" y1="826.6" x2="159.0" y2="830.1" stroke="#000" stroke-width="1.8"/>
<line x1="184.9" y1="826.6" x2="184.9" y2="833.6" stroke="#000" stroke-width="1.8"/>
<text x="185.2" y="853.8" class="b" font-size="19" text-anchor="middle">−0.5</text>
<line x1="210.9" y1="826.6" x2="210.9" y2="830.1" stroke="#000" stroke-width="1.8"/>
<line x1="236.8" y1="826.6" x2="236.8" y2="833.6" stroke="#000" stroke-width="1.8"/>
<text x="237.1" y="853.8" class="b" font-size="19" text-anchor="middle">0.0</text>
<line x1="262.8" y1="826.6" x2="262.8" y2="830.1" stroke="#000" stroke-width="1.8"/>
<line x1="288.7" y1="826.6" x2="288.7" y2="833.6" stroke="#000" stroke-width="1.8"/>
<text x="289.0" y="853.8" class="b" font-size="19" text-anchor="middle">0.5</text>
<line x1="314.6" y1="826.6" x2="314.6" y2="830.1" stroke="#000" stroke-width="1.8"/>
<line x1="340.6" y1="826.6" x2="340.6" y2="833.6" stroke="#000" stroke-width="1.8"/>
<text x="340.9" y="853.8" class="b" font-size="19" text-anchor="middle">1.0</text>
<line x1="366.6" y1="826.6" x2="366.6" y2="830.1" stroke="#000" stroke-width="1.8"/>
<line x1="392.5" y1="826.6" x2="392.5" y2="833.6" stroke="#000" stroke-width="1.8"/>
<text x="392.8" y="853.8" class="b" font-size="19" text-anchor="middle">1.5</text>
<line x1="418.5" y1="826.6" x2="418.5" y2="830.1" stroke="#000" stroke-width="1.8"/>
<line x1="444.4" y1="826.6" x2="444.4" y2="833.6" stroke="#000" stroke-width="1.8"/>
<text x="444.7" y="853.8" class="b" font-size="19" text-anchor="middle">2.0</text>
<line x1="470.4" y1="826.6" x2="470.4" y2="830.1" stroke="#000" stroke-width="1.8"/>
<line x1="496.3" y1="826.6" x2="496.3" y2="833.6" stroke="#000" stroke-width="1.8"/>
<text x="496.6" y="853.8" class="b" font-size="19" text-anchor="middle">2.5</text>
<text transform="translate(191.51,876.7) scale(1.0164,1)" class="b" font-size="19" fill="#000" >Cell potential (V)</text>
<text transform="translate(34.3,731.58) rotate(-90) scale(0.9801,1)" class="b" font-size="22">CH<tspan font-size="15" dy="5">4</tspan><tspan dy="-5"> conversion (%)</tspan></text>
<text transform="translate(535.2,577.90) rotate(90) scale(1.0248,1)" class="b" font-size="19" fill="#000">Current (mA)</text>
<text transform="translate(429.18,463) scale(1.0522,1)" class="b" font-size="38.5" fill="#000" >(D)</text>
<rect x="79.5" y="457.8" width="119" height="52.6" fill="#fff" stroke="#555" stroke-width="1.3"/>
<line x1="81" y1="471.2" x2="127" y2="471.2" stroke="#0E6E14" stroke-width="2.6" stroke-dasharray="2,2.7"/>
<circle cx="104.5" cy="471.2" r="6.1" fill="#0E6E14"/>
<line x1="81" y1="496.5" x2="127" y2="496.5" stroke="#0B0B8C" stroke-width="2.6" stroke-dasharray="2,2.7"/>
<circle cx="104.7" cy="496.5" r="6.1" fill="#0B0B8C"/>
<text transform="translate(133.11,477.9) scale(1.0245,1)" class="r" font-size="20" fill="#000" >850 °C</text>
<text transform="translate(132.95,503.4) scale(1.0272,1)" class="r" font-size="20" fill="#000" >700 °C</text>
<line x1="459.5" y1="529.5" x2="482.3" y2="529.5" stroke="#1B6B4E" stroke-width="3.4"/><polygon points="494.3,529.5 478.8,522.9 478.8,536.1" fill="#1B6B4E"/>
<line x1="460.3" y1="593.5" x2="482.3" y2="593.5" stroke="#0B0B8C" stroke-width="3.4"/><polygon points="494.3,593.5 478.8,586.9 478.8,600.1" fill="#0B0B8C"/>
<line x1="237" y1="618" x2="258" y2="618" stroke="#0B0B8C" stroke-width="3.4"/><polygon points="225,618 240.5,611.4 240.5,624.6" fill="#0B0B8C"/>
<line x1="317" y1="746.5" x2="341" y2="746.5" stroke="#0E6E14" stroke-width="3.4"/><polygon points="305,746.5 320.5,739.9 320.5,753.1" fill="#0E6E14"/>
<polyline points="740.7,825.9 786.3,825.9 832.4,825.9 878.0,825.9 923.8,825.9 969.4,825.9 1014.7,825.9 1060.8,825.9 1106.8,822.6" fill="none" stroke="#4A90CC" stroke-width="1.5" stroke-dasharray="1.5,2.6"/>
<circle cx="740.7" cy="825.9" r="3.4" fill="#fff" stroke="#4A90CC" stroke-width="1.1"/>
<circle cx="786.3" cy="825.9" r="3.4" fill="#fff" stroke="#4A90CC" stroke-width="1.1"/>
<circle cx="832.4" cy="825.9" r="3.4" fill="#fff" stroke="#4A90CC" stroke-width="1.1"/>
<circle cx="878.0" cy="825.9" r="3.4" fill="#fff" stroke="#4A90CC" stroke-width="1.1"/>
<circle cx="923.8" cy="825.9" r="3.4" fill="#fff" stroke="#4A90CC" stroke-width="1.1"/>
<circle cx="969.4" cy="825.9" r="3.4" fill="#fff" stroke="#4A90CC" stroke-width="1.1"/>
<circle cx="1014.7" cy="825.9" r="3.4" fill="#fff" stroke="#4A90CC" stroke-width="1.1"/>
<circle cx="1060.8" cy="825.9" r="3.4" fill="#fff" stroke="#4A90CC" stroke-width="1.1"/>
<circle cx="1106.8" cy="822.6" r="3.4" fill="#fff" stroke="#4A90CC" stroke-width="1.1"/>
<polyline points="740.7,814.0 786.3,814.0 832.4,813.2 878.0,814.6 923.8,815.1 969.4,814.5 1014.7,814.2 1060.8,810.4 1106.8,806.1" fill="none" stroke="#2E9A36" stroke-width="1.5" stroke-dasharray="1.5,2.6"/>
<circle cx="740.7" cy="814" r="3.4" fill="#fff" stroke="#2E9A36" stroke-width="1.1"/>
<circle cx="786.3" cy="814" r="3.4" fill="#fff" stroke="#2E9A36" stroke-width="1.1"/>
<circle cx="832.4" cy="813.2" r="3.4" fill="#fff" stroke="#2E9A36" stroke-width="1.1"/>
<circle cx="878.0" cy="814.6" r="3.4" fill="#fff" stroke="#2E9A36" stroke-width="1.1"/>
<circle cx="923.8" cy="815.1" r="3.4" fill="#fff" stroke="#2E9A36" stroke-width="1.1"/>
<circle cx="969.4" cy="814.5" r="3.4" fill="#fff" stroke="#2E9A36" stroke-width="1.1"/>
<circle cx="1014.7" cy="814.2" r="3.4" fill="#fff" stroke="#2E9A36" stroke-width="1.1"/>
<circle cx="1060.8" cy="810.4" r="3.4" fill="#fff" stroke="#2E9A36" stroke-width="1.1"/>
<circle cx="1106.8" cy="806.1" r="3.4" fill="#fff" stroke="#2E9A36" stroke-width="1.1"/>
<polyline points="740.7,809.8 786.3,809.8 832.4,813.2 878.0,814.6 923.8,821.7 969.4,823.1 1014.7,823.0 1060.8,823.0 1106.8,823.0" fill="none" stroke="#E6E65A" stroke-width="1.5" stroke-dasharray="1.5,2.6"/>
<circle cx="740.7" cy="809.8" r="3.4" fill="#fff" stroke="#E6E65A" stroke-width="1.1"/>
<circle cx="786.3" cy="809.8" r="3.4" fill="#fff" stroke="#E6E65A" stroke-width="1.1"/>
<circle cx="832.4" cy="813.2" r="3.4" fill="#fff" stroke="#E6E65A" stroke-width="1.1"/>
<circle cx="878.0" cy="814.6" r="3.4" fill="#fff" stroke="#E6E65A" stroke-width="1.1"/>
<circle cx="923.8" cy="821.7" r="3.4" fill="#fff" stroke="#E6E65A" stroke-width="1.1"/>
<circle cx="969.4" cy="823.1" r="3.4" fill="#fff" stroke="#E6E65A" stroke-width="1.1"/>
<circle cx="1014.7" cy="823" r="3.4" fill="#fff" stroke="#E6E65A" stroke-width="1.1"/>
<circle cx="1060.8" cy="823" r="3.4" fill="#fff" stroke="#E6E65A" stroke-width="1.1"/>
<circle cx="1106.8" cy="823" r="3.4" fill="#fff" stroke="#E6E65A" stroke-width="1.1"/>
<polyline points="740.7,649.7 786.3,656.5 832.4,674.5 878.0,687.7 923.8,770.4 969.4,825.3 1014.7,825.5 1060.8,825.5 1106.8,825.5" fill="none" stroke="#D58040" stroke-width="1.5" stroke-dasharray="1.5,2.6"/>
<circle cx="740.7" cy="649.7" r="3.4" fill="#fff" stroke="#D58040" stroke-width="1.1"/>
<circle cx="786.3" cy="656.5" r="3.4" fill="#fff" stroke="#D58040" stroke-width="1.1"/>
<circle cx="832.4" cy="674.5" r="3.4" fill="#fff" stroke="#D58040" stroke-width="1.1"/>
<circle cx="878.0" cy="687.7" r="3.4" fill="#fff" stroke="#D58040" stroke-width="1.1"/>
<circle cx="923.8" cy="770.4" r="3.4" fill="#fff" stroke="#D58040" stroke-width="1.1"/>
<circle cx="969.4" cy="825.3" r="3.4" fill="#fff" stroke="#D58040" stroke-width="1.1"/>
<circle cx="1014.7" cy="825.5" r="3.4" fill="#fff" stroke="#D58040" stroke-width="1.1"/>
<circle cx="1060.8" cy="825.5" r="3.4" fill="#fff" stroke="#D58040" stroke-width="1.1"/>
<circle cx="1106.8" cy="825.5" r="3.4" fill="#fff" stroke="#D58040" stroke-width="1.1"/>
<polyline points="740.7,646.1 786.3,637.4 832.4,617.0 878.0,601.2 923.8,510.7 969.4,454.6 1014.7,454.0 1060.8,457.6 1106.8,464.9" fill="none" stroke="#8E42BE" stroke-width="1.5" stroke-dasharray="1.5,2.6"/>
<circle cx="740.7" cy="646.1" r="3.4" fill="#fff" stroke="#8E42BE" stroke-width="1.1"/>
<circle cx="786.3" cy="637.4" r="3.4" fill="#fff" stroke="#8E42BE" stroke-width="1.1"/>
<circle cx="832.4" cy="617" r="3.4" fill="#fff" stroke="#8E42BE" stroke-width="1.1"/>
<circle cx="878.0" cy="601.2" r="3.4" fill="#fff" stroke="#8E42BE" stroke-width="1.1"/>
<circle cx="923.8" cy="510.7" r="3.4" fill="#fff" stroke="#8E42BE" stroke-width="1.1"/>
<circle cx="969.4" cy="454.6" r="3.4" fill="#fff" stroke="#8E42BE" stroke-width="1.1"/>
<circle cx="1014.7" cy="454" r="3.4" fill="#fff" stroke="#8E42BE" stroke-width="1.1"/>
<circle cx="1060.8" cy="457.6" r="3.4" fill="#fff" stroke="#8E42BE" stroke-width="1.1"/>
<circle cx="1106.8" cy="464.9" r="3.4" fill="#fff" stroke="#8E42BE" stroke-width="1.1"/>
<polyline points="740.7,794.0 786.3,777.6 832.4,771.8 878.0,753.3 923.8,690.6 969.4,585.3 1014.7,500.9 1060.8,474.5 1106.8,482.6" fill="none" stroke="#9A1010" stroke-width="1.6"/>
<rect x="736.7" y="790" width="8" height="8" fill="#8B0A0A"/>
<rect x="782.3" y="773.6" width="8" height="8" fill="#8B0A0A"/>
<rect x="828.4" y="767.8" width="8" height="8" fill="#8B0A0A"/>
<rect x="874.0" y="749.3" width="8" height="8" fill="#8B0A0A"/>
<rect x="919.8" y="686.6" width="8" height="8" fill="#8B0A0A"/>
<rect x="965.4" y="581.3" width="8" height="8" fill="#8B0A0A"/>
<rect x="1010.7" y="496.9" width="8" height="8" fill="#8B0A0A"/>
<rect x="1056.8" y="470.5" width="8" height="8" fill="#8B0A0A"/>
<rect x="1102.8" y="478.6" width="8" height="8" fill="#8B0A0A"/>
<path d="M740.7,818.2 C748.3,817.1 773.2,813.2 786.4,811.6 C799.6,810.0 810.6,810.0 820.0,808.8 C829.4,807.6 836.3,806.4 842.6,804.3 C848.9,802.2 852.7,800.1 857.7,796.0 C862.7,791.9 867.7,785.8 872.7,779.5 C877.7,773.2 882.5,765.7 887.8,758.4 C893.1,751.1 898.1,744.3 904.4,735.8 C910.7,727.2 918.7,716.4 925.5,707.1 C932.3,697.8 941.8,684.5 945.0,680.0 L1113,447.2" fill="none" stroke="#000" stroke-width="4.2" stroke-linejoin="round"/>
<path d="M690.9,437.0 V829.9 H1137.4" fill="none" stroke="#000" stroke-width="2"/>
<line x1="683.3" y1="817.7" x2="690.9" y2="817.7" stroke="#000" stroke-width="1.8"/>
<text x="677.3" y="822.1" class="r" font-size="16.6" text-anchor="end" fill="#1a1a1a">0</text>
<line x1="686.9" y1="798.7" x2="690.9" y2="798.7" stroke="#000" stroke-width="1.8"/>
<line x1="683.3" y1="779.7" x2="690.9" y2="779.7" stroke="#000" stroke-width="1.8"/>
<text x="677.3" y="784.0" class="r" font-size="16.6" text-anchor="end" fill="#1a1a1a">10</text>
<line x1="686.9" y1="760.6" x2="690.9" y2="760.6" stroke="#000" stroke-width="1.8"/>
<line x1="683.3" y1="741.6" x2="690.9" y2="741.6" stroke="#000" stroke-width="1.8"/>
<text x="677.3" y="746.0" class="r" font-size="16.6" text-anchor="end" fill="#1a1a1a">20</text>
<line x1="686.9" y1="722.6" x2="690.9" y2="722.6" stroke="#000" stroke-width="1.8"/>
<line x1="683.3" y1="703.6" x2="690.9" y2="703.6" stroke="#000" stroke-width="1.8"/>
<text x="677.3" y="707.9" class="r" font-size="16.6" text-anchor="end" fill="#1a1a1a">30</text>
<line x1="686.9" y1="684.5" x2="690.9" y2="684.5" stroke="#000" stroke-width="1.8"/>
<line x1="683.3" y1="665.5" x2="690.9" y2="665.5" stroke="#000" stroke-width="1.8"/>
<text x="677.3" y="669.9" class="r" font-size="16.6" text-anchor="end" fill="#1a1a1a">40</text>
<line x1="686.9" y1="646.5" x2="690.9" y2="646.5" stroke="#000" stroke-width="1.8"/>
<line x1="683.3" y1="627.5" x2="690.9" y2="627.5" stroke="#000" stroke-width="1.8"/>
<text x="677.3" y="631.8" class="r" font-size="16.6" text-anchor="end" fill="#1a1a1a">50</text>
<line x1="686.9" y1="608.4" x2="690.9" y2="608.4" stroke="#000" stroke-width="1.8"/>
<line x1="683.3" y1="589.4" x2="690.9" y2="589.4" stroke="#000" stroke-width="1.8"/>
<text x="677.3" y="593.8" class="r" font-size="16.6" text-anchor="end" fill="#1a1a1a">60</text>
<line x1="686.9" y1="570.4" x2="690.9" y2="570.4" stroke="#000" stroke-width="1.8"/>
<line x1="683.3" y1="551.4" x2="690.9" y2="551.4" stroke="#000" stroke-width="1.8"/>
<text x="677.3" y="555.7" class="r" font-size="16.6" text-anchor="end" fill="#1a1a1a">70</text>
<line x1="686.9" y1="532.3" x2="690.9" y2="532.3" stroke="#000" stroke-width="1.8"/>
<line x1="683.3" y1="513.3" x2="690.9" y2="513.3" stroke="#000" stroke-width="1.8"/>
<text x="677.3" y="517.6" class="r" font-size="16.6" text-anchor="end" fill="#1a1a1a">80</text>
<line x1="686.9" y1="494.3" x2="690.9" y2="494.3" stroke="#000" stroke-width="1.8"/>
<line x1="683.3" y1="475.3" x2="690.9" y2="475.3" stroke="#000" stroke-width="1.8"/>
<text x="677.3" y="479.6" class="r" font-size="16.6" text-anchor="end" fill="#1a1a1a">90</text>
<line x1="686.9" y1="456.2" x2="690.9" y2="456.2" stroke="#000" stroke-width="1.8"/>
<line x1="683.3" y1="437.2" x2="690.9" y2="437.2" stroke="#000" stroke-width="1.8"/>
<text x="677.3" y="441.6" class="r" font-size="16.6" text-anchor="end" fill="#1a1a1a">100</text>
<line x1="690.9" y1="829.9" x2="690.9" y2="836.5" stroke="#000" stroke-width="1.8"/>
<text x="690.9" y="855.3" class="r" font-size="16.6" text-anchor="middle" fill="#1a1a1a">−1.0</text>
<line x1="728.1" y1="829.9" x2="728.1" y2="833.5" stroke="#000" stroke-width="1.8"/>
<line x1="765.3" y1="829.9" x2="765.3" y2="836.5" stroke="#000" stroke-width="1.8"/>
<text x="765.3" y="855.3" class="r" font-size="16.6" text-anchor="middle" fill="#1a1a1a">−0.5</text>
<line x1="802.5" y1="829.9" x2="802.5" y2="833.5" stroke="#000" stroke-width="1.8"/>
<line x1="839.7" y1="829.9" x2="839.7" y2="836.5" stroke="#000" stroke-width="1.8"/>
<text x="839.7" y="855.3" class="r" font-size="16.6" text-anchor="middle" fill="#1a1a1a">0.0</text>
<line x1="876.9" y1="829.9" x2="876.9" y2="833.5" stroke="#000" stroke-width="1.8"/>
<line x1="914.2" y1="829.9" x2="914.2" y2="836.5" stroke="#000" stroke-width="1.8"/>
<text x="914.2" y="855.3" class="r" font-size="16.6" text-anchor="middle" fill="#1a1a1a">0.5</text>
<line x1="951.4" y1="829.9" x2="951.4" y2="833.5" stroke="#000" stroke-width="1.8"/>
<line x1="988.6" y1="829.9" x2="988.6" y2="836.5" stroke="#000" stroke-width="1.8"/>
<text x="988.6" y="855.3" class="r" font-size="16.6" text-anchor="middle" fill="#1a1a1a">1.0</text>
<line x1="1025.8" y1="829.9" x2="1025.8" y2="833.5" stroke="#000" stroke-width="1.8"/>
<line x1="1063.0" y1="829.9" x2="1063.0" y2="836.5" stroke="#000" stroke-width="1.8"/>
<text x="1063.0" y="855.3" class="r" font-size="16.6" text-anchor="middle" fill="#1a1a1a">1.5</text>
<line x1="1100.2" y1="829.9" x2="1100.2" y2="833.5" stroke="#000" stroke-width="1.8"/>
<line x1="1137.4" y1="829.9" x2="1137.4" y2="836.5" stroke="#000" stroke-width="1.8"/>
<text x="1137.4" y="855.3" class="r" font-size="16.6" text-anchor="middle" fill="#1a1a1a">2.0</text>
<line x1="1137.4" y1="435.8" x2="1137.4" y2="830.9" stroke="#A31818" stroke-width="2"/>
<line x1="1137.4" y1="829.9" x2="1144.4" y2="829.9" stroke="#A31818" stroke-width="1.8"/>
<text x="1150.9" y="833.6" class="r" font-size="12.6" fill="#7A3A62">9.0</text>
<line x1="1137.4" y1="812.8" x2="1141.2" y2="812.8" stroke="#A31818" stroke-width="1.8"/>
<line x1="1137.4" y1="795.7" x2="1144.4" y2="795.7" stroke="#A31818" stroke-width="1.8"/>
<text x="1150.9" y="799.4" class="r" font-size="12.6" fill="#7A3A62">9.5</text>
<line x1="1137.4" y1="778.6" x2="1141.2" y2="778.6" stroke="#A31818" stroke-width="1.8"/>
<line x1="1137.4" y1="761.5" x2="1144.4" y2="761.5" stroke="#A31818" stroke-width="1.8"/>
<text x="1150.9" y="765.2" class="r" font-size="12.6" fill="#7A3A62">10.0</text>
<line x1="1137.4" y1="744.4" x2="1141.2" y2="744.4" stroke="#A31818" stroke-width="1.8"/>
<line x1="1137.4" y1="727.3" x2="1144.4" y2="727.3" stroke="#A31818" stroke-width="1.8"/>
<text x="1150.9" y="731.0" class="r" font-size="12.6" fill="#7A3A62">10.5</text>
<line x1="1137.4" y1="710.2" x2="1141.2" y2="710.2" stroke="#A31818" stroke-width="1.8"/>
<line x1="1137.4" y1="693.1" x2="1144.4" y2="693.1" stroke="#A31818" stroke-width="1.8"/>
<text x="1150.9" y="696.8" class="r" font-size="12.6" fill="#7A3A62">11.0</text>
<line x1="1137.4" y1="676.0" x2="1141.2" y2="676.0" stroke="#A31818" stroke-width="1.8"/>
<line x1="1137.4" y1="658.9" x2="1144.4" y2="658.9" stroke="#A31818" stroke-width="1.8"/>
<text x="1150.9" y="662.6" class="r" font-size="12.6" fill="#7A3A62">11.5</text>
<line x1="1137.4" y1="641.8" x2="1141.2" y2="641.8" stroke="#A31818" stroke-width="1.8"/>
<line x1="1137.4" y1="624.7" x2="1144.4" y2="624.7" stroke="#A31818" stroke-width="1.8"/>
<text x="1150.9" y="628.4" class="r" font-size="12.6" fill="#7A3A62">12.0</text>
<line x1="1137.4" y1="607.6" x2="1141.2" y2="607.6" stroke="#A31818" stroke-width="1.8"/>
<line x1="1137.4" y1="590.5" x2="1144.4" y2="590.5" stroke="#A31818" stroke-width="1.8"/>
<text x="1150.9" y="594.2" class="r" font-size="12.6" fill="#7A3A62">12.5</text>
<line x1="1137.4" y1="573.4" x2="1141.2" y2="573.4" stroke="#A31818" stroke-width="1.8"/>
<line x1="1137.4" y1="556.3" x2="1144.4" y2="556.3" stroke="#A31818" stroke-width="1.8"/>
<text x="1150.9" y="560.0" class="r" font-size="12.6" fill="#7A3A62">13.0</text>
<line x1="1137.4" y1="539.2" x2="1141.2" y2="539.2" stroke="#A31818" stroke-width="1.8"/>
<line x1="1137.4" y1="522.1" x2="1144.4" y2="522.1" stroke="#A31818" stroke-width="1.8"/>
<text x="1150.9" y="525.8" class="r" font-size="12.6" fill="#7A3A62">13.5</text>
<line x1="1137.4" y1="505.0" x2="1141.2" y2="505.0" stroke="#A31818" stroke-width="1.8"/>
<line x1="1137.4" y1="487.9" x2="1144.4" y2="487.9" stroke="#A31818" stroke-width="1.8"/>
<text x="1150.9" y="491.6" class="r" font-size="12.6" fill="#7A3A62">14.0</text>
<line x1="1137.4" y1="470.8" x2="1141.2" y2="470.8" stroke="#A31818" stroke-width="1.8"/>
<line x1="1137.4" y1="453.7" x2="1144.4" y2="453.7" stroke="#A31818" stroke-width="1.8"/>
<text x="1150.9" y="457.4" class="r" font-size="12.6" fill="#7A3A62">14.5</text>
<line x1="1137.4" y1="436.6" x2="1141.2" y2="436.6" stroke="#A31818" stroke-width="1.8"/>
<line x1="1195" y1="436.9" x2="1195" y2="829.7" stroke="#000" stroke-width="2"/>
<line x1="1195" y1="825.5" x2="1203" y2="825.5" stroke="#000" stroke-width="1.8"/>
<text x="1211.3" y="829.1" class="r" font-size="13" fill="#333">0</text>
<line x1="1195" y1="806.3" x2="1199" y2="806.3" stroke="#000" stroke-width="1.8"/>
<line x1="1195" y1="787.0" x2="1203" y2="787.0" stroke="#000" stroke-width="1.8"/>
<text x="1211.3" y="790.7" class="r" font-size="13" fill="#333">10</text>
<line x1="1195" y1="767.8" x2="1199" y2="767.8" stroke="#000" stroke-width="1.8"/>
<line x1="1195" y1="748.6" x2="1203" y2="748.6" stroke="#000" stroke-width="1.8"/>
<text x="1211.3" y="752.2" class="r" font-size="13" fill="#333">20</text>
<line x1="1195" y1="729.3" x2="1199" y2="729.3" stroke="#000" stroke-width="1.8"/>
<line x1="1195" y1="710.1" x2="1203" y2="710.1" stroke="#000" stroke-width="1.8"/>
<text x="1211.3" y="713.7" class="r" font-size="13" fill="#333">30</text>
<line x1="1195" y1="690.9" x2="1199" y2="690.9" stroke="#000" stroke-width="1.8"/>
<line x1="1195" y1="671.6" x2="1203" y2="671.6" stroke="#000" stroke-width="1.8"/>
<text x="1211.3" y="675.3" class="r" font-size="13" fill="#333">40</text>
<line x1="1195" y1="652.4" x2="1199" y2="652.4" stroke="#000" stroke-width="1.8"/>
<line x1="1195" y1="633.1" x2="1203" y2="633.1" stroke="#000" stroke-width="1.8"/>
<text x="1211.3" y="636.8" class="r" font-size="13" fill="#333">50</text>
<line x1="1195" y1="613.9" x2="1199" y2="613.9" stroke="#000" stroke-width="1.8"/>
<line x1="1195" y1="594.7" x2="1203" y2="594.7" stroke="#000" stroke-width="1.8"/>
<text x="1211.3" y="598.3" class="r" font-size="13" fill="#333">60</text>
<line x1="1195" y1="575.4" x2="1199" y2="575.4" stroke="#000" stroke-width="1.8"/>
<line x1="1195" y1="556.2" x2="1203" y2="556.2" stroke="#000" stroke-width="1.8"/>
<text x="1211.3" y="559.9" class="r" font-size="13" fill="#333">70</text>
<line x1="1195" y1="537.0" x2="1199" y2="537.0" stroke="#000" stroke-width="1.8"/>
<line x1="1195" y1="517.7" x2="1203" y2="517.7" stroke="#000" stroke-width="1.8"/>
<text x="1211.3" y="521.4" class="r" font-size="13" fill="#333">80</text>
<line x1="1195" y1="498.5" x2="1199" y2="498.5" stroke="#000" stroke-width="1.8"/>
<line x1="1195" y1="479.3" x2="1203" y2="479.3" stroke="#000" stroke-width="1.8"/>
<text x="1211.3" y="482.9" class="r" font-size="13" fill="#333">90</text>
<line x1="1195" y1="460.0" x2="1199" y2="460.0" stroke="#000" stroke-width="1.8"/>
<line x1="1195" y1="440.8" x2="1203" y2="440.8" stroke="#000" stroke-width="1.8"/>
<text x="1211.3" y="444.4" class="r" font-size="13" fill="#333">100</text>
<text transform="translate(857.41,886.8) scale(1.0320,1)" class="r" font-size="20" fill="#000" >Potential (V)</text>
<text transform="translate(652.6,692.34) rotate(-90) scale(1.0527,1)" class="r" font-size="19.5" fill="#000">Current (mA)</text>
<text transform="translate(1189.6,703.86) rotate(-90) scale(1.0126,1)" class="r" font-size="16.7" fill="#A31818">CH4 conversion (%)</text>
<text transform="translate(1258.3,701.81) rotate(-90) scale(1.0159,1)" class="r" font-size="24" fill="#000">Selectivity</text>
<text transform="translate(885.18,471) scale(1.0055,1)" class="b" font-size="38.3" fill="#000" >(E)</text>
<rect x="700.3" y="440.9" width="158" height="33.3" fill="#fff" stroke="#222" stroke-width="1.2"/>
<line x1="703" y1="457.3" x2="758" y2="457.3" stroke="#000" stroke-width="3" stroke-linecap="round"/>
<text transform="translate(764.02,464.9) scale(1.0148,1)" class="r" font-size="24" fill="#000" >5% CH4</text>
<rect x="701.7" y="479.1" width="86" height="101" fill="#fff" stroke="#222" stroke-width="1.2"/>
<line x1="703" y1="489.5" x2="740" y2="489.5" stroke="#4A90CC" stroke-width="1.5" stroke-dasharray="1.5,2.6"/>
<circle cx="721.3" cy="489.5" r="3.1" fill="#fff" stroke="#4A90CC" stroke-width="1.1"/>
<text x="744.0" y="495.0" class="r" font-size="15.8" fill="#000">C2H4</text>
<line x1="703" y1="509.4" x2="740" y2="509.4" stroke="#2E9A36" stroke-width="1.5" stroke-dasharray="1.5,2.6"/>
<circle cx="721.3" cy="509.4" r="3.1" fill="#fff" stroke="#2E9A36" stroke-width="1.1"/>
<text x="744.0" y="515.0" class="r" font-size="15.8" fill="#000">C2H6</text>
<line x1="703" y1="529.4" x2="740" y2="529.4" stroke="#E6E65A" stroke-width="1.5" stroke-dasharray="1.5,2.6"/>
<circle cx="721.3" cy="529.4" r="3.1" fill="#fff" stroke="#E6E65A" stroke-width="1.1"/>
<text x="743.5" y="534.9" class="r" font-size="15.8" fill="#000">H2</text>
<line x1="703" y1="549.4" x2="740" y2="549.4" stroke="#D58040" stroke-width="1.5" stroke-dasharray="1.5,2.6"/>
<circle cx="721.3" cy="549.4" r="3.1" fill="#fff" stroke="#D58040" stroke-width="1.1"/>
<text x="744.0" y="554.9" class="r" font-size="15.8" fill="#000">CO</text>
<line x1="703" y1="569.3" x2="740" y2="569.3" stroke="#8E42BE" stroke-width="1.5" stroke-dasharray="1.5,2.6"/>
<circle cx="721.3" cy="569.3" r="3.1" fill="#fff" stroke="#8E42BE" stroke-width="1.1"/>
<text x="744.0" y="574.8" class="r" font-size="15.8" fill="#000">CO2</text>
<text x="20.5" y="922" class="bi" font-size="25" fill="#000" textLength="1241" lengthAdjust="spacingAndGlyphs">Figure 1. Schematic representation of EOCM in a SOC (A). SEM images of LSTFNi after reduction</text>
<text x="25.6" y="961.5" class="bi" font-size="25" fill="#000" textLength="1231.5" lengthAdjust="spacingAndGlyphs">at 700 °C for 1h (B) and 850 °C for 12 h (C). Linear voltammetries after anode reduction at 700 or</text>
<text x="50" y="1002.3" class="bi" font-size="25" fill="#000" textLength="1180" lengthAdjust="spacingAndGlyphs">850 °C (D). CH<tspan font-size="17" dy="5">4</tspan><tspan dy="-5"> conversion and selectivities under 5 % CH</tspan><tspan font-size="17" dy="5">4</tspan><tspan dy="-5">/Ar, after reduction at 700 °C (E).</tspan></text>
</svg>
</body></html>
